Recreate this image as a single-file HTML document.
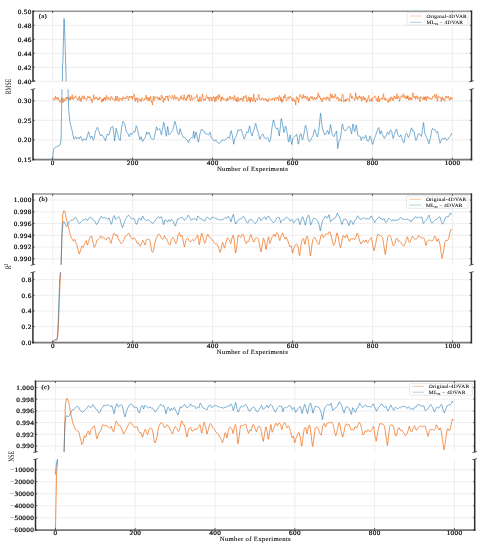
<!DOCTYPE html>
<html><head><meta charset="utf-8"><title>Figure</title>
<style>html,body{margin:0;padding:0;background:#fff;}svg{display:block;}</style>
</head><body>
<svg width="484" height="550" viewBox="0 0 484 550" font-family="Liberation Serif, Times New Roman, serif" text-rendering="geometricPrecision" stroke-linejoin="round">
<rect width="484" height="550" fill="#fff"/>
<defs>
<clipPath id="ca0"><rect x="33.0" y="11.2" width="438.5" height="70.1"/></clipPath>
<clipPath id="ca1"><rect x="33.0" y="89.2" width="438.5" height="70.10000000000001"/></clipPath>
<clipPath id="cb0"><rect x="32.9" y="194.1" width="438.5" height="70.70000000000002"/></clipPath>
<clipPath id="cb1"><rect x="32.9" y="272.2" width="438.5" height="70.10000000000002"/></clipPath>
<clipPath id="cc0"><rect x="35.5" y="381.2" width="439.2" height="70.90000000000003"/></clipPath>
<clipPath id="cc1"><rect x="35.5" y="459.2" width="439.2" height="70.50000000000006"/></clipPath>
</defs>
<line x1="52.60" y1="11.20" x2="52.60" y2="81.30" stroke="#eaeaea" stroke-width="0.8" />
<line x1="132.56" y1="11.20" x2="132.56" y2="81.30" stroke="#eaeaea" stroke-width="0.8" />
<line x1="212.52" y1="11.20" x2="212.52" y2="81.30" stroke="#eaeaea" stroke-width="0.8" />
<line x1="292.48" y1="11.20" x2="292.48" y2="81.30" stroke="#eaeaea" stroke-width="0.8" />
<line x1="372.44" y1="11.20" x2="372.44" y2="81.30" stroke="#eaeaea" stroke-width="0.8" />
<line x1="452.40" y1="11.20" x2="452.40" y2="81.30" stroke="#eaeaea" stroke-width="0.8" />
<line x1="33.00" y1="81.30" x2="471.50" y2="81.30" stroke="#eaeaea" stroke-width="0.8" />
<line x1="33.00" y1="67.30" x2="471.50" y2="67.30" stroke="#eaeaea" stroke-width="0.8" />
<line x1="33.00" y1="53.30" x2="471.50" y2="53.30" stroke="#eaeaea" stroke-width="0.8" />
<line x1="33.00" y1="39.30" x2="471.50" y2="39.30" stroke="#eaeaea" stroke-width="0.8" />
<line x1="33.00" y1="25.30" x2="471.50" y2="25.30" stroke="#eaeaea" stroke-width="0.8" />
<line x1="33.00" y1="11.30" x2="471.50" y2="11.30" stroke="#eaeaea" stroke-width="0.8" />
<polyline points="52.6,146.4 53.0,146.0 53.4,148.0 53.8,150.1 54.2,149.6 54.6,150.1 55.0,146.2 55.4,142.8 55.8,147.7 56.2,148.6 56.6,145.3 57.0,145.1 57.4,146.8 57.8,149.6 58.2,147.0 58.6,145.6 59.0,150.8 59.4,150.7 59.8,154.2 60.2,153.8 60.6,153.8 61.0,149.9 61.4,150.7 61.8,146.7 62.2,146.2 62.6,149.2 63.0,155.3 63.4,150.4 63.8,147.2 64.2,147.6 64.6,151.9 65.0,150.2 65.4,150.8 65.8,149.2 66.2,144.6 66.6,148.4 67.0,146.7 67.4,144.4 67.8,147.9 68.2,147.4 68.6,146.4 69.0,147.4 69.4,150.4 69.8,146.3 70.2,143.5 70.6,149.8 71.0,145.1 71.4,146.1 71.8,147.0 72.2,140.2 72.6,143.6 73.0,149.8 73.4,146.9 73.8,144.9 74.2,146.3 74.6,144.7 75.0,145.8 75.4,143.5 75.8,142.1 76.2,147.5 76.6,146.9 77.0,147.9 77.4,147.6 77.8,150.8 78.2,149.6 78.6,147.1 79.0,143.1 79.4,143.4 79.8,150.6 80.2,149.8 80.6,146.9 81.0,152.9 81.4,149.8 81.8,146.4 82.2,142.2 82.6,143.8 83.0,147.5 83.4,148.3 83.8,146.6 84.2,142.4 84.6,147.1 85.0,147.7 85.4,145.9 85.8,147.0 86.2,148.3 86.6,150.4 87.0,147.9 87.4,147.2 87.8,142.8 88.2,143.7 88.6,145.7 89.0,144.8 89.4,146.4 89.8,143.6 90.2,145.4 90.6,145.8 91.0,150.1 91.4,148.0 91.8,153.4 92.2,154.7 92.6,150.0 93.0,149.7 93.4,145.1 93.8,140.1 94.2,148.0 94.6,149.1 95.0,146.1 95.4,145.1 95.8,147.0 96.2,146.9 96.6,144.2 97.0,145.3 97.4,149.6 97.8,147.7 98.2,147.5 98.6,149.8 99.0,147.4 99.4,148.4 99.8,144.1 100.2,145.2 100.6,146.7 101.0,148.6 101.4,149.1 101.8,154.0 102.2,151.6 102.6,148.1 103.0,152.5 103.4,147.0 103.8,151.0 104.2,146.3 104.6,148.2 105.0,144.8 105.4,146.9 105.8,150.4 106.2,142.8 106.6,141.2 107.0,145.9 107.4,147.7 107.8,148.2 108.2,149.0 108.6,144.4 109.0,147.6 109.4,147.9 109.8,149.8 110.2,150.3 110.6,150.3 111.0,143.8 111.4,145.4 111.8,143.7 112.2,146.4 112.6,149.1 113.0,148.7 113.4,148.7 113.8,147.4 114.2,148.1 114.6,149.0 115.0,151.9 115.4,149.0 115.8,142.6 116.2,148.3 116.6,150.3 117.0,145.4 117.4,143.1 117.8,150.4 118.2,149.0 118.6,150.3 119.0,152.2 119.4,145.8 119.8,146.1 120.2,147.1 120.6,148.7 121.0,146.3 121.4,148.2 121.8,148.5 122.2,151.3 122.6,150.4 123.0,143.8 123.4,147.0 123.8,146.2 124.2,146.9 124.6,148.5 125.0,148.2 125.4,145.3 125.8,147.3 126.2,147.4 126.6,145.8 127.0,142.4 127.4,143.3 127.8,145.4 128.2,149.2 128.6,150.8 129.0,144.0 129.4,143.0 129.8,145.9 130.2,144.4 130.6,143.1 131.0,142.7 131.4,143.4 131.8,146.2 132.2,143.2 132.6,148.8 133.0,144.5 133.4,143.7 133.8,142.0 134.2,138.8 134.6,141.4 135.0,150.5 135.4,152.3 135.8,146.2 136.2,149.3 136.6,146.9 137.0,145.4 137.4,152.9 137.8,154.5 138.2,147.5 138.6,146.6 139.0,147.4 139.4,147.5 139.8,150.6 140.2,152.3 140.6,149.2 141.0,151.2 141.4,152.3 141.8,146.4 142.2,146.2 142.6,146.2 143.0,150.0 143.4,150.4 143.8,151.1 144.2,150.2 144.6,147.4 145.0,148.7 145.4,145.9 145.8,143.7 146.2,141.1 146.6,148.8 147.0,145.0 147.4,146.3 147.8,147.9 148.2,151.7 148.6,148.7 149.0,144.8 149.4,150.8 149.8,146.7 150.2,146.6 150.6,143.3 151.0,147.6 151.4,154.3 151.8,152.2 152.2,156.1 152.6,159.0 152.9,149.9 153.3,142.9 153.7,146.4 154.1,151.1 154.5,149.7 154.9,143.7 155.3,145.3 155.7,146.4 156.1,146.8 156.5,146.0 156.9,143.6 157.3,144.1 157.7,146.4 158.1,149.4 158.5,146.4 158.9,147.6 159.3,144.7 159.7,150.0 160.1,148.1 160.5,147.9 160.9,149.5 161.3,141.1 161.7,141.0 162.1,146.4 162.5,144.3 162.9,146.9 163.3,154.5 163.7,148.0 164.1,146.7 164.5,147.3 164.9,150.3 165.3,148.5 165.7,143.7 166.1,142.8 166.5,144.7 166.9,145.2 167.3,142.3 167.7,147.6 168.1,149.8 168.5,151.5 168.9,142.4 169.3,141.7 169.7,142.4 170.1,143.7 170.5,145.6 170.9,146.1 171.3,147.5 171.7,147.5 172.1,145.5 172.5,141.4 172.9,143.8 173.3,146.9 173.7,149.0 174.1,147.9 174.5,141.7 174.9,141.3 175.3,146.3 175.7,148.6 176.1,148.3 176.5,147.1 176.9,144.3 177.3,147.4 177.7,147.9 178.1,147.5 178.5,147.8 178.9,151.9 179.3,149.4 179.7,148.9 180.1,145.2 180.5,148.0 180.9,144.2 181.3,141.6 181.7,146.9 182.1,148.7 182.5,146.6 182.9,147.3 183.3,149.5 183.7,144.4 184.1,140.1 184.5,146.1 184.9,148.3 185.3,149.9 185.7,147.5 186.1,151.3 186.5,150.2 186.9,144.2 187.3,147.7 187.7,142.7 188.1,140.8 188.5,144.2 188.9,143.1 189.3,140.2 189.7,146.2 190.1,149.8 190.5,151.4 190.9,146.4 191.3,141.2 191.7,143.2 192.1,149.6 192.5,150.5 192.9,148.7 193.3,146.3 193.7,146.9 194.1,145.9 194.5,145.8 194.9,147.4 195.3,146.9 195.7,146.1 196.1,143.1 196.5,143.6 196.9,139.9 197.3,143.3 197.7,147.3 198.1,151.7 198.5,148.3 198.9,153.7 199.3,152.0 199.7,144.5 200.1,143.9 200.5,147.9 200.9,152.5 201.3,149.8 201.7,148.6 202.1,143.4 202.5,138.8 202.9,144.8 203.3,149.9 203.7,151.1 204.1,148.0 204.5,148.2 204.9,150.4 205.3,148.1 205.7,149.4 206.1,143.2 206.5,141.6 206.9,142.7 207.3,146.9 207.7,145.5 208.1,147.0 208.5,148.3 208.9,144.4 209.3,152.2 209.7,151.7 210.1,145.5 210.5,146.5 210.9,145.4 211.3,144.7 211.7,152.0 212.1,150.4 212.5,146.5 212.9,145.6 213.3,146.7 213.7,143.5 214.1,146.2 214.5,151.1 214.9,153.4 215.3,144.5 215.7,146.1 216.1,151.3 216.5,143.4 216.9,142.7 217.3,142.2 217.7,147.1 218.1,148.8 218.5,148.5 218.9,139.6 219.3,144.0 219.7,142.2 220.1,147.4 220.5,148.0 220.9,152.2 221.3,148.5 221.7,144.9 222.1,149.0 222.5,144.0 222.9,145.6 223.3,146.4 223.7,149.5 224.1,148.6 224.5,147.6 224.9,149.1 225.3,150.0 225.7,149.1 226.1,151.2 226.5,151.6 226.9,147.2 227.3,145.1 227.7,150.9 228.1,148.4 228.5,149.5 228.9,149.6 229.3,145.1 229.7,146.5 230.1,142.9 230.5,147.7 230.9,146.2 231.3,147.7 231.7,148.8 232.1,145.5 232.5,146.2 232.9,144.9 233.3,147.2 233.7,150.2 234.1,147.8 234.5,141.2 234.9,144.3 235.3,148.9 235.7,148.9 236.1,151.7 236.5,146.9 236.9,153.5 237.3,153.3 237.7,147.5 238.1,144.5 238.5,151.5 238.9,151.9 239.3,150.8 239.7,150.6 240.1,147.0 240.5,149.5 240.9,149.2 241.3,146.0 241.7,148.3 242.1,146.7 242.5,150.4 242.9,152.7 243.3,152.0 243.7,142.5 244.1,146.1 244.5,146.2 244.9,146.5 245.3,146.1 245.7,144.9 246.1,141.4 246.5,149.7 246.9,153.3 247.3,152.2 247.7,151.1 248.1,144.7 248.5,144.3 248.9,150.2 249.3,152.1 249.7,147.9 250.1,144.8 250.5,154.1 250.9,148.1 251.3,148.9 251.7,145.1 252.1,149.5 252.5,149.6 252.9,152.5 253.3,149.9 253.7,138.9 254.1,143.3 254.5,148.0 254.9,151.3 255.3,153.7 255.7,149.5 256.1,147.2 256.5,147.1 256.9,147.9 257.3,150.4 257.7,147.8 258.1,145.8 258.5,141.1 258.9,139.8 259.3,146.2 259.7,149.3 260.1,148.0 260.5,149.3 260.9,149.6 261.3,148.3 261.7,149.6 262.1,145.7 262.5,146.3 262.9,146.1 263.3,147.7 263.7,149.9 264.1,150.5 264.5,148.6 264.9,148.4 265.3,146.4 265.7,147.6 266.1,151.0 266.5,148.6 266.9,151.4 267.3,150.0 267.7,149.8 268.1,153.5 268.5,147.9 268.9,146.3 269.3,147.4 269.7,148.5 270.1,149.0 270.5,150.3 270.9,148.8 271.3,148.6 271.7,147.8 272.1,150.3 272.5,146.8 272.9,146.2 273.3,147.4 273.7,147.8 274.1,146.6 274.5,151.2 274.9,146.3 275.3,145.3 275.7,145.3 276.1,145.8 276.5,148.7 276.9,147.5 277.3,144.5 277.7,144.7 278.1,146.9 278.5,150.9 278.9,145.2 279.3,141.7 279.7,142.4 280.1,146.3 280.5,150.7 280.9,145.1 281.3,148.4 281.7,154.6 282.1,148.7 282.5,152.2 282.9,152.5 283.3,148.7 283.7,143.4 284.1,146.6 284.5,144.7 284.9,139.6 285.3,140.3 285.7,145.9 286.1,148.5 286.5,151.4 286.9,149.6 287.3,145.6 287.7,145.0 288.1,145.2 288.5,144.0 288.9,148.4 289.3,146.9 289.7,143.9 290.1,143.4 290.5,142.5 290.9,144.8 291.3,147.1 291.7,146.6 292.1,150.9 292.5,152.2 292.9,146.2 293.3,146.2 293.7,147.1 294.1,152.1 294.5,149.7 294.9,149.6 295.3,151.7 295.7,159.0 296.1,148.8 296.5,143.8 296.9,145.2 297.3,148.3 297.7,146.6 298.1,149.1 298.5,155.0 298.9,148.8 299.3,144.5 299.7,142.7 300.1,139.8 300.5,141.5 300.9,144.5 301.3,144.8 301.7,144.4 302.1,147.8 302.5,146.5 302.9,142.3 303.3,139.9 303.7,145.7 304.1,146.8 304.5,145.0 304.9,142.3 305.3,144.6 305.7,142.8 306.1,148.7 306.5,148.2 306.9,146.8 307.3,143.5 307.7,143.9 308.1,151.4 308.5,150.5 308.9,146.9 309.3,149.7 309.7,151.2 310.1,144.2 310.5,143.9 310.9,145.1 311.3,147.0 311.7,144.0 312.1,145.8 312.5,144.1 312.9,149.4 313.3,150.0 313.7,147.3 314.1,148.2 314.5,144.9 314.9,146.1 315.3,149.3 315.7,147.4 316.1,147.0 316.5,144.6 316.9,148.3 317.3,147.6 317.7,141.4 318.1,137.0 318.5,138.5 318.9,144.7 319.3,144.7 319.7,141.7 320.1,146.6 320.5,149.8 320.9,146.7 321.3,148.8 321.7,150.3 322.1,153.7 322.5,152.0 322.9,146.3 323.3,148.7 323.7,147.5 324.1,145.6 324.5,144.8 324.9,146.9 325.3,146.1 325.7,149.4 326.1,149.3 326.5,149.3 326.9,143.9 327.3,146.5 327.7,145.2 328.1,148.6 328.5,147.1 328.9,145.9 329.3,152.0 329.7,151.5 330.1,146.7 330.5,138.2 330.9,141.7 331.3,145.7 331.7,142.9 332.1,139.8 332.5,146.1 332.9,147.0 333.3,142.7 333.7,143.6 334.1,144.5 334.5,146.2 334.9,139.6 335.3,139.3 335.7,143.0 336.1,145.6 336.5,148.4 336.9,146.4 337.3,146.5 337.7,144.9 338.1,144.5 338.5,148.6 338.9,152.0 339.3,147.4 339.7,149.0 340.1,148.8 340.5,149.2 340.9,150.1 341.3,153.3 341.7,144.4 342.1,144.0 342.5,141.4 342.9,139.5 343.3,146.5 343.7,153.1 344.1,151.9 344.5,151.6 344.9,149.2 345.3,148.4 345.7,152.7 346.1,148.4 346.5,151.0 346.9,147.0 347.3,147.1 347.7,147.8 348.1,147.6 348.5,149.0 348.9,150.4 349.3,152.5 349.7,146.6 350.1,139.3 350.5,137.9 350.9,140.3 351.3,143.9 351.7,147.1 352.1,142.7 352.4,145.8 352.8,147.2 353.2,147.6 353.6,147.0 354.0,148.1 354.4,148.2 354.8,150.5 355.2,146.9 355.6,136.5 356.0,140.4 356.4,147.0 356.8,144.6 357.2,144.9 357.6,149.8 358.0,147.5 358.4,143.7 358.8,145.0 359.2,144.8 359.6,142.2 360.0,147.5 360.4,147.3 360.8,147.1 361.2,143.9 361.6,152.3 362.0,150.8 362.4,148.4 362.8,144.5 363.2,143.1 363.6,143.0 364.0,150.0 364.4,145.8 364.8,147.6 365.2,148.6 365.6,146.3 366.0,150.8 366.4,154.3 366.8,150.7 367.2,152.3 367.6,149.6 368.0,145.8 368.4,144.1 368.8,141.6 369.2,147.3 369.6,152.3 370.0,151.0 370.4,151.2 370.8,151.0 371.2,146.8 371.6,150.0 372.0,152.9 372.4,146.1 372.8,146.2 373.2,145.5 373.6,145.6 374.0,144.5 374.4,145.1 374.8,142.4 375.2,144.0 375.6,144.8 376.0,146.2 376.4,151.1 376.8,148.6 377.2,147.5 377.6,147.3 378.0,153.4 378.4,142.5 378.8,146.1 379.2,151.8 379.6,153.3 380.0,149.0 380.4,147.8 380.8,149.0 381.2,147.5 381.6,148.2 382.0,146.0 382.4,148.6 382.8,146.6 383.2,141.6 383.6,138.5 384.0,148.2 384.4,149.6 384.8,149.1 385.2,145.8 385.6,150.1 386.0,149.2 386.4,148.0 386.8,150.6 387.2,150.9 387.6,150.6 388.0,154.9 388.4,153.3 388.8,149.1 389.2,146.7 389.6,148.6 390.0,152.8 390.4,148.9 390.8,144.1 391.2,144.4 391.6,147.2 392.0,149.1 392.4,145.9 392.8,149.0 393.2,151.5 393.6,149.0 394.0,142.5 394.4,143.9 394.8,143.2 395.2,146.5 395.6,144.5 396.0,147.9 396.4,145.7 396.8,138.3 397.2,142.7 397.6,147.7 398.0,147.1 398.4,144.8 398.8,143.0 399.2,148.7 399.6,152.8 400.0,148.9 400.4,146.8 400.8,145.3 401.2,142.1 401.6,144.0 402.0,144.7 402.4,145.4 402.8,143.1 403.2,138.7 403.6,142.3 404.0,145.1 404.4,144.6 404.8,141.6 405.2,148.3 405.6,147.4 406.0,144.7 406.4,144.3 406.8,147.2 407.2,141.9 407.6,147.2 408.0,142.4 408.4,147.9 408.8,150.4 409.2,147.0 409.6,144.7 410.0,149.2 410.4,147.7 410.8,145.6 411.2,149.4 411.6,147.8 412.0,149.0 412.4,142.0 412.8,136.8 413.2,138.6 413.6,145.2 414.0,144.4 414.4,145.6 414.8,145.0 415.2,142.7 415.6,148.8 416.0,144.4 416.4,144.9 416.8,142.1 417.2,145.5 417.6,148.4 418.0,145.7 418.4,144.1 418.8,145.6 419.2,145.5 419.6,149.6 420.0,153.2 420.4,145.0 420.8,143.6 421.2,145.6 421.6,145.5 422.0,147.3 422.4,147.9 422.8,149.4 423.2,146.9 423.6,144.1 424.0,149.2 424.4,144.5 424.8,148.6 425.2,149.7 425.6,143.6 426.0,147.0 426.4,151.2 426.8,144.0 427.2,143.1 427.6,142.5 428.0,146.8 428.4,145.2 428.8,144.6 429.2,147.9 429.6,146.1 430.0,146.9 430.4,148.8 430.8,148.6 431.2,146.8 431.6,147.0 432.0,148.8 432.4,147.6 432.8,143.3 433.2,144.4 433.6,142.7 434.0,141.7 434.4,142.0 434.8,139.6 435.2,146.9 435.6,145.0 436.0,145.6 436.4,139.7 436.8,141.4 437.2,152.3 437.6,150.8 438.0,144.7 438.4,143.1 438.8,143.8 439.2,145.9 439.6,144.8 440.0,144.3 440.4,145.6 440.8,145.2 441.2,152.6 441.6,147.3 442.0,148.7 442.4,144.6 442.8,147.4 443.2,149.4 443.6,146.9 444.0,150.0 444.4,151.5 444.8,152.4 445.2,147.6 445.6,144.3 446.0,143.1 446.4,145.5 446.8,143.4 447.2,145.9 447.6,146.5 448.0,144.1 448.4,143.1 448.8,147.1 449.2,147.8 449.6,150.5 450.0,147.2 450.4,148.7 450.8,144.4 451.2,146.8 451.6,146.2 452.0,148.7 452.4,146.2" fill="none" stroke="#f06408" stroke-width="0.6" stroke-linejoin="round" clip-path="url(#ca0)"/>
<polyline points="52.6,256.3 53.0,247.2 53.6,238.8 54.5,236.0 55.5,234.6 56.5,233.9 58.0,232.9 59.3,231.8 60.4,229.0 61.0,221.3 61.5,179.3 62.0,130.3 62.2,102.3 62.4,81.3 62.5,65.9 62.7,63.1 62.9,62.4 63.2,49.8 63.9,21.1 64.1,18.5 64.3,21.8 65.3,49.8 66.2,81.3 67.2,109.3 68.0,130.3 68.4,151.3 68.8,170.2 70.0,190.5 70.6,194.3 71.0,197.0 71.4,199.7 71.8,202.6 72.2,205.8 72.6,209.2 73.0,212.8 73.4,216.4 73.8,219.8 74.2,219.6 74.6,218.2 75.0,217.1 75.4,215.8 75.8,216.0 76.2,217.8 76.6,219.6 77.0,219.8 77.4,218.6 77.8,217.7 78.2,216.9 78.6,218.2 79.0,219.2 79.4,219.5 79.8,217.5 80.2,215.9 80.6,215.3 81.0,216.8 81.4,218.1 81.8,219.7 82.2,222.1 82.6,223.3 83.0,222.6 83.4,221.4 83.8,220.1 84.2,219.1 84.6,219.5 85.0,220.4 85.4,221.2 85.8,221.9 86.2,221.9 86.6,219.3 87.0,216.6 87.4,213.8 87.8,211.2 88.2,208.9 88.6,206.7 89.0,209.1 89.4,211.7 89.8,214.3 90.2,216.9 90.6,218.7 91.0,217.1 91.4,215.5 91.8,214.4 92.2,216.1 92.6,218.0 93.0,220.2 93.4,222.1 93.8,221.3 94.2,217.5 94.6,213.9 95.0,210.5 95.4,207.2 95.8,205.2 96.2,203.3 96.6,201.7 97.0,200.1 97.4,198.9 97.8,200.5 98.2,202.5 98.6,204.8 99.0,207.0 99.4,209.1 99.8,211.1 100.2,213.3 100.6,214.5 101.0,213.8 101.4,212.5 101.8,211.7 102.2,212.6 102.6,213.8 103.0,214.9 103.4,215.7 103.8,216.9 104.2,218.4 104.6,220.1 105.0,222.0 105.4,223.0 105.8,220.6 106.2,218.2 106.6,215.5 107.0,212.6 107.4,211.1 107.8,211.6 108.2,211.9 108.6,212.3 109.0,212.7 109.4,209.6 109.8,206.6 110.2,204.2 110.6,201.7 111.0,199.1 111.4,198.3 111.8,197.7 112.2,197.4 112.6,196.9 113.0,198.9 113.4,204.7 113.8,210.8 114.2,217.1 114.6,223.3 115.0,217.9 115.4,211.4 115.8,204.9 116.2,200.6 116.6,204.5 117.0,207.7 117.4,209.5 117.8,211.3 118.2,214.0 118.6,217.0 119.0,219.5 119.4,220.7 119.8,221.7 120.2,222.5 120.6,215.9 121.0,208.9 121.4,202.0 121.8,198.4 122.2,195.1 122.6,191.6 123.0,188.0 123.4,189.1 123.8,190.5 124.2,191.5 124.6,192.6 125.0,195.4 125.4,198.5 125.8,201.8 126.2,205.0 126.6,207.1 127.0,207.9 127.4,208.8 127.8,209.8 128.2,211.2 128.6,213.4 129.0,215.5 129.4,215.6 129.8,213.1 130.2,210.7 130.6,209.4 131.0,210.7 131.4,211.5 131.8,211.5 132.2,210.2 132.6,209.2 133.0,208.2 133.4,206.9 133.8,206.2 134.2,206.8 134.6,207.9 135.0,207.4 135.4,203.7 135.8,199.6 136.2,196.0 136.6,197.4 137.0,198.9 137.4,201.0 137.8,204.8 138.2,208.5 138.6,212.1 139.0,215.2 139.4,218.0 139.8,220.9 140.2,219.6 140.6,217.9 141.0,215.8 141.4,217.5 141.8,220.4 142.2,223.8 142.6,224.4 143.0,223.1 143.4,221.5 143.8,220.3 144.2,219.4 144.6,218.8 145.0,217.6 145.4,215.8 145.8,213.5 146.2,210.4 146.6,207.1 147.0,208.0 147.4,209.8 147.8,211.3 148.2,209.8 148.6,208.5 149.0,207.8 149.4,209.5 149.8,212.3 150.2,214.8 150.6,217.0 151.0,219.0 151.4,219.3 151.8,219.7 152.2,220.0 152.6,220.4 152.9,220.6 153.3,220.4 153.7,220.2 154.1,218.7 154.5,215.2 154.9,211.5 155.3,207.8 155.7,204.3 156.1,200.7 156.5,197.9 156.9,199.8 157.3,201.9 157.7,204.0 158.1,203.8 158.5,203.0 158.9,202.2 159.3,201.3 159.7,201.6 160.1,203.8 160.5,206.5 160.9,209.5 161.3,212.3 161.7,210.6 162.1,206.2 162.5,202.1 162.9,198.1 163.3,194.2 163.7,190.1 164.1,191.1 164.5,195.4 164.9,199.8 165.3,204.2 165.7,209.0 166.1,214.0 166.5,215.0 166.9,208.8 167.3,202.4 167.7,197.3 168.1,202.6 168.5,207.8 168.9,212.4 169.3,211.7 169.7,211.1 170.1,210.5 170.5,209.8 170.9,208.8 171.3,207.4 171.7,206.3 172.1,205.4 172.5,204.5 172.9,202.4 173.3,199.8 173.7,196.9 174.1,193.9 174.5,190.7 174.9,188.1 175.3,190.3 175.7,192.9 176.1,195.4 176.5,198.7 176.9,202.4 177.3,206.0 177.7,208.9 178.1,210.1 178.5,211.2 178.9,212.3 179.3,210.1 179.7,205.4 180.1,201.3 180.5,203.9 180.9,206.7 181.3,209.2 181.7,210.6 182.1,212.0 182.5,213.7 182.9,215.5 183.3,216.8 183.7,217.0 184.1,216.8 184.5,216.7 184.9,217.5 185.3,218.6 185.7,219.7 186.1,220.5 186.5,220.9 186.9,221.1 187.3,221.7 187.7,223.2 188.1,224.9 188.5,226.1 188.9,224.3 189.3,222.3 189.7,220.2 190.1,219.2 190.5,218.4 190.9,217.8 191.3,217.4 191.7,217.2 192.1,217.6 192.5,218.3 192.9,217.0 193.3,211.1 193.7,205.8 194.1,212.2 194.5,218.5 194.9,218.3 195.3,213.1 195.7,207.8 196.1,207.3 196.5,210.5 196.9,213.6 197.3,216.7 197.7,220.5 198.1,224.3 198.5,225.5 198.9,221.4 199.3,217.0 199.7,212.9 200.1,209.9 200.5,207.4 200.9,205.1 201.3,202.6 201.7,202.0 202.1,203.0 202.5,204.3 202.9,205.2 203.3,205.5 203.7,205.5 204.1,205.9 204.5,207.7 204.9,209.5 205.3,210.6 205.7,210.4 206.1,210.4 206.5,210.8 206.9,211.3 207.3,211.5 207.7,211.7 208.1,212.1 208.5,212.4 208.9,212.1 209.3,210.3 209.7,208.8 210.1,207.7 210.5,210.4 210.9,213.9 211.3,217.2 211.7,218.2 212.1,218.6 212.5,219.3 212.9,220.4 213.3,221.4 213.7,222.1 214.1,222.9 214.5,224.0 214.9,223.5 215.3,222.5 215.7,221.4 216.1,222.1 216.5,223.5 216.9,224.6 217.3,225.5 217.7,226.5 218.1,227.1 218.5,227.3 218.9,227.5 219.3,228.1 219.7,227.6 220.1,226.1 220.5,224.7 220.9,223.7 221.3,223.0 221.7,223.2 222.1,223.0 222.5,222.3 222.9,221.8 223.3,221.7 223.7,222.3 224.1,222.7 224.5,222.7 224.9,221.8 225.3,221.2 225.7,220.4 226.1,219.4 226.5,218.3 226.9,217.5 227.3,217.0 227.7,216.7 228.1,216.4 228.5,217.3 228.9,217.8 229.3,218.5 229.7,216.2 230.1,212.7 230.5,209.2 230.9,206.0 231.3,205.0 231.7,208.7 232.1,212.0 232.5,214.8 232.9,219.8 233.3,224.7 233.7,229.2 234.1,225.5 234.5,222.2 234.9,219.2 235.3,217.7 235.7,216.7 236.1,215.7 236.5,213.5 236.9,210.8 237.3,208.1 237.7,205.5 238.1,203.0 238.5,203.6 238.9,204.2 239.3,204.6 239.7,204.5 240.1,203.8 240.5,203.3 240.9,202.9 241.3,202.8 241.7,204.9 242.1,207.4 242.5,209.8 242.9,212.4 243.3,215.2 243.7,217.8 244.1,219.8 244.5,219.4 244.9,216.9 245.3,214.9 245.7,212.8 246.1,210.4 246.5,207.7 246.9,206.6 247.3,207.3 247.7,208.3 248.1,208.6 248.5,205.3 248.9,201.8 249.3,198.0 249.7,196.2 250.1,200.5 250.5,204.6 250.9,208.2 251.3,210.2 251.7,212.3 252.1,214.6 252.5,211.9 252.9,209.2 253.3,206.7 253.7,204.3 254.1,201.9 254.5,199.5 254.9,197.1 255.3,194.5 255.7,191.9 256.1,193.8 256.5,197.5 256.9,201.2 257.3,203.7 257.7,205.6 258.1,207.4 258.5,209.9 258.9,213.0 259.3,216.3 259.7,219.5 260.1,220.2 260.5,218.2 260.9,216.1 261.3,214.1 261.7,212.9 262.1,212.0 262.5,211.4 262.9,210.9 263.3,211.5 263.7,214.3 264.1,216.4 264.5,217.9 264.9,217.7 265.3,218.0 265.7,218.7 266.1,218.7 266.5,218.6 266.9,218.4 267.3,217.8 267.7,217.5 268.1,219.0 268.5,220.8 268.9,223.0 269.3,225.2 269.7,224.4 270.1,222.5 270.5,220.7 270.9,216.5 271.3,209.8 271.7,203.6 272.1,198.4 272.5,194.2 272.9,189.9 273.3,186.0 273.7,185.7 274.1,189.1 274.5,192.5 274.9,196.2 275.3,198.3 275.7,199.6 276.1,200.8 276.5,202.0 276.9,201.4 277.3,200.4 277.7,199.9 278.1,203.2 278.5,206.8 278.9,210.6 279.3,214.6 279.7,209.1 280.1,202.5 280.5,195.3 280.9,188.0 281.3,183.1 281.7,186.3 282.1,189.4 282.5,192.4 282.9,196.6 283.3,201.4 283.7,206.8 284.1,208.3 284.5,204.9 284.9,201.3 285.3,197.3 285.7,196.5 286.1,199.8 286.5,203.4 286.9,207.1 287.3,210.9 287.7,215.5 288.1,220.4 288.5,225.4 288.9,224.5 289.3,220.6 289.7,216.4 290.1,212.4 290.5,216.2 290.9,220.8 291.3,225.4 291.7,229.7 292.1,226.5 292.5,222.6 292.9,218.9 293.3,217.6 293.7,217.2 294.1,216.6 294.5,215.6 294.9,214.8 295.3,214.5 295.7,214.1 296.1,212.9 296.5,211.4 296.9,212.8 297.3,217.6 297.7,223.0 298.1,228.3 298.5,229.2 298.9,224.6 299.3,219.6 299.7,214.6 300.1,212.2 300.5,211.0 300.9,210.0 301.3,212.3 301.7,216.1 302.1,220.0 302.5,221.4 302.9,219.0 303.3,216.1 303.7,213.0 304.1,209.4 304.5,204.9 304.9,200.6 305.3,196.4 305.7,195.5 306.1,198.4 306.5,201.2 306.9,204.3 307.3,209.2 307.7,214.8 308.1,219.8 308.5,221.7 308.9,222.9 309.3,224.5 309.7,224.1 310.1,222.8 310.5,221.9 310.9,221.1 311.3,219.7 311.7,218.0 312.1,216.3 312.5,215.2 312.9,214.2 313.3,212.5 313.7,209.2 314.1,205.8 314.5,202.6 314.9,203.2 315.3,205.6 315.7,208.0 316.1,210.2 316.5,212.1 316.9,214.3 317.3,216.3 317.7,215.6 318.1,211.3 318.5,206.7 318.9,202.3 319.3,196.8 319.7,189.2 320.1,181.6 320.5,173.8 320.9,176.4 321.3,183.9 321.7,191.2 322.1,196.3 322.5,200.0 322.9,203.5 323.3,206.0 323.7,207.4 324.1,209.1 324.5,210.8 324.9,212.7 325.3,211.5 325.7,210.4 326.1,209.4 326.5,208.3 326.9,206.8 327.3,204.7 327.7,204.8 328.1,206.7 328.5,209.1 328.9,211.5 329.3,209.0 329.7,204.0 330.1,199.0 330.5,193.9 330.9,197.2 331.3,201.7 331.7,206.6 332.1,210.9 332.5,212.2 332.9,213.4 333.3,214.6 333.7,215.5 334.1,215.5 334.5,213.0 334.9,211.3 335.3,210.2 335.7,209.0 336.1,207.6 336.5,205.6 336.9,215.3 337.3,226.1 337.7,236.8 338.1,233.5 338.5,228.6 338.9,223.9 339.3,222.5 339.7,221.4 340.1,220.3 340.5,218.3 340.9,212.3 341.3,206.2 341.7,200.3 342.1,195.0 342.5,193.1 342.9,196.3 343.3,199.5 343.7,202.0 344.1,203.3 344.5,204.0 344.9,205.0 345.3,205.4 345.7,204.3 346.1,203.4 346.5,202.7 346.9,201.9 347.3,200.7 347.7,199.3 348.1,198.1 348.5,197.4 348.9,196.7 349.3,197.9 349.7,198.7 350.1,199.9 350.5,202.4 350.9,206.0 351.3,209.0 351.7,210.6 352.1,204.7 352.4,199.0 352.8,194.0 353.2,192.9 353.6,197.5 354.0,201.9 354.4,205.9 354.8,206.8 355.2,202.8 355.6,198.9 356.0,195.1 356.4,194.7 356.8,200.0 357.2,205.5 357.6,211.0 358.0,213.8 358.4,214.7 358.8,214.9 359.2,214.9 359.6,214.7 360.0,215.0 360.4,215.9 360.8,219.4 361.2,222.5 361.6,220.8 362.0,218.9 362.4,217.0 362.8,216.3 363.2,217.2 363.6,218.0 364.0,218.7 364.4,218.5 364.8,216.9 365.2,215.0 365.6,213.3 366.0,214.9 366.4,217.3 366.8,220.2 367.2,223.0 367.6,223.9 368.0,224.1 368.4,224.0 368.8,222.8 369.2,219.8 369.6,217.0 370.0,214.1 370.4,214.8 370.8,217.8 371.2,220.5 371.6,223.4 372.0,226.4 372.4,229.5 372.8,229.3 373.2,227.0 373.6,224.3 374.0,221.4 374.4,218.8 374.8,217.1 375.2,215.8 375.6,214.1 376.0,211.6 376.4,208.8 376.8,206.7 377.2,204.7 377.6,203.0 378.0,201.6 378.4,200.3 378.8,199.3 379.2,203.6 379.6,207.5 380.0,211.0 380.4,209.0 380.8,206.6 381.2,204.8 381.6,207.0 382.0,209.6 382.4,211.6 382.8,213.1 383.2,214.1 383.6,215.6 384.0,217.3 384.4,218.7 384.8,217.4 385.2,215.6 385.6,214.7 386.0,214.4 386.4,213.3 386.8,211.2 387.2,208.7 387.6,207.4 388.0,208.8 388.4,210.3 388.8,211.6 389.2,211.0 389.6,207.9 390.0,205.3 390.4,203.4 390.8,204.1 391.2,204.5 391.6,205.4 392.0,209.1 392.4,212.8 392.8,216.2 393.2,219.0 393.6,216.6 394.0,214.4 394.4,212.1 394.8,209.7 395.2,207.5 395.6,205.6 396.0,203.7 396.4,202.0 396.8,203.4 397.2,207.0 397.6,210.6 398.0,212.7 398.4,213.7 398.8,214.7 399.2,215.8 399.6,215.9 400.0,215.0 400.4,213.9 400.8,212.3 401.2,213.7 401.6,216.4 402.0,219.4 402.4,222.0 402.8,223.4 403.2,224.7 403.6,225.9 404.0,226.6 404.4,222.6 404.8,218.6 405.2,214.6 405.6,210.9 406.0,210.1 406.4,209.9 406.8,210.0 407.2,211.0 407.6,213.8 408.0,215.8 408.4,217.5 408.8,216.6 409.2,214.0 409.6,211.8 410.0,209.4 410.4,206.5 410.8,203.4 411.2,200.4 411.6,199.9 412.0,201.7 412.4,204.0 412.8,205.8 413.2,205.5 413.6,205.1 414.0,206.0 414.4,210.0 414.8,213.7 415.2,217.4 415.6,221.4 416.0,222.6 416.4,221.3 416.8,219.5 417.2,217.1 417.6,214.6 418.0,212.4 418.4,210.5 418.8,210.2 419.2,210.3 419.6,210.7 420.0,211.6 420.4,213.2 420.8,214.4 421.2,215.4 421.6,214.3 422.0,208.5 422.4,203.2 422.8,198.5 423.2,194.2 423.6,190.3 424.0,197.0 424.4,203.8 424.8,210.1 425.2,211.4 425.6,212.7 426.0,214.7 426.4,216.5 426.8,217.9 427.2,218.8 427.6,221.1 428.0,223.7 428.4,226.0 428.8,228.3 429.2,226.3 429.6,223.7 430.0,221.4 430.4,218.1 430.8,213.9 431.2,209.3 431.6,205.7 432.0,203.1 432.4,200.8 432.8,200.6 433.2,202.0 433.6,203.1 434.0,203.8 434.4,203.6 434.8,203.3 435.2,203.3 435.6,205.1 436.0,207.1 436.4,208.6 436.8,208.2 437.2,207.6 437.6,206.6 438.0,209.7 438.4,213.2 438.8,217.1 439.2,220.6 439.6,224.2 440.0,227.5 440.4,226.4 440.8,224.1 441.2,221.9 441.6,220.9 442.0,220.0 442.4,218.6 442.8,218.5 443.2,219.2 443.6,220.1 444.0,219.9 444.4,218.9 444.8,217.7 445.2,217.6 445.6,218.8 446.0,220.2 446.4,221.8 446.8,221.4 447.2,220.8 447.6,220.6 448.0,220.2 448.4,219.3 448.8,218.0 449.2,216.6 449.6,215.7 450.0,215.0 450.4,214.6 450.8,213.0 451.2,211.1 451.6,209.4" fill="none" stroke="#1f77b4" stroke-width="0.6" stroke-linejoin="round" clip-path="url(#ca0)"/>
<line x1="32.30" y1="11.20" x2="472.20" y2="11.20" stroke="#959595" stroke-width="1.5" />
<line x1="33.00" y1="10.50" x2="33.00" y2="81.30" stroke="#2e2e2e" stroke-width="1.5" />
<line x1="471.50" y1="10.50" x2="471.50" y2="81.30" stroke="#2e2e2e" stroke-width="1.5" />
<line x1="33.00" y1="81.30" x2="34.80" y2="81.30" stroke="#2e2e2e" stroke-width="0.7" />
<line x1="469.90" y1="81.30" x2="471.50" y2="81.30" stroke="#2e2e2e" stroke-width="0.7" />
<text transform="translate(31.73,83.70) scale(0.1100,0.1)" text-anchor="end" font-size="66.0" fill="#000" letter-spacing="3.00" stroke="#000" stroke-width="2.00">0.40</text>
<line x1="33.00" y1="67.30" x2="34.80" y2="67.30" stroke="#2e2e2e" stroke-width="0.7" />
<line x1="469.90" y1="67.30" x2="471.50" y2="67.30" stroke="#2e2e2e" stroke-width="0.7" />
<text transform="translate(31.73,69.70) scale(0.1100,0.1)" text-anchor="end" font-size="66.0" fill="#000" letter-spacing="3.00" stroke="#000" stroke-width="2.00">0.42</text>
<line x1="33.00" y1="53.30" x2="34.80" y2="53.30" stroke="#2e2e2e" stroke-width="0.7" />
<line x1="469.90" y1="53.30" x2="471.50" y2="53.30" stroke="#2e2e2e" stroke-width="0.7" />
<text transform="translate(31.73,55.70) scale(0.1100,0.1)" text-anchor="end" font-size="66.0" fill="#000" letter-spacing="3.00" stroke="#000" stroke-width="2.00">0.44</text>
<line x1="33.00" y1="39.30" x2="34.80" y2="39.30" stroke="#2e2e2e" stroke-width="0.7" />
<line x1="469.90" y1="39.30" x2="471.50" y2="39.30" stroke="#2e2e2e" stroke-width="0.7" />
<text transform="translate(31.73,41.70) scale(0.1100,0.1)" text-anchor="end" font-size="66.0" fill="#000" letter-spacing="3.00" stroke="#000" stroke-width="2.00">0.46</text>
<line x1="33.00" y1="25.30" x2="34.80" y2="25.30" stroke="#2e2e2e" stroke-width="0.7" />
<line x1="469.90" y1="25.30" x2="471.50" y2="25.30" stroke="#2e2e2e" stroke-width="0.7" />
<text transform="translate(31.73,27.70) scale(0.1100,0.1)" text-anchor="end" font-size="66.0" fill="#000" letter-spacing="3.00" stroke="#000" stroke-width="2.00">0.48</text>
<line x1="33.00" y1="11.30" x2="34.80" y2="11.30" stroke="#2e2e2e" stroke-width="0.7" />
<line x1="469.90" y1="11.30" x2="471.50" y2="11.30" stroke="#2e2e2e" stroke-width="0.7" />
<text transform="translate(31.73,13.70) scale(0.1100,0.1)" text-anchor="end" font-size="66.0" fill="#000" letter-spacing="3.00" stroke="#000" stroke-width="2.00">0.50</text>
<line x1="52.60" y1="11.20" x2="52.60" y2="13.00" stroke="#2e2e2e" stroke-width="0.8" />
<line x1="132.56" y1="11.20" x2="132.56" y2="13.00" stroke="#2e2e2e" stroke-width="0.8" />
<line x1="212.52" y1="11.20" x2="212.52" y2="13.00" stroke="#2e2e2e" stroke-width="0.8" />
<line x1="292.48" y1="11.20" x2="292.48" y2="13.00" stroke="#2e2e2e" stroke-width="0.8" />
<line x1="372.44" y1="11.20" x2="372.44" y2="13.00" stroke="#2e2e2e" stroke-width="0.8" />
<line x1="452.40" y1="11.20" x2="452.40" y2="13.00" stroke="#2e2e2e" stroke-width="0.8" />
<line x1="30.70" y1="81.90" x2="35.30" y2="80.70" stroke="#2e2e2e" stroke-width="0.75" />
<line x1="469.20" y1="81.90" x2="473.80" y2="80.70" stroke="#2e2e2e" stroke-width="0.75" />
<line x1="52.60" y1="89.20" x2="52.60" y2="159.30" stroke="#eaeaea" stroke-width="0.8" />
<line x1="132.56" y1="89.20" x2="132.56" y2="159.30" stroke="#eaeaea" stroke-width="0.8" />
<line x1="212.52" y1="89.20" x2="212.52" y2="159.30" stroke="#eaeaea" stroke-width="0.8" />
<line x1="292.48" y1="89.20" x2="292.48" y2="159.30" stroke="#eaeaea" stroke-width="0.8" />
<line x1="372.44" y1="89.20" x2="372.44" y2="159.30" stroke="#eaeaea" stroke-width="0.8" />
<line x1="452.40" y1="89.20" x2="452.40" y2="159.30" stroke="#eaeaea" stroke-width="0.8" />
<line x1="33.00" y1="159.30" x2="471.50" y2="159.30" stroke="#eaeaea" stroke-width="0.8" />
<line x1="33.00" y1="139.80" x2="471.50" y2="139.80" stroke="#eaeaea" stroke-width="0.8" />
<line x1="33.00" y1="120.30" x2="471.50" y2="120.30" stroke="#eaeaea" stroke-width="0.8" />
<line x1="33.00" y1="100.80" x2="471.50" y2="100.80" stroke="#eaeaea" stroke-width="0.8" />
<polyline points="52.6,98.1 53.0,97.8 53.4,99.0 53.8,100.1 54.2,99.9 54.6,100.2 55.0,98.0 55.4,96.1 55.8,98.8 56.2,99.3 56.6,97.5 57.0,97.3 57.4,98.3 57.8,99.8 58.2,98.4 58.6,97.6 59.0,100.5 59.4,100.5 59.8,102.4 60.2,102.2 60.6,102.2 61.0,100.0 61.4,100.5 61.8,98.2 62.2,97.9 62.6,99.6 63.0,103.0 63.4,100.3 63.8,98.5 64.2,98.7 64.6,101.1 65.0,100.2 65.4,100.5 65.8,99.6 66.2,97.1 66.6,99.2 67.0,98.2 67.4,96.9 67.8,98.9 68.2,98.6 68.6,98.1 69.0,98.6 69.4,100.3 69.8,98.0 70.2,96.5 70.6,100.0 71.0,97.3 71.4,97.9 71.8,98.4 72.2,94.6 72.6,96.5 73.0,100.0 73.4,98.4 73.8,97.3 74.2,98.0 74.6,97.1 75.0,97.7 75.4,96.4 75.8,95.7 76.2,98.7 76.6,98.4 77.0,98.9 77.4,98.7 77.8,100.5 78.2,99.9 78.6,98.4 79.0,96.2 79.4,96.4 79.8,100.4 80.2,99.9 80.6,98.3 81.0,101.7 81.4,100.0 81.8,98.1 82.2,95.7 82.6,96.6 83.0,98.7 83.4,99.1 83.8,98.2 84.2,95.8 84.6,98.4 85.0,98.8 85.4,97.8 85.8,98.4 86.2,99.1 86.6,100.3 87.0,98.9 87.4,98.5 87.8,96.1 88.2,96.6 88.6,97.7 89.0,97.2 89.4,98.1 89.8,96.5 90.2,97.5 90.6,97.8 91.0,100.1 91.4,98.9 91.8,102.0 92.2,102.7 92.6,100.1 93.0,99.9 93.4,97.3 93.8,94.6 94.2,99.0 94.6,99.6 95.0,97.9 95.4,97.3 95.8,98.4 96.2,98.4 96.6,96.9 97.0,97.5 97.4,99.9 97.8,98.8 98.2,98.7 98.6,100.0 99.0,98.6 99.4,99.2 99.8,96.8 100.2,97.4 100.6,98.2 101.0,99.3 101.4,99.6 101.8,102.3 102.2,101.0 102.6,99.0 103.0,101.5 103.4,98.4 103.8,100.6 104.2,98.0 104.6,99.1 105.0,97.2 105.4,98.3 105.8,100.3 106.2,96.1 106.6,95.2 107.0,97.8 107.4,98.8 107.8,99.1 108.2,99.5 108.6,97.0 109.0,98.7 109.4,98.9 109.8,99.9 110.2,100.2 110.6,100.2 111.0,96.6 111.4,97.5 111.8,96.6 112.2,98.1 112.6,99.6 113.0,99.4 113.4,99.4 113.8,98.6 114.2,99.0 114.6,99.5 115.0,101.2 115.4,99.5 115.8,96.0 116.2,99.2 116.6,100.2 117.0,97.5 117.4,96.2 117.8,100.3 118.2,99.5 118.6,100.2 119.0,101.3 119.4,97.7 119.8,97.9 120.2,98.4 120.6,99.3 121.0,98.0 121.4,99.1 121.8,99.2 122.2,100.8 122.6,100.3 123.0,96.6 123.4,98.4 123.8,97.9 124.2,98.4 124.6,99.2 125.0,99.0 125.4,97.5 125.8,98.6 126.2,98.6 126.6,97.7 127.0,95.8 127.4,96.3 127.8,97.5 128.2,99.7 128.6,100.5 129.0,96.7 129.4,96.2 129.8,97.8 130.2,97.0 130.6,96.2 131.0,96.0 131.4,96.4 131.8,98.0 132.2,96.3 132.6,99.4 133.0,97.0 133.4,96.6 133.8,95.6 134.2,93.9 134.6,95.3 135.0,100.3 135.4,101.4 135.8,98.0 136.2,99.7 136.6,98.3 137.0,97.5 137.4,101.7 137.8,102.6 138.2,98.7 138.6,98.2 139.0,98.6 139.4,98.7 139.8,100.4 140.2,101.4 140.6,99.6 141.0,100.8 141.4,101.3 141.8,98.1 142.2,97.9 142.6,98.0 143.0,100.1 143.4,100.3 143.8,100.7 144.2,100.2 144.6,98.6 145.0,99.4 145.4,97.8 145.8,96.6 146.2,95.1 146.6,99.4 147.0,97.3 147.4,98.0 147.8,98.9 148.2,101.0 148.6,99.4 149.0,97.2 149.4,100.5 149.8,98.2 150.2,98.2 150.6,96.3 151.0,98.7 151.4,102.4 151.8,101.3 152.2,103.5 152.6,105.1 152.9,100.0 153.3,96.1 153.7,98.1 154.1,100.7 154.5,99.9 154.9,96.6 155.3,97.4 155.7,98.1 156.1,98.3 156.5,97.8 156.9,96.5 157.3,96.8 157.7,98.1 158.1,99.8 158.5,98.1 158.9,98.7 159.3,97.1 159.7,100.1 160.1,99.0 160.5,98.9 160.9,99.8 161.3,95.1 161.7,95.1 162.1,98.0 162.5,96.9 162.9,98.4 163.3,102.6 163.7,99.0 164.1,98.2 164.5,98.6 164.9,100.2 165.3,99.2 165.7,96.6 166.1,96.1 166.5,97.1 166.9,97.4 167.3,95.8 167.7,98.7 168.1,99.9 168.5,100.9 168.9,95.8 169.3,95.4 169.7,95.9 170.1,96.6 170.5,97.6 170.9,97.9 171.3,98.7 171.7,98.7 172.1,97.5 172.5,95.3 172.9,96.6 173.3,98.3 173.7,99.5 174.1,98.9 174.5,95.4 174.9,95.2 175.3,98.0 175.7,99.3 176.1,99.2 176.5,98.5 176.9,96.9 177.3,98.6 177.7,98.9 178.1,98.7 178.5,98.8 178.9,101.1 179.3,99.7 179.7,99.5 180.1,97.4 180.5,98.9 180.9,96.9 181.3,95.4 181.7,98.4 182.1,99.3 182.5,98.2 182.9,98.6 183.3,99.8 183.7,97.0 184.1,94.6 184.5,97.9 184.9,99.1 185.3,100.0 185.7,98.7 186.1,100.8 186.5,100.2 186.9,96.8 187.3,98.8 187.7,96.0 188.1,94.9 188.5,96.8 188.9,96.3 189.3,94.6 189.7,98.0 190.1,99.9 190.5,100.9 190.9,98.1 191.3,95.2 191.7,96.3 192.1,99.8 192.5,100.4 192.9,99.4 193.3,98.0 193.7,98.4 194.1,97.8 194.5,97.7 194.9,98.6 195.3,98.3 195.7,97.9 196.1,96.2 196.5,96.5 196.9,94.4 197.3,96.3 197.7,98.6 198.1,101.0 198.5,99.2 198.9,102.1 199.3,101.2 199.7,97.0 200.1,96.7 200.5,98.9 200.9,101.5 201.3,99.9 201.7,99.3 202.1,96.4 202.5,93.9 202.9,97.2 203.3,100.0 203.7,100.7 204.1,98.9 204.5,99.1 204.9,100.3 205.3,99.0 205.7,99.7 206.1,96.3 206.5,95.4 206.9,96.0 207.3,98.4 207.7,97.6 208.1,98.4 208.5,99.1 208.9,97.0 209.3,101.3 209.7,101.0 210.1,97.5 210.5,98.1 210.9,97.5 211.3,97.1 211.7,101.2 212.1,100.3 212.5,98.1 212.9,97.6 213.3,98.3 213.7,96.5 214.1,97.9 214.5,100.7 214.9,102.0 215.3,97.0 215.7,97.9 216.1,100.8 216.5,96.4 216.9,96.0 217.3,95.7 217.7,98.4 218.1,99.4 218.5,99.2 218.9,94.3 219.3,96.7 219.7,95.8 220.1,98.6 220.5,99.0 220.9,101.3 221.3,99.2 221.7,97.2 222.1,99.5 222.5,96.7 222.9,97.6 223.3,98.1 223.7,99.8 224.1,99.3 224.5,98.8 224.9,99.6 225.3,100.1 225.7,99.6 226.1,100.8 226.5,101.0 226.9,98.5 227.3,97.4 227.7,100.6 228.1,99.2 228.5,99.8 228.9,99.9 229.3,97.4 229.7,98.1 230.1,96.1 230.5,98.8 230.9,98.0 231.3,98.8 231.7,99.4 232.1,97.6 232.5,98.0 232.9,97.2 233.3,98.5 233.7,100.2 234.1,98.9 234.5,95.2 234.9,96.9 235.3,99.4 235.7,99.4 236.1,101.0 236.5,98.3 236.9,102.0 237.3,101.9 237.7,98.7 238.1,97.0 238.5,100.9 238.9,101.2 239.3,100.5 239.7,100.4 240.1,98.4 240.5,99.8 240.9,99.6 241.3,97.8 241.7,99.1 242.1,98.2 242.5,100.3 242.9,101.6 243.3,101.2 243.7,95.9 244.1,97.9 244.5,97.9 244.9,98.1 245.3,97.9 245.7,97.2 246.1,95.3 246.5,99.9 246.9,101.9 247.3,101.3 247.7,100.7 248.1,97.1 248.5,96.9 248.9,100.2 249.3,101.3 249.7,98.9 250.1,97.2 250.5,102.4 250.9,99.0 251.3,99.5 251.7,97.3 252.1,99.8 252.5,99.9 252.9,101.5 253.3,100.0 253.7,93.9 254.1,96.3 254.5,99.0 254.9,100.8 255.3,102.1 255.7,99.8 256.1,98.5 256.5,98.4 256.9,98.9 257.3,100.3 257.7,98.8 258.1,97.7 258.5,95.1 258.9,94.4 259.3,98.0 259.7,99.7 260.1,99.0 260.5,99.7 260.9,99.8 261.3,99.1 261.7,99.8 262.1,97.7 262.5,98.0 262.9,97.9 263.3,98.8 263.7,100.0 264.1,100.3 264.5,99.3 264.9,99.2 265.3,98.1 265.7,98.7 266.1,100.6 266.5,99.3 266.9,100.9 267.3,100.1 267.7,99.9 268.1,102.0 268.5,98.9 268.9,98.0 269.3,98.6 269.7,99.2 270.1,99.5 270.5,100.2 270.9,99.4 271.3,99.3 271.7,98.8 272.1,100.2 272.5,98.3 272.9,97.9 273.3,98.6 273.7,98.8 274.1,98.2 274.5,100.7 274.9,98.0 275.3,97.5 275.7,97.4 276.1,97.7 276.5,99.3 276.9,98.7 277.3,97.0 277.7,97.1 278.1,98.3 278.5,100.6 278.9,97.4 279.3,95.5 279.7,95.8 280.1,98.0 280.5,100.5 280.9,97.3 281.3,99.2 281.7,102.6 282.1,99.3 282.5,101.3 282.9,101.5 283.3,99.4 283.7,96.4 284.1,98.2 284.5,97.1 284.9,94.3 285.3,94.7 285.7,97.8 286.1,99.3 286.5,100.9 286.9,99.8 287.3,97.6 287.7,97.3 288.1,97.4 288.5,96.8 288.9,99.2 289.3,98.3 289.7,96.7 290.1,96.4 290.5,95.9 290.9,97.2 291.3,98.4 291.7,98.2 292.1,100.6 292.5,101.3 292.9,98.0 293.3,98.0 293.7,98.5 294.1,101.3 294.5,99.9 294.9,99.9 295.3,101.0 295.7,105.1 296.1,99.4 296.5,96.6 296.9,97.4 297.3,99.1 297.7,98.2 298.1,99.6 298.5,102.8 298.9,99.4 299.3,97.0 299.7,96.0 300.1,94.4 300.5,95.3 300.9,97.0 301.3,97.2 301.7,96.9 302.1,98.8 302.5,98.1 302.9,95.8 303.3,94.4 303.7,97.7 304.1,98.3 304.5,97.3 304.9,95.8 305.3,97.0 305.7,96.1 306.1,99.4 306.5,99.1 306.9,98.3 307.3,96.5 307.7,96.7 308.1,100.8 308.5,100.4 308.9,98.3 309.3,99.9 309.7,100.8 310.1,96.8 310.5,96.7 310.9,97.3 311.3,98.4 311.7,96.7 312.1,97.7 312.5,96.8 312.9,99.7 313.3,100.1 313.7,98.6 314.1,99.1 314.5,97.2 314.9,97.9 315.3,99.7 315.7,98.7 316.1,98.4 316.5,97.0 316.9,99.1 317.3,98.7 317.7,95.3 318.1,92.8 318.5,93.7 318.9,97.1 319.3,97.1 319.7,95.5 320.1,98.2 320.5,99.9 320.9,98.3 321.3,99.4 321.7,100.2 322.1,102.1 322.5,101.2 322.9,98.0 323.3,99.3 323.7,98.7 324.1,97.6 324.5,97.2 324.9,98.3 325.3,97.9 325.7,99.8 326.1,99.7 326.5,99.7 326.9,96.7 327.3,98.1 327.7,97.4 328.1,99.3 328.5,98.5 328.9,97.8 329.3,101.2 329.7,100.9 330.1,98.2 330.5,93.5 330.9,95.5 331.3,97.7 331.7,96.1 332.1,94.4 332.5,97.9 332.9,98.4 333.3,96.0 333.7,96.5 334.1,97.0 334.5,98.0 334.9,94.3 335.3,94.1 335.7,96.2 336.1,97.6 336.5,99.2 336.9,98.1 337.3,98.1 337.7,97.2 338.1,97.0 338.5,99.3 338.9,101.2 339.3,98.7 339.7,99.5 340.1,99.4 340.5,99.6 340.9,100.1 341.3,101.9 341.7,97.0 342.1,96.7 342.5,95.3 342.9,94.2 343.3,98.1 343.7,101.8 344.1,101.1 344.5,101.0 344.9,99.6 345.3,99.2 345.7,101.6 346.1,99.2 346.5,100.6 346.9,98.4 347.3,98.4 347.7,98.9 348.1,98.7 348.5,99.5 348.9,100.3 349.3,101.5 349.7,98.2 350.1,94.1 350.5,93.3 350.9,94.7 351.3,96.7 351.7,98.5 352.1,96.0 352.4,97.7 352.8,98.5 353.2,98.7 353.6,98.4 354.0,99.0 354.4,99.0 354.8,100.3 355.2,98.4 355.6,92.6 356.0,94.7 356.4,98.4 356.8,97.1 357.2,97.2 357.6,100.0 358.0,98.7 358.4,96.6 358.8,97.3 359.2,97.2 359.6,95.7 360.0,98.7 360.4,98.6 360.8,98.5 361.2,96.7 361.6,101.3 362.0,100.5 362.4,99.2 362.8,97.0 363.2,96.3 363.6,96.2 364.0,100.1 364.4,97.7 364.8,98.7 365.2,99.3 365.6,98.0 366.0,100.5 366.4,102.5 366.8,100.5 367.2,101.3 367.6,99.9 368.0,97.7 368.4,96.8 368.8,95.4 369.2,98.6 369.6,101.4 370.0,100.7 370.4,100.7 370.8,100.6 371.2,98.3 371.6,100.1 372.0,101.7 372.4,97.9 372.8,98.0 373.2,97.6 373.6,97.6 374.0,97.0 374.4,97.3 374.8,95.8 375.2,96.7 375.6,97.2 376.0,98.0 376.4,100.7 376.8,99.3 377.2,98.7 377.6,98.6 378.0,102.0 378.4,95.9 378.8,97.9 379.2,101.1 379.6,101.9 380.0,99.5 380.4,98.8 380.8,99.5 381.2,98.7 381.6,99.1 382.0,97.9 382.4,99.3 382.8,98.2 383.2,95.4 383.6,93.7 384.0,99.1 384.4,99.8 384.8,99.6 385.2,97.7 385.6,100.1 386.0,99.6 386.4,98.9 386.8,100.4 387.2,100.6 387.6,100.4 388.0,102.8 388.4,101.9 388.8,99.5 389.2,98.2 389.6,99.3 390.0,101.7 390.4,99.5 390.8,96.8 391.2,96.9 391.6,98.5 392.0,99.6 392.4,97.8 392.8,99.5 393.2,100.9 393.6,99.5 394.0,95.9 394.4,96.7 394.8,96.3 395.2,98.2 395.6,97.0 396.0,98.9 396.4,97.7 396.8,93.6 397.2,96.0 397.6,98.8 398.0,98.4 398.4,97.2 398.8,96.2 399.2,99.3 399.6,101.6 400.0,99.5 400.4,98.3 400.8,97.4 401.2,95.7 401.6,96.7 402.0,97.1 402.4,97.5 402.8,96.2 403.2,93.8 403.6,95.8 404.0,97.3 404.4,97.1 404.8,95.4 405.2,99.1 405.6,98.6 406.0,97.1 406.4,96.9 406.8,98.5 407.2,95.6 407.6,98.5 408.0,95.8 408.4,98.9 408.8,100.3 409.2,98.4 409.6,97.1 410.0,99.7 410.4,98.8 410.8,97.6 411.2,99.8 411.6,98.8 412.0,99.5 412.4,95.6 412.8,92.7 413.2,93.7 413.6,97.4 414.0,96.9 414.4,97.6 414.8,97.3 415.2,96.0 415.6,99.4 416.0,96.9 416.4,97.2 416.8,95.7 417.2,97.6 417.6,99.2 418.0,97.7 418.4,96.8 418.8,97.6 419.2,97.6 419.6,99.9 420.0,101.8 420.4,97.3 420.8,96.5 421.2,97.6 421.6,97.6 422.0,98.6 422.4,98.9 422.8,99.7 423.2,98.4 423.6,96.8 424.0,99.6 424.4,97.0 424.8,99.3 425.2,99.9 425.6,96.5 426.0,98.4 426.4,100.7 426.8,96.7 427.2,96.2 427.6,95.9 428.0,98.3 428.4,97.4 428.8,97.1 429.2,98.9 429.6,97.9 430.0,98.4 430.4,99.4 430.8,99.3 431.2,98.3 431.6,98.4 432.0,99.4 432.4,98.7 432.8,96.3 433.2,97.0 433.6,96.0 434.0,95.4 434.4,95.6 434.8,94.3 435.2,98.3 435.6,97.3 436.0,97.6 436.4,94.3 436.8,95.3 437.2,101.4 437.6,100.5 438.0,97.1 438.4,96.2 438.8,96.6 439.2,97.8 439.6,97.2 440.0,96.9 440.4,97.6 440.8,97.4 441.2,101.5 441.6,98.5 442.0,99.4 442.4,97.1 442.8,98.6 443.2,99.7 443.6,98.4 444.0,100.1 444.4,100.9 444.8,101.4 445.2,98.7 445.6,96.9 446.0,96.2 446.4,97.6 446.8,96.4 447.2,97.8 447.6,98.1 448.0,96.8 448.4,96.2 448.8,98.5 449.2,98.9 449.6,100.4 450.0,98.5 450.4,99.3 450.8,97.0 451.2,98.3 451.6,97.9 452.0,99.3 452.4,98.0" fill="none" stroke="#f06408" stroke-width="0.6" stroke-linejoin="round" clip-path="url(#ca1)"/>
<polyline points="52.6,159.3 53.0,154.2 53.6,149.6 54.5,148.0 55.5,147.2 56.5,146.8 58.0,146.2 59.3,145.7 60.4,144.1 61.0,139.8 61.5,116.4 62.0,89.1 62.2,73.5 62.4,61.8 62.5,53.2 62.7,51.7 62.9,51.3 63.2,44.2 63.9,28.3 64.1,26.8 64.3,28.7 65.3,44.2 66.2,61.8 67.2,77.4 68.0,89.1 68.4,100.8 68.8,111.3 70.0,122.6 70.6,124.8 71.0,126.3 71.4,127.8 71.8,129.4 72.2,131.2 72.6,133.0 73.0,135.0 73.4,137.1 73.8,139.0 74.2,138.8 74.6,138.1 75.0,137.5 75.4,136.8 75.8,136.8 76.2,137.9 76.6,138.9 77.0,139.0 77.4,138.3 77.8,137.8 78.2,137.3 78.6,138.1 79.0,138.6 79.4,138.8 79.8,137.7 80.2,136.8 80.6,136.5 81.0,137.3 81.4,138.0 81.8,138.9 82.2,140.2 82.6,140.9 83.0,140.5 83.4,139.8 83.8,139.1 84.2,138.6 84.6,138.8 85.0,139.3 85.4,139.7 85.8,140.1 86.2,140.1 86.6,138.7 87.0,137.2 87.4,135.6 87.8,134.2 88.2,132.9 88.6,131.7 89.0,133.0 89.4,134.4 89.8,135.9 90.2,137.3 90.6,138.3 91.0,137.5 91.4,136.6 91.8,136.0 92.2,136.9 92.6,138.0 93.0,139.2 93.4,140.3 93.8,139.8 94.2,137.7 94.6,135.7 95.0,133.8 95.4,131.9 95.8,130.8 96.2,129.8 96.6,128.9 97.0,128.0 97.4,127.3 97.8,128.2 98.2,129.3 98.6,130.6 99.0,131.9 99.4,133.0 99.8,134.1 100.2,135.4 100.6,136.0 101.0,135.6 101.4,134.9 101.8,134.5 102.2,134.9 102.6,135.6 103.0,136.2 103.4,136.7 103.8,137.3 104.2,138.2 104.6,139.2 105.0,140.2 105.4,140.8 105.8,139.4 106.2,138.1 106.6,136.6 107.0,134.9 107.4,134.1 107.8,134.4 108.2,134.6 108.6,134.8 109.0,135.0 109.4,133.3 109.8,131.6 110.2,130.3 110.6,128.9 111.0,127.5 111.4,127.0 111.8,126.7 112.2,126.5 112.6,126.2 113.0,127.3 113.4,130.6 113.8,134.0 114.2,137.5 114.6,140.9 115.0,137.9 115.4,134.3 115.8,130.7 116.2,128.3 116.6,130.4 117.0,132.2 117.4,133.2 117.8,134.2 118.2,135.8 118.6,137.4 119.0,138.8 119.4,139.5 119.8,140.0 120.2,140.5 120.6,136.8 121.0,132.9 121.4,129.0 121.8,127.0 122.2,125.2 122.6,123.3 123.0,121.3 123.4,121.9 123.8,122.6 124.2,123.2 124.6,123.8 125.0,125.4 125.4,127.1 125.8,128.9 126.2,130.7 126.6,131.9 127.0,132.3 127.4,132.8 127.8,133.4 128.2,134.2 128.6,135.4 129.0,136.6 129.4,136.6 129.8,135.2 130.2,133.9 130.6,133.2 131.0,133.9 131.4,134.4 131.8,134.4 132.2,133.6 132.6,133.0 133.0,132.5 133.4,131.8 133.8,131.4 134.2,131.7 134.6,132.3 135.0,132.1 135.4,130.0 135.8,127.7 136.2,125.7 136.6,126.5 137.0,127.3 137.4,128.5 137.8,130.6 138.2,132.7 138.6,134.7 139.0,136.4 139.4,138.0 139.8,139.6 140.2,138.9 140.6,137.9 141.0,136.7 141.4,137.7 141.8,139.3 142.2,141.2 142.6,141.5 143.0,140.8 143.4,139.9 143.8,139.3 144.2,138.7 144.6,138.4 145.0,137.7 145.4,136.8 145.8,135.4 146.2,133.7 146.6,131.9 147.0,132.4 147.4,133.4 147.8,134.2 148.2,133.4 148.6,132.7 149.0,132.3 149.4,133.2 149.8,134.8 150.2,136.2 150.6,137.4 151.0,138.5 151.4,138.7 151.8,138.9 152.2,139.1 152.6,139.3 152.9,139.4 153.3,139.3 153.7,139.2 154.1,138.4 154.5,136.4 154.9,134.3 155.3,132.3 155.7,130.3 156.1,128.3 156.5,126.8 156.9,127.8 157.3,129.0 157.7,130.2 158.1,130.0 158.5,129.6 158.9,129.1 159.3,128.7 159.7,128.8 160.1,130.1 160.5,131.5 160.9,133.2 161.3,134.8 161.7,133.8 162.1,131.4 162.5,129.1 162.9,126.9 163.3,124.7 163.7,122.4 164.1,123.0 164.5,125.4 164.9,127.8 165.3,130.3 165.7,132.9 166.1,135.7 166.5,136.3 166.9,132.8 167.3,129.3 167.7,126.5 168.1,129.4 168.5,132.3 168.9,134.8 169.3,134.5 169.7,134.1 170.1,133.8 170.5,133.4 170.9,132.8 171.3,132.1 171.7,131.5 172.1,130.9 172.5,130.4 172.9,129.3 173.3,127.8 173.7,126.2 174.1,124.5 174.5,122.8 174.9,121.3 175.3,122.5 175.7,124.0 176.1,125.4 176.5,127.2 176.9,129.3 177.3,131.3 177.7,132.9 178.1,133.6 178.5,134.2 178.9,134.8 179.3,133.6 179.7,130.9 180.1,128.6 180.5,130.1 180.9,131.7 181.3,133.1 181.7,133.8 182.1,134.6 182.5,135.5 182.9,136.6 183.3,137.3 183.7,137.4 184.1,137.3 184.5,137.3 184.9,137.7 185.3,138.3 185.7,138.9 186.1,139.4 186.5,139.6 186.9,139.7 187.3,140.0 187.7,140.9 188.1,141.8 188.5,142.5 188.9,141.5 189.3,140.4 189.7,139.2 190.1,138.6 190.5,138.2 190.9,137.8 191.3,137.6 191.7,137.5 192.1,137.8 192.5,138.1 192.9,137.4 193.3,134.1 193.7,131.2 194.1,134.7 194.5,138.3 194.9,138.2 195.3,135.2 195.7,132.3 196.1,132.0 196.5,133.8 196.9,135.5 197.3,137.2 197.7,139.3 198.1,141.5 198.5,142.2 198.9,139.9 199.3,137.4 199.7,135.1 200.1,133.4 200.5,132.1 200.9,130.8 201.3,129.4 201.7,129.0 202.1,129.6 202.5,130.4 202.9,130.8 203.3,131.0 203.7,131.0 204.1,131.2 204.5,132.2 204.9,133.2 205.3,133.8 205.7,133.7 206.1,133.7 206.5,134.0 206.9,134.2 207.3,134.3 207.7,134.4 208.1,134.7 208.5,134.8 208.9,134.7 209.3,133.7 209.7,132.8 210.1,132.2 210.5,133.7 210.9,135.7 211.3,137.5 211.7,138.1 212.1,138.3 212.5,138.7 212.9,139.3 213.3,139.9 213.7,140.2 214.1,140.7 214.5,141.3 214.9,141.0 215.3,140.5 215.7,139.9 216.1,140.2 216.5,141.0 216.9,141.6 217.3,142.2 217.7,142.7 218.1,143.0 218.5,143.1 218.9,143.3 219.3,143.6 219.7,143.3 220.1,142.5 220.5,141.7 220.9,141.1 221.3,140.8 221.7,140.9 222.1,140.7 222.5,140.4 222.9,140.1 223.3,140.0 223.7,140.3 224.1,140.6 224.5,140.6 224.9,140.1 225.3,139.7 225.7,139.3 226.1,138.7 226.5,138.1 226.9,137.7 227.3,137.4 227.7,137.2 228.1,137.1 228.5,137.6 228.9,137.9 229.3,138.3 229.7,136.9 230.1,135.0 230.5,133.0 230.9,131.3 231.3,130.7 231.7,132.8 232.1,134.6 232.5,136.2 232.9,138.9 233.3,141.7 233.7,144.2 234.1,142.1 234.5,140.3 234.9,138.6 235.3,137.8 235.7,137.2 236.1,136.7 236.5,135.4 236.9,134.0 237.3,132.4 237.7,131.0 238.1,129.6 238.5,129.9 238.9,130.3 239.3,130.5 239.7,130.4 240.1,130.0 240.5,129.7 240.9,129.6 241.3,129.5 241.7,130.7 242.1,132.1 242.5,133.4 242.9,134.8 243.3,136.4 243.7,137.9 244.1,139.0 244.5,138.7 244.9,137.4 245.3,136.2 245.7,135.1 246.1,133.7 246.5,132.2 246.9,131.6 247.3,132.0 247.7,132.5 248.1,132.7 248.5,130.9 248.9,128.9 249.3,126.8 249.7,125.8 250.1,128.2 250.5,130.5 250.9,132.5 251.3,133.6 251.7,134.8 252.1,136.1 252.5,134.5 252.9,133.1 253.3,131.7 253.7,130.3 254.1,129.0 254.5,127.7 254.9,126.3 255.3,124.8 255.7,123.4 256.1,124.5 256.5,126.6 256.9,128.6 257.3,130.0 257.7,131.0 258.1,132.1 258.5,133.5 258.9,135.2 259.3,137.0 259.7,138.8 260.1,139.2 260.5,138.1 260.9,136.9 261.3,135.8 261.7,135.1 262.1,134.6 262.5,134.3 262.9,134.0 263.3,134.3 263.7,135.9 264.1,137.1 264.5,137.9 264.9,137.8 265.3,138.0 265.7,138.4 266.1,138.3 266.5,138.3 266.9,138.2 267.3,137.9 267.7,137.7 268.1,138.5 268.5,139.5 268.9,140.8 269.3,142.0 269.7,141.6 270.1,140.5 270.5,139.5 270.9,137.1 271.3,133.4 271.7,129.9 272.1,127.0 272.5,124.7 272.9,122.3 273.3,120.1 273.7,120.0 274.1,121.9 274.5,123.7 274.9,125.8 275.3,127.0 275.7,127.7 276.1,128.4 276.5,129.0 276.9,128.7 277.3,128.2 277.7,127.9 278.1,129.7 278.5,131.7 278.9,133.8 279.3,136.1 279.7,133.0 280.1,129.3 280.5,125.3 280.9,121.2 281.3,118.5 281.7,120.3 282.1,122.0 282.5,123.7 282.9,126.0 283.3,128.7 283.7,131.7 284.1,132.5 284.5,130.7 284.9,128.6 285.3,126.4 285.7,126.0 286.1,127.8 286.5,129.8 286.9,131.9 287.3,134.0 287.7,136.6 288.1,139.3 288.5,142.1 288.9,141.6 289.3,139.4 289.7,137.1 290.1,134.9 290.5,137.0 290.9,139.5 291.3,142.1 291.7,144.5 292.1,142.7 292.5,140.5 292.9,138.5 293.3,137.7 293.7,137.5 294.1,137.2 294.5,136.6 294.9,136.2 295.3,136.0 295.7,135.8 296.1,135.1 296.5,134.3 296.9,135.1 297.3,137.8 297.7,140.8 298.1,143.7 298.5,144.2 298.9,141.7 299.3,138.8 299.7,136.1 300.1,134.7 300.5,134.1 300.9,133.5 301.3,134.8 301.7,136.9 302.1,139.1 302.5,139.9 302.9,138.5 303.3,136.9 303.7,135.2 304.1,133.1 304.5,130.7 304.9,128.3 305.3,125.9 305.7,125.4 306.1,127.1 306.5,128.6 306.9,130.3 307.3,133.1 307.7,136.2 308.1,138.9 308.5,140.0 308.9,140.7 309.3,141.6 309.7,141.4 310.1,140.6 310.5,140.1 310.9,139.7 311.3,138.9 311.7,137.9 312.1,137.0 312.5,136.4 312.9,135.8 313.3,134.9 313.7,133.0 314.1,131.1 314.5,129.4 314.9,129.7 315.3,131.0 315.7,132.4 316.1,133.6 316.5,134.7 316.9,135.9 317.3,137.0 317.7,136.6 318.1,134.2 318.5,131.6 318.9,129.2 319.3,126.2 319.7,121.9 320.1,117.7 320.5,113.3 320.9,114.8 321.3,119.0 321.7,123.1 322.1,125.9 322.5,128.0 322.9,129.9 323.3,131.3 323.7,132.1 324.1,133.0 324.5,133.9 324.9,135.0 325.3,134.3 325.7,133.7 326.1,133.2 326.5,132.6 326.9,131.7 327.3,130.6 327.7,130.6 328.1,131.7 328.5,133.0 328.9,134.3 329.3,132.9 329.7,130.1 330.1,127.4 330.5,124.6 330.9,126.4 331.3,128.9 331.7,131.6 332.1,134.0 332.5,134.7 332.9,135.4 333.3,136.1 333.7,136.6 334.1,136.5 334.5,135.2 334.9,134.2 335.3,133.6 335.7,132.9 336.1,132.1 336.5,131.1 336.9,136.4 337.3,142.5 337.7,148.5 338.1,146.6 338.5,143.9 338.9,141.3 339.3,140.5 339.7,139.9 340.1,139.2 340.5,138.2 340.9,134.8 341.3,131.4 341.7,128.1 342.1,125.1 342.5,124.1 342.9,125.9 343.3,127.6 343.7,129.1 344.1,129.8 344.5,130.2 344.9,130.7 345.3,131.0 345.7,130.3 346.1,129.8 346.5,129.4 346.9,129.0 347.3,128.4 347.7,127.5 348.1,126.9 348.5,126.5 348.9,126.1 349.3,126.7 349.7,127.2 350.1,127.9 350.5,129.3 350.9,131.3 351.3,133.0 351.7,133.8 352.1,130.5 352.4,127.4 352.8,124.6 353.2,124.0 353.6,126.6 354.0,129.0 354.4,131.2 354.8,131.7 355.2,129.5 355.6,127.3 356.0,125.2 356.4,125.0 356.8,127.9 357.2,131.0 357.6,134.1 358.0,135.6 358.4,136.1 358.8,136.2 359.2,136.2 359.6,136.1 360.0,136.3 360.4,136.8 360.8,138.7 361.2,140.5 361.6,139.5 362.0,138.4 362.4,137.4 362.8,137.0 363.2,137.5 363.6,138.0 364.0,138.3 364.4,138.2 364.8,137.3 365.2,136.3 365.6,135.3 366.0,136.3 366.4,137.6 366.8,139.2 367.2,140.7 367.6,141.2 368.0,141.4 368.4,141.3 368.8,140.6 369.2,138.9 369.6,137.4 370.0,135.8 370.4,136.2 370.8,137.8 371.2,139.4 371.6,140.9 372.0,142.6 372.4,144.3 372.8,144.3 373.2,143.0 373.6,141.5 374.0,139.8 374.4,138.4 374.8,137.5 375.2,136.7 375.6,135.8 376.0,134.4 376.4,132.9 376.8,131.7 377.2,130.5 377.6,129.6 378.0,128.8 378.4,128.1 378.8,127.6 379.2,129.9 379.6,132.1 380.0,134.1 380.4,133.0 380.8,131.6 381.2,130.6 381.6,131.8 382.0,133.3 382.4,134.4 382.8,135.3 383.2,135.8 383.6,136.6 384.0,137.6 384.4,138.4 384.8,137.6 385.2,136.6 385.6,136.1 386.0,136.0 386.4,135.3 386.8,134.2 387.2,132.8 387.6,132.1 388.0,132.8 388.4,133.7 388.8,134.4 389.2,134.0 389.6,132.4 390.0,130.9 390.4,129.8 390.8,130.2 391.2,130.4 391.6,130.9 392.0,133.0 392.4,135.1 392.8,136.9 393.2,138.5 393.6,137.2 394.0,135.9 394.4,134.7 394.8,133.3 395.2,132.1 395.6,131.1 396.0,130.0 396.4,129.0 396.8,129.8 397.2,131.8 397.6,133.8 398.0,135.0 398.4,135.6 398.8,136.1 399.2,136.7 399.6,136.8 400.0,136.3 400.4,135.7 400.8,134.8 401.2,135.6 401.6,137.1 402.0,138.7 402.4,140.2 402.8,141.0 403.2,141.7 403.6,142.4 404.0,142.8 404.4,140.5 404.8,138.3 405.2,136.1 405.6,134.0 406.0,133.6 406.4,133.4 406.8,133.5 407.2,134.1 407.6,135.6 408.0,136.7 408.4,137.7 408.8,137.2 409.2,135.8 409.6,134.5 410.0,133.2 410.4,131.6 410.8,129.8 411.2,128.2 411.6,127.9 412.0,128.9 412.4,130.2 412.8,131.1 413.2,131.0 413.6,130.8 414.0,131.3 414.4,133.5 414.8,135.6 415.2,137.6 415.6,139.9 416.0,140.5 416.4,139.8 416.8,138.8 417.2,137.4 417.6,136.1 418.0,134.8 418.4,133.8 418.8,133.6 419.2,133.7 419.6,133.9 420.0,134.4 420.4,135.3 420.8,136.0 421.2,136.5 421.6,135.9 422.0,132.7 422.4,129.7 422.8,127.1 423.2,124.7 423.6,122.5 424.0,126.2 424.4,130.1 424.8,133.6 425.2,134.3 425.6,135.0 426.0,136.1 426.4,137.1 426.8,137.9 427.2,138.4 427.6,139.7 428.0,141.1 428.4,142.4 428.8,143.7 429.2,142.6 429.6,141.1 430.0,139.9 430.4,138.0 430.8,135.7 431.2,133.1 431.6,131.1 432.0,129.7 432.4,128.4 432.8,128.3 433.2,129.1 433.6,129.7 434.0,130.0 434.4,129.9 434.8,129.8 435.2,129.8 435.6,130.8 436.0,131.9 436.4,132.7 436.8,132.5 437.2,132.2 437.6,131.6 438.0,133.4 438.4,135.3 438.8,137.4 439.2,139.4 439.6,141.4 440.0,143.3 440.4,142.6 440.8,141.4 441.2,140.1 441.6,139.6 442.0,139.1 442.4,138.3 442.8,138.2 443.2,138.6 443.6,139.1 444.0,139.0 444.4,138.4 444.8,137.8 445.2,137.8 445.6,138.4 446.0,139.2 446.4,140.1 446.8,139.9 447.2,139.5 447.6,139.4 448.0,139.2 448.4,138.7 448.8,138.0 449.2,137.2 449.6,136.7 450.0,136.3 450.4,136.1 450.8,135.2 451.2,134.1 451.6,133.1" fill="none" stroke="#1f77b4" stroke-width="0.6" stroke-linejoin="round" clip-path="url(#ca1)"/>
<line x1="32.30" y1="159.65" x2="472.20" y2="159.65" stroke="#7a7a7a" stroke-width="1.7" />
<line x1="33.00" y1="89.20" x2="33.00" y2="160.40" stroke="#2e2e2e" stroke-width="1.5" />
<line x1="471.50" y1="89.20" x2="471.50" y2="160.40" stroke="#2e2e2e" stroke-width="1.5" />
<line x1="33.00" y1="159.30" x2="34.80" y2="159.30" stroke="#2e2e2e" stroke-width="0.7" />
<line x1="469.90" y1="159.30" x2="471.50" y2="159.30" stroke="#2e2e2e" stroke-width="0.7" />
<text transform="translate(31.73,161.70) scale(0.1100,0.1)" text-anchor="end" font-size="66.0" fill="#000" letter-spacing="3.00" stroke="#000" stroke-width="2.00">0.15</text>
<line x1="33.00" y1="139.80" x2="34.80" y2="139.80" stroke="#2e2e2e" stroke-width="0.7" />
<line x1="469.90" y1="139.80" x2="471.50" y2="139.80" stroke="#2e2e2e" stroke-width="0.7" />
<text transform="translate(31.73,142.20) scale(0.1100,0.1)" text-anchor="end" font-size="66.0" fill="#000" letter-spacing="3.00" stroke="#000" stroke-width="2.00">0.20</text>
<line x1="33.00" y1="120.30" x2="34.80" y2="120.30" stroke="#2e2e2e" stroke-width="0.7" />
<line x1="469.90" y1="120.30" x2="471.50" y2="120.30" stroke="#2e2e2e" stroke-width="0.7" />
<text transform="translate(31.73,122.70) scale(0.1100,0.1)" text-anchor="end" font-size="66.0" fill="#000" letter-spacing="3.00" stroke="#000" stroke-width="2.00">0.25</text>
<line x1="33.00" y1="100.80" x2="34.80" y2="100.80" stroke="#2e2e2e" stroke-width="0.7" />
<line x1="469.90" y1="100.80" x2="471.50" y2="100.80" stroke="#2e2e2e" stroke-width="0.7" />
<text transform="translate(31.73,103.20) scale(0.1100,0.1)" text-anchor="end" font-size="66.0" fill="#000" letter-spacing="3.00" stroke="#000" stroke-width="2.00">0.30</text>
<line x1="52.60" y1="157.50" x2="52.60" y2="159.30" stroke="#2e2e2e" stroke-width="0.8" />
<text transform="translate(52.77,164.90) scale(0.1100,0.1)" text-anchor="middle" font-size="66.0" fill="#000" letter-spacing="3.00" stroke="#000" stroke-width="2.00">0</text>
<line x1="132.56" y1="157.50" x2="132.56" y2="159.30" stroke="#2e2e2e" stroke-width="0.8" />
<text transform="translate(132.72,164.90) scale(0.1100,0.1)" text-anchor="middle" font-size="66.0" fill="#000" letter-spacing="3.00" stroke="#000" stroke-width="2.00">200</text>
<line x1="212.52" y1="157.50" x2="212.52" y2="159.30" stroke="#2e2e2e" stroke-width="0.8" />
<text transform="translate(212.68,164.90) scale(0.1100,0.1)" text-anchor="middle" font-size="66.0" fill="#000" letter-spacing="3.00" stroke="#000" stroke-width="2.00">400</text>
<line x1="292.48" y1="157.50" x2="292.48" y2="159.30" stroke="#2e2e2e" stroke-width="0.8" />
<text transform="translate(292.65,164.90) scale(0.1100,0.1)" text-anchor="middle" font-size="66.0" fill="#000" letter-spacing="3.00" stroke="#000" stroke-width="2.00">600</text>
<line x1="372.44" y1="157.50" x2="372.44" y2="159.30" stroke="#2e2e2e" stroke-width="0.8" />
<text transform="translate(372.61,164.90) scale(0.1100,0.1)" text-anchor="middle" font-size="66.0" fill="#000" letter-spacing="3.00" stroke="#000" stroke-width="2.00">800</text>
<line x1="452.40" y1="157.50" x2="452.40" y2="159.30" stroke="#2e2e2e" stroke-width="0.8" />
<text transform="translate(452.57,164.90) scale(0.1100,0.1)" text-anchor="middle" font-size="66.0" fill="#000" letter-spacing="3.00" stroke="#000" stroke-width="2.00">1000</text>
<line x1="30.70" y1="89.80" x2="35.30" y2="88.60" stroke="#2e2e2e" stroke-width="0.75" />
<line x1="469.20" y1="89.80" x2="473.80" y2="88.60" stroke="#2e2e2e" stroke-width="0.75" />
<text transform="translate(252.55,170.90) scale(0.1045,0.1)" text-anchor="middle" font-size="64.0" fill="#000" letter-spacing="3.00" stroke="#111" stroke-width="0.80">Number of Experiments</text>
<text transform="translate(11.20,86.50) rotate(-90) scale(0.1,0.1500)" text-anchor="middle" font-size="56.0" fill="#111">RMSE</text>
<text transform="translate(38.80,18.20) scale(0.1100,0.1)" text-anchor="start" font-size="60.0" fill="#000" letter-spacing="3.00" stroke="#000" stroke-width="1.80">(a)</text>
<rect x="407" y="12.3" width="61" height="12.7" fill="#fff" fill-opacity="0.8" stroke="#d8d8d8" stroke-width="0.6" rx="1"/>
<line x1="410.00" y1="16.00" x2="421.60" y2="16.00" stroke="#f06408" stroke-width="0.5" stroke-opacity="0.7"/>
<line x1="410.00" y1="22.30" x2="421.60" y2="22.30" stroke="#1f77b4" stroke-width="0.5" stroke-opacity="0.7"/>
<text transform="translate(426.40,17.80) scale(0.1100,0.1)" text-anchor="start" font-size="50.0" fill="#000" letter-spacing="1.80" stroke="#1a1a1a" stroke-width="0.70">Original-4DVAR</text>
<text transform="translate(426.40,24.10) scale(0.1100,0.1)" text-anchor="start" font-size="50.0" fill="#000" letter-spacing="1.80" stroke="#1a1a1a" stroke-width="0.70">ML<tspan font-size="34.0" dy="10.0">ct</tspan><tspan dy="-10.0"> − 4DVAR</tspan></text>
<line x1="52.70" y1="194.10" x2="52.70" y2="264.80" stroke="#eaeaea" stroke-width="0.8" />
<line x1="132.66" y1="194.10" x2="132.66" y2="264.80" stroke="#eaeaea" stroke-width="0.8" />
<line x1="212.62" y1="194.10" x2="212.62" y2="264.80" stroke="#eaeaea" stroke-width="0.8" />
<line x1="292.58" y1="194.10" x2="292.58" y2="264.80" stroke="#eaeaea" stroke-width="0.8" />
<line x1="372.54" y1="194.10" x2="372.54" y2="264.80" stroke="#eaeaea" stroke-width="0.8" />
<line x1="452.50" y1="194.10" x2="452.50" y2="264.80" stroke="#eaeaea" stroke-width="0.8" />
<line x1="32.90" y1="258.80" x2="471.40" y2="258.80" stroke="#eaeaea" stroke-width="0.8" />
<line x1="32.90" y1="247.05" x2="471.40" y2="247.05" stroke="#eaeaea" stroke-width="0.8" />
<line x1="32.90" y1="235.30" x2="471.40" y2="235.30" stroke="#eaeaea" stroke-width="0.8" />
<line x1="32.90" y1="223.55" x2="471.40" y2="223.55" stroke="#eaeaea" stroke-width="0.8" />
<line x1="32.90" y1="211.80" x2="471.40" y2="211.80" stroke="#eaeaea" stroke-width="0.8" />
<line x1="32.90" y1="200.05" x2="471.40" y2="200.05" stroke="#eaeaea" stroke-width="0.8" />
<polyline points="52.7,6075.1 54.0,6016.3 55.5,5957.6 57.0,5898.8 57.8,5605.1 58.5,4606.3 59.3,3020.1 60.0,1668.8 60.7,846.3 61.0,493.8 61.1,264.7 61.9,233.3 62.7,215.0 63.7,211.0 64.7,211.1 65.1,212.7 65.5,214.6 65.9,216.5 66.3,218.3 66.7,220.0 67.1,221.8 67.5,223.4 67.9,225.1 68.3,226.8 68.7,228.6 69.1,230.2 69.5,231.8 69.9,233.2 70.3,234.4 70.7,235.5 71.1,236.7 71.5,238.0 71.9,238.7 72.3,239.0 72.7,239.8 73.1,240.9 73.5,241.2 73.9,240.6 74.3,239.6 74.7,239.4 75.1,240.3 75.5,241.5 75.9,242.8 76.3,243.8 76.7,244.7 77.1,245.7 77.5,247.5 77.9,249.0 78.3,250.3 78.7,252.0 79.1,253.9 79.5,253.8 79.9,252.4 80.3,250.9 80.7,249.5 81.1,248.4 81.5,247.3 81.9,246.3 82.3,246.7 82.7,247.2 83.1,247.5 83.5,246.4 83.9,245.2 84.3,244.2 84.7,243.4 85.1,242.8 85.5,242.3 85.9,241.6 86.3,240.6 86.7,242.5 87.1,244.6 87.5,245.1 87.9,243.7 88.3,242.5 88.7,241.2 89.1,239.8 89.5,238.5 89.9,237.4 90.3,236.6 90.7,236.5 91.1,236.3 91.5,236.1 91.9,237.8 92.3,239.5 92.7,240.8 93.1,242.3 93.5,244.1 93.9,246.3 94.3,247.4 94.7,246.8 95.1,246.2 95.5,245.5 95.9,244.1 96.3,242.6 96.7,240.8 97.1,240.3 97.5,239.9 97.9,239.7 98.3,239.3 98.7,238.9 99.1,238.6 99.5,238.1 99.9,237.3 100.3,236.5 100.7,235.8 101.1,236.5 101.5,237.3 101.9,237.9 102.3,238.1 102.7,237.9 103.1,237.5 103.5,237.3 103.9,237.4 104.3,237.7 104.7,238.4 105.1,239.1 105.5,239.6 105.9,240.2 106.3,239.9 106.7,239.1 107.1,238.3 107.5,237.8 107.9,237.5 108.3,237.1 108.7,237.1 109.1,237.9 109.5,238.9 109.9,240.3 110.3,241.7 110.7,242.9 111.1,243.3 111.5,241.2 111.9,239.5 112.3,238.0 112.7,236.9 113.1,235.6 113.5,234.1 113.9,233.3 114.3,233.5 114.7,233.7 115.1,234.3 115.5,235.1 115.9,235.9 116.3,235.4 116.7,234.9 117.1,234.7 117.5,235.8 117.9,237.4 118.3,238.7 118.7,239.5 119.1,240.1 119.5,240.8 119.9,241.5 120.3,242.3 120.7,243.1 121.1,243.8 121.5,243.4 121.9,243.0 122.3,242.6 122.7,242.2 123.1,241.5 123.5,240.7 123.9,239.8 124.3,238.8 124.7,237.7 125.1,236.8 125.5,236.1 125.9,235.7 126.3,235.7 126.7,235.4 127.1,235.0 127.5,234.4 127.9,233.9 128.3,233.4 128.7,233.0 129.1,233.6 129.5,234.4 129.9,235.4 130.3,236.4 130.7,237.2 131.1,238.0 131.5,238.6 131.9,238.6 132.3,238.9 132.7,239.2 133.1,239.2 133.5,238.6 133.9,238.0 134.3,237.7 134.7,238.1 135.1,239.2 135.5,239.9 135.9,240.5 136.3,241.0 136.7,242.0 137.1,243.2 137.5,243.6 137.9,243.4 138.3,242.8 138.7,242.9 139.1,244.1 139.5,245.2 139.9,246.1 140.3,246.3 140.7,245.3 141.1,244.4 141.5,243.4 141.9,242.4 142.3,241.2 142.7,240.2 143.1,240.8 143.5,241.5 143.9,242.4 144.3,243.4 144.7,244.6 145.1,245.0 145.5,243.2 145.9,241.4 146.3,239.9 146.7,239.6 147.1,239.4 147.5,239.2 147.9,239.0 148.3,239.3 148.7,239.4 149.1,239.4 149.5,239.6 149.9,241.2 150.3,242.8 150.7,244.8 151.1,247.6 151.5,250.0 151.9,251.3 152.3,252.0 152.7,252.4 153.0,251.6 153.4,250.6 153.8,249.1 154.2,246.8 154.6,244.4 155.0,242.5 155.4,240.9 155.8,239.6 156.2,238.3 156.6,237.6 157.0,236.7 157.4,235.7 157.8,234.8 158.2,234.8 158.6,234.5 159.0,234.3 159.4,234.3 159.8,234.8 160.2,235.4 160.6,236.4 161.0,237.5 161.4,238.2 161.8,238.9 162.2,239.1 162.6,239.1 163.0,239.3 163.4,239.0 163.8,237.8 164.2,236.4 164.6,235.6 165.0,236.4 165.4,237.5 165.8,238.1 166.2,238.5 166.6,238.7 167.0,239.5 167.4,240.5 167.8,241.5 168.2,242.6 168.6,243.3 169.0,244.1 169.4,244.7 169.8,245.1 170.2,244.3 170.6,242.5 171.0,240.8 171.4,239.3 171.8,238.6 172.2,238.2 172.6,237.6 173.0,237.3 173.4,237.9 173.8,238.6 174.2,239.3 174.6,240.3 175.0,241.4 175.4,242.6 175.8,243.5 176.2,242.8 176.6,242.0 177.0,240.9 177.4,238.9 177.8,236.7 178.2,234.5 178.6,233.5 179.0,233.0 179.4,232.6 179.8,233.6 180.2,234.9 180.6,236.3 181.0,236.5 181.4,236.1 181.8,235.3 182.2,236.0 182.6,237.8 183.0,239.9 183.4,241.9 183.8,243.9 184.2,246.0 184.6,247.0 185.0,245.0 185.4,242.6 185.8,240.6 186.2,239.7 186.6,238.9 187.0,238.4 187.4,238.3 187.8,238.3 188.2,238.5 188.6,239.9 189.0,240.8 189.4,241.3 189.8,241.2 190.2,241.5 190.6,241.9 191.0,241.5 191.4,240.9 191.8,240.3 192.2,239.6 192.6,239.6 193.0,239.9 193.4,240.2 193.8,240.7 194.2,240.5 194.6,240.1 195.0,239.4 195.4,238.6 195.8,238.1 196.2,237.9 196.6,237.4 197.0,236.4 197.4,235.2 197.8,235.2 198.2,237.8 198.6,240.7 199.0,243.6 199.4,244.7 199.8,242.4 200.2,240.1 200.6,237.9 201.0,236.0 201.4,234.3 201.8,233.0 202.2,234.5 202.6,236.0 203.0,237.3 203.4,238.8 203.8,240.1 204.2,241.5 204.6,243.3 205.0,242.8 205.4,241.8 205.8,240.6 206.2,239.2 206.6,237.7 207.0,236.1 207.4,234.5 207.8,234.0 208.2,234.6 208.6,235.4 209.0,236.4 209.4,237.3 209.8,237.8 210.2,238.0 210.6,238.1 211.0,238.6 211.4,239.2 211.8,239.5 212.2,239.7 212.6,240.0 213.0,240.6 213.4,241.3 213.8,242.1 214.2,242.6 214.6,243.0 215.0,243.5 215.4,244.0 215.8,244.1 216.2,243.9 216.6,243.8 217.0,244.2 217.4,245.1 217.8,246.0 218.2,246.7 218.6,247.5 219.0,248.7 219.4,250.3 219.8,252.1 220.2,252.4 220.6,251.2 221.0,249.8 221.4,247.9 221.8,245.6 222.2,243.5 222.6,242.3 223.0,243.1 223.4,244.4 223.8,245.9 224.2,247.5 224.6,248.2 225.0,246.5 225.4,244.6 225.8,242.8 226.2,241.3 226.6,240.1 227.0,238.9 227.4,238.0 227.8,237.9 228.2,238.5 228.6,239.0 229.0,239.3 229.4,240.0 229.8,241.2 230.2,242.5 230.6,243.7 231.0,242.6 231.4,240.8 231.8,238.8 232.2,237.6 232.6,236.4 233.0,235.3 233.4,235.8 233.8,238.1 234.2,240.7 234.6,244.4 235.0,248.7 235.4,252.7 235.8,253.0 236.2,250.2 236.6,247.4 237.0,244.7 237.4,241.5 237.8,238.2 238.2,235.5 238.6,235.2 239.0,235.4 239.4,235.8 239.8,236.6 240.2,237.1 240.6,237.4 241.0,236.8 241.4,236.2 241.8,235.4 242.2,234.6 242.6,234.4 243.0,234.6 243.4,234.8 243.8,235.5 244.2,237.6 244.6,239.5 245.0,241.0 245.4,241.7 245.8,242.7 246.2,243.7 246.6,242.8 247.0,241.9 247.4,241.1 247.8,241.4 248.2,241.6 248.6,241.7 249.0,240.5 249.4,239.0 249.8,237.2 250.2,236.1 250.6,235.2 251.0,234.6 251.4,235.7 251.8,237.2 252.2,238.5 252.6,239.5 253.0,240.4 253.4,241.3 253.8,242.1 254.2,241.8 254.6,240.6 255.0,239.3 255.4,238.2 255.8,237.8 256.2,237.7 256.6,237.7 257.0,237.5 257.4,238.1 257.8,238.5 258.2,239.0 258.6,239.6 259.0,241.9 259.4,244.2 259.8,246.5 260.2,248.3 260.6,250.0 261.0,251.8 261.4,249.8 261.8,247.5 262.2,245.0 262.6,242.7 263.0,240.5 263.4,238.2 263.8,238.4 264.2,239.8 264.6,241.2 265.0,243.4 265.4,246.2 265.8,249.2 266.2,249.5 266.6,247.0 267.0,244.2 267.4,241.8 267.8,239.8 268.2,237.9 268.6,236.8 269.0,238.9 269.4,241.4 269.8,243.5 270.2,242.8 270.6,241.7 271.0,240.4 271.4,239.2 271.8,238.0 272.2,236.8 272.6,236.1 273.0,235.6 273.4,235.0 273.8,234.2 274.2,234.9 274.6,235.7 275.0,236.4 275.4,236.4 275.8,234.9 276.2,233.7 276.6,232.8 277.0,232.7 277.4,233.3 277.8,233.8 278.2,234.4 278.6,235.8 279.0,238.0 279.4,240.1 279.8,240.6 280.2,239.3 280.6,237.8 281.0,236.4 281.4,235.5 281.8,234.6 282.2,233.6 282.6,232.9 283.0,233.8 283.4,235.2 283.8,236.6 284.2,237.5 284.6,238.2 285.0,239.0 285.4,238.4 285.8,237.7 286.2,237.0 286.6,238.1 287.0,239.2 287.4,239.9 287.8,240.7 288.2,241.8 288.6,243.1 289.0,244.5 289.4,245.7 289.8,246.8 290.2,246.7 290.6,246.1 291.0,245.6 291.4,246.4 291.8,249.0 292.2,252.0 292.6,253.2 293.0,251.9 293.4,250.3 293.8,248.8 294.2,247.7 294.6,246.6 295.0,245.4 295.4,244.7 295.8,244.3 296.2,244.2 296.6,244.0 297.0,244.5 297.4,245.3 297.8,246.3 298.2,248.1 298.6,250.8 299.0,253.4 299.4,255.6 299.8,255.0 300.2,251.4 300.6,248.1 301.0,245.4 301.4,243.5 301.8,241.6 302.2,239.9 302.6,239.4 303.0,238.9 303.4,238.3 303.8,239.0 304.2,241.5 304.6,244.0 305.0,244.4 305.4,242.3 305.8,240.0 306.2,237.7 306.6,236.8 307.0,236.7 307.4,236.2 307.8,237.6 308.2,240.1 308.6,242.6 309.0,245.4 309.4,248.6 309.8,251.9 310.2,255.3 310.6,255.9 311.0,252.6 311.4,249.2 311.8,245.9 312.2,243.2 312.6,241.0 313.0,239.6 313.4,239.0 313.8,238.4 314.2,237.7 314.6,237.1 315.0,237.6 315.4,238.3 315.8,239.2 316.2,240.1 316.6,241.0 317.0,241.9 317.4,242.8 317.8,243.3 318.2,243.8 318.6,244.1 319.0,244.5 319.4,242.7 319.8,240.8 320.2,238.9 320.6,236.8 321.0,235.6 321.4,235.1 321.8,234.6 322.2,234.4 322.6,235.3 323.0,236.4 323.4,237.6 323.8,237.2 324.2,236.5 324.6,235.7 325.0,235.0 325.4,234.6 325.8,234.4 326.2,234.2 326.6,233.7 327.0,233.6 327.4,233.8 327.8,234.2 328.2,234.0 328.6,232.9 329.0,232.0 329.4,231.6 329.8,231.9 330.2,232.9 330.6,233.7 331.0,235.0 331.4,237.1 331.8,238.9 332.2,240.4 332.6,241.8 333.0,243.3 333.4,244.8 333.8,245.4 334.2,244.6 334.6,243.9 335.0,242.7 335.4,240.9 335.8,238.5 336.2,236.2 336.6,233.9 337.0,232.9 337.4,234.0 337.8,235.0 338.2,236.6 338.6,239.1 339.0,241.7 339.4,244.0 339.8,245.5 340.2,246.9 340.6,247.6 341.0,245.8 341.4,244.0 341.8,242.1 342.2,239.8 342.6,237.5 343.0,235.7 343.4,235.8 343.8,236.0 344.2,236.1 344.6,236.8 345.0,237.4 345.4,238.0 345.8,237.1 346.2,236.0 346.6,234.8 347.0,234.9 347.4,236.0 347.8,237.3 348.2,238.5 348.6,239.5 349.0,240.5 349.4,241.4 349.8,240.7 350.2,239.8 350.6,238.8 351.0,238.6 351.4,238.7 351.8,239.2 352.2,239.4 352.5,239.1 352.9,238.4 353.3,238.5 353.7,239.1 354.1,239.5 354.5,239.5 354.9,238.7 355.3,238.1 355.7,237.5 356.1,236.5 356.5,235.0 356.9,233.6 357.3,233.2 357.7,234.1 358.1,235.1 358.5,236.1 358.9,237.8 359.3,239.5 359.7,241.0 360.1,241.9 360.5,243.0 360.9,244.1 361.3,243.7 361.7,243.2 362.1,242.3 362.5,241.4 362.9,240.8 363.3,240.6 363.7,241.2 364.1,241.7 364.5,242.3 364.9,242.0 365.3,241.1 365.7,240.0 366.1,239.9 366.5,240.5 366.9,241.6 367.3,242.4 367.7,242.7 368.1,242.5 368.5,241.7 368.9,240.6 369.3,239.7 369.7,239.3 370.1,238.8 370.5,238.3 370.9,237.7 371.3,237.5 371.7,239.1 372.1,241.8 372.5,244.3 372.9,246.2 373.3,247.7 373.7,249.3 374.1,250.8 374.5,249.1 374.9,247.1 375.3,245.4 375.7,243.7 376.1,241.5 376.5,239.0 376.9,237.2 377.3,236.0 377.7,234.7 378.1,234.2 378.5,234.3 378.9,234.7 379.3,235.1 379.7,235.3 380.1,235.4 380.5,235.5 380.9,235.7 381.3,236.3 381.7,236.8 382.1,237.2 382.5,237.4 382.9,239.3 383.3,241.8 383.7,244.6 384.1,247.5 384.5,249.9 384.9,252.2 385.3,254.6 385.7,252.3 386.1,249.0 386.5,245.6 386.9,242.8 387.3,240.1 387.7,237.5 388.1,236.6 388.5,236.0 388.9,235.3 389.3,235.2 389.7,235.5 390.1,235.8 390.5,236.4 390.9,237.5 391.3,238.8 391.7,240.2 392.1,241.7 392.5,243.3 392.9,244.7 393.3,245.8 393.7,245.5 394.1,244.6 394.5,244.2 394.9,243.5 395.3,241.9 395.7,240.1 396.1,238.7 396.5,238.2 396.9,237.9 397.3,238.4 397.7,239.8 398.1,240.8 398.5,241.3 398.9,241.1 399.3,241.0 399.7,241.2 400.1,241.5 400.5,242.0 400.9,242.5 401.3,243.3 401.7,244.0 402.1,244.3 402.5,244.6 402.9,245.1 403.3,245.8 403.7,246.2 404.1,245.3 404.5,244.4 404.9,243.8 405.3,242.8 405.7,241.7 406.1,240.4 406.5,239.3 406.9,238.0 407.3,236.7 407.7,237.6 408.1,239.3 408.5,240.9 408.9,241.6 409.3,242.0 409.7,242.6 410.1,242.1 410.5,240.8 410.9,239.5 411.3,238.7 411.7,237.9 412.1,236.8 412.5,236.0 412.9,236.7 413.3,237.5 413.7,238.1 414.1,238.5 414.5,239.0 414.9,239.4 415.3,239.1 415.7,238.9 416.1,238.8 416.5,238.8 416.9,238.7 417.3,238.4 417.7,237.5 418.1,236.5 418.5,235.5 418.9,235.4 419.3,235.9 419.7,236.5 420.1,237.1 420.5,237.3 420.9,237.3 421.3,237.2 421.7,237.4 422.1,238.0 422.5,238.4 422.9,238.2 423.3,237.8 423.7,238.1 424.1,238.6 424.5,239.5 424.9,240.8 425.3,242.9 425.7,244.8 426.1,245.5 426.5,243.8 426.9,242.3 427.3,241.5 427.7,241.2 428.1,240.7 428.5,240.1 428.9,240.2 429.3,240.2 429.7,240.0 430.1,239.8 430.5,240.1 430.9,240.5 431.3,241.0 431.7,241.3 432.1,240.8 432.5,240.5 432.9,240.2 433.3,239.6 433.7,238.5 434.1,237.4 434.5,236.3 434.9,236.0 435.3,236.6 435.7,237.5 436.1,239.0 436.5,240.5 436.9,241.4 437.3,241.3 437.7,239.9 438.1,238.9 438.5,238.9 438.9,240.5 439.3,241.7 439.7,243.0 440.1,245.4 440.5,248.1 440.9,251.0 441.3,253.7 441.7,256.3 442.1,258.4 442.5,256.4 442.9,254.7 443.3,253.4 443.7,250.8 444.1,247.4 444.5,243.9 444.9,242.2 445.3,241.3 445.7,240.2 446.1,240.0 446.5,240.3 446.9,240.7 447.3,240.7 447.7,240.0 448.1,239.5 448.5,238.6 448.9,237.3 449.3,235.7 449.7,233.8 450.1,232.0 450.5,230.3 450.9,229.4 451.3,230.4" fill="none" stroke="#f06408" stroke-width="0.7" stroke-linejoin="round" clip-path="url(#cb0)"/>
<polyline points="52.7,6075.1 53.5,5957.6 54.9,5851.8 56.2,5863.6 57.2,5769.6 57.7,5252.6 58.3,4253.8 59.0,2726.3 59.6,1492.5 60.3,787.5 60.7,493.8 61.1,264.7 62.1,233.3 63.1,222.2 64.0,221.5 64.7,223.0 65.1,223.5 65.5,224.7 65.9,225.9 66.3,226.5 66.7,226.1 67.1,225.7 67.5,225.1 67.9,224.3 68.3,223.3 68.7,222.2 69.1,221.9 69.5,221.7 69.9,221.6 70.3,221.1 70.7,220.6 71.1,220.4 71.5,220.1 71.9,220.1 72.3,220.1 72.7,220.3 73.1,220.1 73.5,219.5 73.9,218.8 74.3,218.2 74.7,217.9 75.1,217.6 75.5,217.4 75.9,217.6 76.3,218.3 76.7,219.0 77.1,219.4 77.5,220.6 77.9,221.7 78.3,222.7 78.7,223.0 79.1,223.1 79.5,223.2 79.9,223.2 80.3,222.7 80.7,222.2 81.1,221.8 81.5,221.6 81.9,221.1 82.3,220.7 82.7,220.2 83.1,220.0 83.5,219.8 83.9,219.8 84.3,219.9 84.7,219.8 85.1,219.5 85.5,219.0 85.9,218.6 86.3,219.0 86.7,219.7 87.1,220.3 87.5,220.4 87.9,219.9 88.3,219.1 88.7,218.3 89.1,217.9 89.5,217.6 89.9,217.2 90.3,216.8 90.7,217.1 91.1,217.6 91.5,218.2 91.9,218.6 92.3,218.8 92.7,219.0 93.1,219.4 93.5,220.1 93.9,220.6 94.3,220.9 94.7,221.2 95.1,221.8 95.5,222.5 95.9,223.4 96.3,224.3 96.7,224.5 97.1,224.0 97.5,223.4 97.9,223.0 98.3,222.0 98.7,221.0 99.1,219.9 99.5,219.1 99.9,218.8 100.3,218.2 100.7,217.3 101.1,216.3 101.5,216.5 101.9,217.0 102.3,217.6 102.7,218.0 103.1,218.0 103.5,217.8 103.9,217.6 104.3,217.3 104.7,217.6 105.1,217.9 105.5,218.0 105.9,218.2 106.3,218.4 106.7,218.8 107.1,219.2 107.5,219.3 107.9,219.0 108.3,218.7 108.7,218.2 109.1,217.7 109.5,218.8 109.9,220.4 110.3,221.8 110.7,222.8 111.1,223.5 111.5,224.3 111.9,223.0 112.3,221.0 112.7,219.0 113.1,217.7 113.5,216.8 113.9,216.1 114.3,215.6 114.7,216.7 115.1,218.1 115.5,219.3 115.9,219.5 116.3,218.9 116.7,218.4 117.1,217.9 117.5,217.7 117.9,217.5 118.3,217.2 118.7,216.7 119.1,217.0 119.5,217.7 119.9,218.6 120.3,220.5 120.7,222.2 121.1,223.7 121.5,224.8 121.9,226.1 122.3,227.6 122.7,227.2 123.1,226.0 123.5,224.7 123.9,223.6 124.3,222.4 124.7,221.4 125.1,220.3 125.5,219.5 125.9,218.8 126.3,218.1 126.7,217.5 127.1,216.8 127.5,216.2 127.9,215.6 128.3,215.3 128.7,215.3 129.1,216.0 129.5,216.5 129.9,216.8 130.3,217.2 130.7,217.6 131.1,218.2 131.5,218.8 131.9,218.8 132.3,218.8 132.7,218.8 133.1,218.6 133.5,218.7 133.9,218.7 134.3,218.8 134.7,219.7 135.1,221.2 135.5,222.6 135.9,223.7 136.3,223.9 136.7,224.2 137.1,224.1 137.5,222.5 137.9,220.9 138.3,219.5 138.7,218.7 139.1,218.6 139.5,218.4 139.9,218.6 140.3,219.3 140.7,219.9 141.1,220.3 141.5,219.0 141.9,217.8 142.3,216.7 142.7,216.1 143.1,217.0 143.5,218.0 143.9,218.8 144.3,219.2 144.7,219.4 145.1,219.6 145.5,219.7 145.9,220.1 146.3,220.6 146.7,220.5 147.1,220.3 147.5,220.0 147.9,219.7 148.3,219.8 148.7,220.0 149.1,220.3 149.5,220.6 149.9,221.2 150.3,221.6 150.7,221.8 151.1,221.9 151.5,222.2 151.9,222.8 152.3,223.3 152.7,223.2 153.0,223.0 153.4,222.8 153.8,222.5 154.2,222.1 154.6,221.6 155.0,221.0 155.4,220.3 155.8,219.7 156.2,219.1 156.6,218.5 157.0,218.1 157.4,217.7 157.8,217.3 158.2,216.7 158.6,216.8 159.0,217.3 159.4,218.0 159.8,218.3 160.2,217.9 160.6,217.3 161.0,216.7 161.4,217.2 161.8,218.3 162.2,219.3 162.6,220.7 163.0,222.5 163.4,224.5 163.8,224.3 164.2,222.7 164.6,221.0 165.0,219.9 165.4,219.9 165.8,220.0 166.2,220.2 166.6,220.7 167.0,221.4 167.4,221.9 167.8,221.8 168.2,220.8 168.6,220.1 169.0,219.6 169.4,220.3 169.8,221.0 170.2,221.5 170.6,220.8 171.0,220.1 171.4,219.4 171.8,219.3 172.2,220.0 172.6,220.5 173.0,221.1 173.4,222.0 173.8,223.0 174.2,223.8 174.6,224.7 175.0,225.6 175.4,226.1 175.8,224.7 176.2,223.4 176.6,222.1 177.0,220.9 177.4,219.8 177.8,218.8 178.2,219.0 178.6,219.1 179.0,219.2 179.4,218.7 179.8,218.1 180.2,217.7 180.6,217.5 181.0,217.6 181.4,217.6 181.8,217.4 182.2,217.1 182.6,217.7 183.0,218.4 183.4,219.2 183.8,219.7 184.2,220.0 184.6,220.1 185.0,220.1 185.4,219.4 185.8,218.8 186.2,218.3 186.6,218.2 187.0,217.8 187.4,217.1 187.8,216.1 188.2,215.1 188.6,215.6 189.0,216.3 189.4,217.0 189.8,217.8 190.2,218.6 190.6,219.5 191.0,220.3 191.4,220.1 191.8,219.7 192.2,219.2 192.6,218.8 193.0,218.9 193.4,219.0 193.8,219.2 194.2,218.9 194.6,218.8 195.0,218.7 195.4,219.1 195.8,219.5 196.2,220.1 196.6,220.2 197.0,218.9 197.4,217.2 197.8,216.0 198.2,216.2 198.6,216.7 199.0,217.1 199.4,217.7 199.8,218.2 200.2,218.7 200.6,218.7 201.0,218.9 201.4,219.1 201.8,219.4 202.2,219.7 202.6,219.9 203.0,220.0 203.4,220.1 203.8,220.3 204.2,220.8 204.6,221.3 205.0,220.7 205.4,219.7 205.8,218.8 206.2,217.9 206.6,217.5 207.0,217.3 207.4,217.2 207.8,217.5 208.2,217.8 208.6,218.1 209.0,218.6 209.4,219.1 209.8,219.4 210.2,219.5 210.6,219.4 211.0,218.8 211.4,218.0 211.8,217.4 212.2,217.3 212.6,217.2 213.0,217.2 213.4,217.3 213.8,217.7 214.2,218.1 214.6,218.2 215.0,218.2 215.4,218.1 215.8,218.1 216.2,218.1 216.6,218.2 217.0,218.8 217.4,219.5 217.8,220.0 218.2,220.1 218.6,219.8 219.0,219.6 219.4,219.6 219.8,219.6 220.2,219.9 220.6,219.9 221.0,219.9 221.4,220.0 221.8,219.8 222.2,219.5 222.6,219.1 223.0,219.2 223.4,219.6 223.8,219.3 224.2,218.6 224.6,218.0 225.0,217.5 225.4,217.6 225.8,217.8 226.2,218.1 226.6,218.4 227.0,218.0 227.4,217.2 227.8,216.5 228.2,216.1 228.6,216.8 229.0,217.3 229.4,217.7 229.8,218.4 230.2,219.8 230.6,221.2 231.0,221.9 231.4,220.5 231.8,218.8 232.2,217.1 232.6,216.0 233.0,215.1 233.4,214.3 233.8,216.2 234.2,218.3 234.6,220.4 235.0,221.8 235.4,223.0 235.8,224.0 236.2,223.5 236.6,222.6 237.0,221.7 237.4,221.1 237.8,220.6 238.2,220.1 238.6,219.6 239.0,219.5 239.4,219.5 239.8,219.3 240.2,219.2 240.6,219.1 241.0,218.8 241.4,218.5 241.8,218.2 242.2,217.5 242.6,216.9 243.0,216.4 243.4,216.1 243.8,216.7 244.2,217.1 244.6,217.7 245.0,218.5 245.4,219.7 245.8,220.7 246.2,221.7 246.6,222.4 247.0,222.5 247.4,222.8 247.8,223.1 248.2,222.7 248.6,221.6 249.0,220.4 249.4,219.7 249.8,219.7 250.2,219.8 250.6,219.6 251.0,219.5 251.4,219.7 251.8,220.0 252.2,220.3 252.6,220.8 253.0,221.4 253.4,221.9 253.8,222.4 254.2,222.7 254.6,222.9 255.0,223.3 255.4,223.6 255.8,223.2 256.2,222.7 256.6,222.2 257.0,221.7 257.4,220.7 257.8,219.6 258.2,218.5 258.6,218.0 259.0,217.5 259.4,217.3 259.8,218.3 260.2,219.3 260.6,220.5 261.0,220.7 261.4,220.4 261.8,220.0 262.2,219.3 262.6,218.8 263.0,218.3 263.4,217.9 263.8,217.4 264.2,217.0 264.6,216.8 265.0,217.3 265.4,218.5 265.8,219.6 266.2,219.6 266.6,218.6 267.0,217.6 267.4,216.9 267.8,216.5 268.2,216.1 268.6,216.0 269.0,216.7 269.4,217.5 269.8,218.1 270.2,218.6 270.6,219.1 271.0,219.8 271.4,220.5 271.8,221.1 272.2,221.5 272.6,221.9 273.0,222.6 273.4,222.6 273.8,222.4 274.2,222.2 274.6,221.8 275.0,221.1 275.4,220.4 275.8,219.8 276.2,219.0 276.6,218.3 277.0,217.8 277.4,217.5 277.8,217.3 278.2,217.4 278.6,217.5 279.0,217.5 279.4,217.7 279.8,219.3 280.2,220.9 280.6,222.7 281.0,222.6 281.4,221.2 281.8,220.7 282.2,220.4 282.6,220.0 283.0,220.1 283.4,220.0 283.8,219.8 284.2,219.7 284.6,219.4 285.0,218.9 285.4,218.3 285.8,217.7 286.2,217.2 286.6,217.3 287.0,217.7 287.4,217.7 287.8,218.0 288.2,218.1 288.6,218.5 289.0,219.1 289.4,219.9 289.8,220.6 290.2,221.2 290.6,220.7 291.0,220.2 291.4,219.8 291.8,219.4 292.2,220.2 292.6,220.9 293.0,221.6 293.4,222.6 293.8,222.8 294.2,222.7 294.6,222.1 295.0,221.2 295.4,220.5 295.8,220.2 296.2,220.0 296.6,219.7 297.0,219.4 297.4,219.1 297.8,218.9 298.2,218.6 298.6,219.6 299.0,221.2 299.4,222.9 299.8,224.7 300.2,223.8 300.6,222.5 301.0,221.0 301.4,219.6 301.8,218.5 302.2,217.6 302.6,216.7 303.0,217.9 303.4,219.0 303.8,220.0 304.2,221.1 304.6,222.3 305.0,223.7 305.4,225.2 305.8,223.6 306.2,221.7 306.6,219.7 307.0,217.7 307.4,216.8 307.8,216.0 308.2,215.4 308.6,215.1 309.0,216.4 309.4,218.0 309.8,219.8 310.2,222.3 310.6,224.7 311.0,224.8 311.4,223.7 311.8,222.5 312.2,221.2 312.6,220.3 313.0,219.3 313.4,218.5 313.8,218.4 314.2,218.5 314.6,218.4 315.0,218.3 315.4,218.4 315.8,218.8 316.2,219.2 316.6,219.6 317.0,220.0 317.4,220.7 317.8,221.4 318.2,222.2 318.6,223.3 319.0,224.7 319.4,225.8 319.8,228.2 320.2,230.9 320.6,230.0 321.0,227.4 321.4,225.3 321.8,223.6 322.2,221.8 322.6,220.5 323.0,220.0 323.4,219.4 323.8,218.8 324.2,218.1 324.6,217.3 325.0,216.5 325.4,215.9 325.8,216.0 326.2,216.7 326.6,217.5 327.0,218.2 327.4,218.1 327.8,217.5 328.2,216.6 328.6,215.5 329.0,214.7 329.4,216.3 329.8,218.3 330.2,220.1 330.6,221.8 331.0,221.5 331.4,220.8 331.8,220.1 332.2,219.4 332.6,219.1 333.0,219.1 333.4,219.1 333.8,219.0 334.2,218.6 334.6,218.2 335.0,218.0 335.4,217.9 335.8,217.2 336.2,216.0 336.6,214.8 337.0,213.8 337.4,213.2 337.8,214.2 338.2,214.9 338.6,215.6 339.0,215.9 339.4,216.8 339.8,218.1 340.2,219.3 340.6,220.6 341.0,221.8 341.4,223.1 341.8,224.3 342.2,224.3 342.6,222.8 343.0,221.2 343.4,220.0 343.8,219.4 344.2,219.4 344.6,219.1 345.0,218.8 345.4,218.9 345.8,219.5 346.2,220.0 346.6,220.2 347.0,220.7 347.4,221.6 347.8,222.6 348.2,223.7 348.6,224.9 349.0,225.7 349.4,225.3 349.8,223.2 350.2,221.3 350.6,220.3 351.0,220.7 351.4,221.0 351.8,221.4 352.2,222.2 352.5,223.3 352.9,224.4 353.3,224.3 353.7,223.4 354.1,222.3 354.5,221.1 354.9,220.3 355.3,219.8 355.7,219.5 356.1,219.3 356.5,218.5 356.9,217.5 357.3,216.3 357.7,215.8 358.1,216.3 358.5,216.8 358.9,217.4 359.3,218.0 359.7,218.6 360.1,219.2 360.5,219.3 360.9,219.2 361.3,219.2 361.7,219.1 362.1,219.0 362.5,218.7 362.9,218.3 363.3,217.8 363.7,217.7 364.1,217.7 364.5,218.0 364.9,218.5 365.3,218.8 365.7,219.0 366.1,219.1 366.5,218.9 366.9,218.5 367.3,218.4 367.7,218.6 368.1,218.9 368.5,219.1 368.9,218.9 369.3,218.8 369.7,218.5 370.1,217.8 370.5,217.0 370.9,216.3 371.3,216.0 371.7,216.6 372.1,217.6 372.5,218.5 372.9,219.2 373.3,219.9 373.7,220.5 374.1,221.4 374.5,222.6 374.9,222.4 375.3,221.7 375.7,220.8 376.1,220.1 376.5,219.7 376.9,219.3 377.3,218.7 377.7,218.1 378.1,217.8 378.5,217.4 378.9,217.0 379.3,216.8 379.7,217.2 380.1,218.0 380.5,218.6 380.9,218.7 381.3,218.8 381.7,218.9 382.1,219.3 382.5,219.8 382.9,219.7 383.3,219.3 383.7,218.9 384.1,218.7 384.5,219.7 384.9,220.6 385.3,221.7 385.7,222.7 386.1,222.3 386.5,221.9 386.9,221.6 387.3,221.1 387.7,220.3 388.1,219.4 388.5,218.5 388.9,218.1 389.3,218.5 389.7,218.7 390.1,219.0 390.5,219.5 390.9,219.9 391.3,220.4 391.7,221.1 392.1,221.2 392.5,220.7 392.9,220.0 393.3,219.4 393.7,219.6 394.1,220.4 394.5,220.9 394.9,221.1 395.3,220.7 395.7,220.2 396.1,220.1 396.5,220.2 396.9,220.1 397.3,219.9 397.7,219.9 398.1,219.9 398.5,219.8 398.9,219.6 399.3,219.1 399.7,218.4 400.1,217.7 400.5,217.6 400.9,218.0 401.3,218.4 401.7,218.8 402.1,219.0 402.5,218.9 402.9,218.8 403.3,218.8 403.7,219.0 404.1,219.2 404.5,219.5 404.9,219.9 405.3,219.7 405.7,219.4 406.1,219.2 406.5,219.1 406.9,219.1 407.3,219.0 407.7,219.1 408.1,219.6 408.5,220.2 408.9,220.4 409.3,220.2 409.7,220.1 410.1,220.4 410.5,221.1 410.9,221.9 411.3,221.8 411.7,220.8 412.1,220.0 412.5,219.3 412.9,219.0 413.3,218.9 413.7,218.7 414.1,218.5 414.5,218.2 414.9,217.6 415.3,216.9 415.7,216.5 416.1,216.9 416.5,217.5 416.9,217.9 417.3,217.9 417.7,217.7 418.1,217.6 418.5,217.3 418.9,217.2 419.3,217.2 419.7,217.4 420.1,217.7 420.5,217.6 420.9,217.3 421.3,217.1 421.7,216.9 422.1,218.1 422.5,219.8 422.9,221.6 423.3,223.4 423.7,223.1 424.1,222.7 424.5,222.1 424.9,221.5 425.3,221.1 425.7,220.6 426.1,220.2 426.5,219.8 426.9,219.1 427.3,218.2 427.7,217.3 428.1,216.6 428.5,215.8 428.9,215.1 429.3,216.2 429.7,217.6 430.1,219.0 430.5,220.2 430.9,221.5 431.3,222.6 431.7,222.9 432.1,222.9 432.5,223.0 432.9,222.5 433.3,222.0 433.7,221.3 434.1,220.8 434.5,220.5 434.9,220.1 435.3,219.7 435.7,219.6 436.1,219.5 436.5,219.5 436.9,219.4 437.3,218.9 437.7,218.4 438.1,217.8 438.5,217.3 438.9,217.1 439.3,217.1 439.7,216.9 440.1,217.1 440.5,218.5 440.9,220.0 441.3,221.4 441.7,222.5 442.1,223.4 442.5,224.2 442.9,223.4 443.3,222.8 443.7,222.1 444.1,221.2 444.5,220.2 444.9,218.9 445.3,217.6 445.7,217.3 446.1,217.1 446.5,216.8 446.9,216.5 447.3,216.5 447.7,216.9 448.1,217.2 448.5,216.6 448.9,215.8 449.3,215.2 449.7,214.5 450.1,213.7 450.5,212.9 450.9,213.7 451.3,214.7" fill="none" stroke="#1f77b4" stroke-width="0.6" stroke-linejoin="round" clip-path="url(#cb0)"/>
<line x1="32.20" y1="194.10" x2="472.10" y2="194.10" stroke="#959595" stroke-width="1.5" />
<line x1="32.90" y1="193.40" x2="32.90" y2="264.80" stroke="#2e2e2e" stroke-width="1.5" />
<line x1="471.40" y1="193.40" x2="471.40" y2="264.80" stroke="#2e2e2e" stroke-width="1.5" />
<line x1="32.90" y1="258.80" x2="34.70" y2="258.80" stroke="#2e2e2e" stroke-width="0.7" />
<line x1="469.80" y1="258.80" x2="471.40" y2="258.80" stroke="#2e2e2e" stroke-width="0.7" />
<text transform="translate(31.63,261.20) scale(0.1100,0.1)" text-anchor="end" font-size="66.0" fill="#000" letter-spacing="3.00" stroke="#000" stroke-width="2.00">0.990</text>
<line x1="32.90" y1="247.05" x2="34.70" y2="247.05" stroke="#2e2e2e" stroke-width="0.7" />
<line x1="469.80" y1="247.05" x2="471.40" y2="247.05" stroke="#2e2e2e" stroke-width="0.7" />
<text transform="translate(31.63,249.45) scale(0.1100,0.1)" text-anchor="end" font-size="66.0" fill="#000" letter-spacing="3.00" stroke="#000" stroke-width="2.00">0.992</text>
<line x1="32.90" y1="235.30" x2="34.70" y2="235.30" stroke="#2e2e2e" stroke-width="0.7" />
<line x1="469.80" y1="235.30" x2="471.40" y2="235.30" stroke="#2e2e2e" stroke-width="0.7" />
<text transform="translate(31.63,237.70) scale(0.1100,0.1)" text-anchor="end" font-size="66.0" fill="#000" letter-spacing="3.00" stroke="#000" stroke-width="2.00">0.994</text>
<line x1="32.90" y1="223.55" x2="34.70" y2="223.55" stroke="#2e2e2e" stroke-width="0.7" />
<line x1="469.80" y1="223.55" x2="471.40" y2="223.55" stroke="#2e2e2e" stroke-width="0.7" />
<text transform="translate(31.63,225.95) scale(0.1100,0.1)" text-anchor="end" font-size="66.0" fill="#000" letter-spacing="3.00" stroke="#000" stroke-width="2.00">0.996</text>
<line x1="32.90" y1="211.80" x2="34.70" y2="211.80" stroke="#2e2e2e" stroke-width="0.7" />
<line x1="469.80" y1="211.80" x2="471.40" y2="211.80" stroke="#2e2e2e" stroke-width="0.7" />
<text transform="translate(31.63,214.20) scale(0.1100,0.1)" text-anchor="end" font-size="66.0" fill="#000" letter-spacing="3.00" stroke="#000" stroke-width="2.00">0.998</text>
<line x1="32.90" y1="200.05" x2="34.70" y2="200.05" stroke="#2e2e2e" stroke-width="0.7" />
<line x1="469.80" y1="200.05" x2="471.40" y2="200.05" stroke="#2e2e2e" stroke-width="0.7" />
<text transform="translate(31.63,202.45) scale(0.1100,0.1)" text-anchor="end" font-size="66.0" fill="#000" letter-spacing="3.00" stroke="#000" stroke-width="2.00">1.000</text>
<line x1="52.70" y1="194.10" x2="52.70" y2="195.90" stroke="#2e2e2e" stroke-width="0.8" />
<line x1="132.66" y1="194.10" x2="132.66" y2="195.90" stroke="#2e2e2e" stroke-width="0.8" />
<line x1="212.62" y1="194.10" x2="212.62" y2="195.90" stroke="#2e2e2e" stroke-width="0.8" />
<line x1="292.58" y1="194.10" x2="292.58" y2="195.90" stroke="#2e2e2e" stroke-width="0.8" />
<line x1="372.54" y1="194.10" x2="372.54" y2="195.90" stroke="#2e2e2e" stroke-width="0.8" />
<line x1="452.50" y1="194.10" x2="452.50" y2="195.90" stroke="#2e2e2e" stroke-width="0.8" />
<line x1="30.60" y1="265.40" x2="35.20" y2="264.20" stroke="#2e2e2e" stroke-width="0.75" />
<line x1="469.10" y1="265.40" x2="473.70" y2="264.20" stroke="#2e2e2e" stroke-width="0.75" />
<line x1="52.70" y1="272.20" x2="52.70" y2="342.30" stroke="#eaeaea" stroke-width="0.8" />
<line x1="132.66" y1="272.20" x2="132.66" y2="342.30" stroke="#eaeaea" stroke-width="0.8" />
<line x1="212.62" y1="272.20" x2="212.62" y2="342.30" stroke="#eaeaea" stroke-width="0.8" />
<line x1="292.58" y1="272.20" x2="292.58" y2="342.30" stroke="#eaeaea" stroke-width="0.8" />
<line x1="372.54" y1="272.20" x2="372.54" y2="342.30" stroke="#eaeaea" stroke-width="0.8" />
<line x1="452.50" y1="272.20" x2="452.50" y2="342.30" stroke="#eaeaea" stroke-width="0.8" />
<line x1="32.90" y1="342.30" x2="471.40" y2="342.30" stroke="#eaeaea" stroke-width="0.8" />
<line x1="32.90" y1="326.64" x2="471.40" y2="326.64" stroke="#eaeaea" stroke-width="0.8" />
<line x1="32.90" y1="310.98" x2="471.40" y2="310.98" stroke="#eaeaea" stroke-width="0.8" />
<line x1="32.90" y1="295.32" x2="471.40" y2="295.32" stroke="#eaeaea" stroke-width="0.8" />
<line x1="32.90" y1="279.66" x2="471.40" y2="279.66" stroke="#eaeaea" stroke-width="0.8" />
<polyline points="52.7,342.3 54.0,341.5 55.5,340.7 57.0,340.0 57.8,336.0 58.5,322.7 59.3,301.6 60.0,283.6 60.7,272.6 61.0,267.9 61.1,264.9 61.9,264.4 62.7,264.2 63.7,264.1 64.7,264.1 65.1,264.2 65.5,264.2 65.9,264.2 66.3,264.2 66.7,264.3 67.1,264.3 67.5,264.3 67.9,264.3 68.3,264.4 68.7,264.4 69.1,264.4 69.5,264.4 69.9,264.4 70.3,264.5 70.7,264.5 71.1,264.5 71.5,264.5 71.9,264.5 72.3,264.5 72.7,264.5 73.1,264.5 73.5,264.5 73.9,264.5 74.3,264.5 74.7,264.5 75.1,264.5 75.5,264.6 75.9,264.6 76.3,264.6 76.7,264.6 77.1,264.6 77.5,264.6 77.9,264.7 78.3,264.7 78.7,264.7 79.1,264.7 79.5,264.7 79.9,264.7 80.3,264.7 80.7,264.7 81.1,264.6 81.5,264.6 81.9,264.6 82.3,264.6 82.7,264.6 83.1,264.6 83.5,264.6 83.9,264.6 84.3,264.6 84.7,264.6 85.1,264.6 85.5,264.6 85.9,264.6 86.3,264.5 86.7,264.6 87.1,264.6 87.5,264.6 87.9,264.6 88.3,264.6 88.7,264.5 89.1,264.5 89.5,264.5 89.9,264.5 90.3,264.5 90.7,264.5 91.1,264.5 91.5,264.5 91.9,264.5 92.3,264.5 92.7,264.5 93.1,264.6 93.5,264.6 93.9,264.6 94.3,264.6 94.7,264.6 95.1,264.6 95.5,264.6 95.9,264.6 96.3,264.6 96.7,264.5 97.1,264.5 97.5,264.5 97.9,264.5 98.3,264.5 98.7,264.5 99.1,264.5 99.5,264.5 99.9,264.5 100.3,264.5 100.7,264.5 101.1,264.5 101.5,264.5 101.9,264.5 102.3,264.5 102.7,264.5 103.1,264.5 103.5,264.5 103.9,264.5 104.3,264.5 104.7,264.5 105.1,264.5 105.5,264.5 105.9,264.5 106.3,264.5 106.7,264.5 107.1,264.5 107.5,264.5 107.9,264.5 108.3,264.5 108.7,264.5 109.1,264.5 109.5,264.5 109.9,264.5 110.3,264.6 110.7,264.6 111.1,264.6 111.5,264.5 111.9,264.5 112.3,264.5 112.7,264.5 113.1,264.5 113.5,264.5 113.9,264.4 114.3,264.4 114.7,264.4 115.1,264.5 115.5,264.5 115.9,264.5 116.3,264.5 116.7,264.5 117.1,264.5 117.5,264.5 117.9,264.5 118.3,264.5 118.7,264.5 119.1,264.5 119.5,264.5 119.9,264.6 120.3,264.6 120.7,264.6 121.1,264.6 121.5,264.6 121.9,264.6 122.3,264.6 122.7,264.6 123.1,264.6 123.5,264.5 123.9,264.5 124.3,264.5 124.7,264.5 125.1,264.5 125.5,264.5 125.9,264.5 126.3,264.5 126.7,264.5 127.1,264.5 127.5,264.5 127.9,264.5 128.3,264.4 128.7,264.4 129.1,264.4 129.5,264.5 129.9,264.5 130.3,264.5 130.7,264.5 131.1,264.5 131.5,264.5 131.9,264.5 132.3,264.5 132.7,264.5 133.1,264.5 133.5,264.5 133.9,264.5 134.3,264.5 134.7,264.5 135.1,264.5 135.5,264.5 135.9,264.5 136.3,264.5 136.7,264.6 137.1,264.6 137.5,264.6 137.9,264.6 138.3,264.6 138.7,264.6 139.1,264.6 139.5,264.6 139.9,264.6 140.3,264.6 140.7,264.6 141.1,264.6 141.5,264.6 141.9,264.6 142.3,264.5 142.7,264.5 143.1,264.5 143.5,264.6 143.9,264.6 144.3,264.6 144.7,264.6 145.1,264.6 145.5,264.6 145.9,264.6 146.3,264.5 146.7,264.5 147.1,264.5 147.5,264.5 147.9,264.5 148.3,264.5 148.7,264.5 149.1,264.5 149.5,264.5 149.9,264.5 150.3,264.6 150.7,264.6 151.1,264.6 151.5,264.7 151.9,264.7 152.3,264.7 152.7,264.7 153.0,264.7 153.4,264.7 153.8,264.7 154.2,264.6 154.6,264.6 155.0,264.6 155.4,264.5 155.8,264.5 156.2,264.5 156.6,264.5 157.0,264.5 157.4,264.5 157.8,264.5 158.2,264.5 158.6,264.5 159.0,264.5 159.4,264.5 159.8,264.5 160.2,264.5 160.6,264.5 161.0,264.5 161.4,264.5 161.8,264.5 162.2,264.5 162.6,264.5 163.0,264.5 163.4,264.5 163.8,264.5 164.2,264.5 164.6,264.5 165.0,264.5 165.4,264.5 165.8,264.5 166.2,264.5 166.6,264.5 167.0,264.5 167.4,264.5 167.8,264.6 168.2,264.6 168.6,264.6 169.0,264.6 169.4,264.6 169.8,264.6 170.2,264.6 170.6,264.6 171.0,264.5 171.4,264.5 171.8,264.5 172.2,264.5 172.6,264.5 173.0,264.5 173.4,264.5 173.8,264.5 174.2,264.5 174.6,264.5 175.0,264.6 175.4,264.6 175.8,264.6 176.2,264.6 176.6,264.6 177.0,264.5 177.4,264.5 177.8,264.5 178.2,264.5 178.6,264.4 179.0,264.4 179.4,264.4 179.8,264.4 180.2,264.5 180.6,264.5 181.0,264.5 181.4,264.5 181.8,264.5 182.2,264.5 182.6,264.5 183.0,264.5 183.4,264.6 183.8,264.6 184.2,264.6 184.6,264.6 185.0,264.6 185.4,264.6 185.8,264.5 186.2,264.5 186.6,264.5 187.0,264.5 187.4,264.5 187.8,264.5 188.2,264.5 188.6,264.5 189.0,264.5 189.4,264.6 189.8,264.5 190.2,264.6 190.6,264.6 191.0,264.6 191.4,264.5 191.8,264.5 192.2,264.5 192.6,264.5 193.0,264.5 193.4,264.5 193.8,264.5 194.2,264.5 194.6,264.5 195.0,264.5 195.4,264.5 195.8,264.5 196.2,264.5 196.6,264.5 197.0,264.5 197.4,264.5 197.8,264.5 198.2,264.5 198.6,264.5 199.0,264.6 199.4,264.6 199.8,264.6 200.2,264.5 200.6,264.5 201.0,264.5 201.4,264.5 201.8,264.4 202.2,264.5 202.6,264.5 203.0,264.5 203.4,264.5 203.8,264.5 204.2,264.6 204.6,264.6 205.0,264.6 205.4,264.6 205.8,264.5 206.2,264.5 206.6,264.5 207.0,264.5 207.4,264.5 207.8,264.5 208.2,264.5 208.6,264.5 209.0,264.5 209.4,264.5 209.8,264.5 210.2,264.5 210.6,264.5 211.0,264.5 211.4,264.5 211.8,264.5 212.2,264.5 212.6,264.5 213.0,264.5 213.4,264.6 213.8,264.6 214.2,264.6 214.6,264.6 215.0,264.6 215.4,264.6 215.8,264.6 216.2,264.6 216.6,264.6 217.0,264.6 217.4,264.6 217.8,264.6 218.2,264.6 218.6,264.6 219.0,264.6 219.4,264.7 219.8,264.7 220.2,264.7 220.6,264.7 221.0,264.7 221.4,264.6 221.8,264.6 222.2,264.6 222.6,264.6 223.0,264.6 223.4,264.6 223.8,264.6 224.2,264.6 224.6,264.6 225.0,264.6 225.4,264.6 225.8,264.6 226.2,264.6 226.6,264.5 227.0,264.5 227.4,264.5 227.8,264.5 228.2,264.5 228.6,264.5 229.0,264.5 229.4,264.5 229.8,264.5 230.2,264.6 230.6,264.6 231.0,264.6 231.4,264.5 231.8,264.5 232.2,264.5 232.6,264.5 233.0,264.5 233.4,264.5 233.8,264.5 234.2,264.5 234.6,264.6 235.0,264.6 235.4,264.7 235.8,264.7 236.2,264.7 236.6,264.6 237.0,264.6 237.4,264.6 237.8,264.5 238.2,264.5 238.6,264.5 239.0,264.5 239.4,264.5 239.8,264.5 240.2,264.5 240.6,264.5 241.0,264.5 241.4,264.5 241.8,264.5 242.2,264.5 242.6,264.5 243.0,264.5 243.4,264.5 243.8,264.5 244.2,264.5 244.6,264.5 245.0,264.5 245.4,264.6 245.8,264.6 246.2,264.6 246.6,264.6 247.0,264.6 247.4,264.5 247.8,264.6 248.2,264.6 248.6,264.6 249.0,264.5 249.4,264.5 249.8,264.5 250.2,264.5 250.6,264.5 251.0,264.5 251.4,264.5 251.8,264.5 252.2,264.5 252.6,264.5 253.0,264.5 253.4,264.5 253.8,264.6 254.2,264.6 254.6,264.5 255.0,264.5 255.4,264.5 255.8,264.5 256.2,264.5 256.6,264.5 257.0,264.5 257.4,264.5 257.8,264.5 258.2,264.5 258.6,264.5 259.0,264.6 259.4,264.6 259.8,264.6 260.2,264.6 260.6,264.7 261.0,264.7 261.4,264.7 261.8,264.6 262.2,264.6 262.6,264.6 263.0,264.5 263.4,264.5 263.8,264.5 264.2,264.5 264.6,264.5 265.0,264.6 265.4,264.6 265.8,264.7 266.2,264.7 266.6,264.6 267.0,264.6 267.4,264.6 267.8,264.5 268.2,264.5 268.6,264.5 269.0,264.5 269.4,264.6 269.8,264.6 270.2,264.6 270.6,264.6 271.0,264.5 271.4,264.5 271.8,264.5 272.2,264.5 272.6,264.5 273.0,264.5 273.4,264.5 273.8,264.5 274.2,264.5 274.6,264.5 275.0,264.5 275.4,264.5 275.8,264.5 276.2,264.4 276.6,264.4 277.0,264.4 277.4,264.4 277.8,264.4 278.2,264.5 278.6,264.5 279.0,264.5 279.4,264.5 279.8,264.5 280.2,264.5 280.6,264.5 281.0,264.5 281.4,264.5 281.8,264.5 282.2,264.4 282.6,264.4 283.0,264.4 283.4,264.5 283.8,264.5 284.2,264.5 284.6,264.5 285.0,264.5 285.4,264.5 285.8,264.5 286.2,264.5 286.6,264.5 287.0,264.5 287.4,264.5 287.8,264.5 288.2,264.6 288.6,264.6 289.0,264.6 289.4,264.6 289.8,264.6 290.2,264.6 290.6,264.6 291.0,264.6 291.4,264.6 291.8,264.7 292.2,264.7 292.6,264.7 293.0,264.7 293.4,264.7 293.8,264.7 294.2,264.6 294.6,264.6 295.0,264.6 295.4,264.6 295.8,264.6 296.2,264.6 296.6,264.6 297.0,264.6 297.4,264.6 297.8,264.6 298.2,264.6 298.6,264.7 299.0,264.7 299.4,264.7 299.8,264.7 300.2,264.7 300.6,264.6 301.0,264.6 301.4,264.6 301.8,264.6 302.2,264.5 302.6,264.5 303.0,264.5 303.4,264.5 303.8,264.5 304.2,264.6 304.6,264.6 305.0,264.6 305.4,264.6 305.8,264.5 306.2,264.5 306.6,264.5 307.0,264.5 307.4,264.5 307.8,264.5 308.2,264.5 308.6,264.6 309.0,264.6 309.4,264.6 309.8,264.7 310.2,264.7 310.6,264.7 311.0,264.7 311.4,264.7 311.8,264.6 312.2,264.6 312.6,264.5 313.0,264.5 313.4,264.5 313.8,264.5 314.2,264.5 314.6,264.5 315.0,264.5 315.4,264.5 315.8,264.5 316.2,264.5 316.6,264.5 317.0,264.6 317.4,264.6 317.8,264.6 318.2,264.6 318.6,264.6 319.0,264.6 319.4,264.6 319.8,264.5 320.2,264.5 320.6,264.5 321.0,264.5 321.4,264.5 321.8,264.5 322.2,264.5 322.6,264.5 323.0,264.5 323.4,264.5 323.8,264.5 324.2,264.5 324.6,264.5 325.0,264.5 325.4,264.5 325.8,264.5 326.2,264.5 326.6,264.4 327.0,264.4 327.4,264.5 327.8,264.5 328.2,264.5 328.6,264.4 329.0,264.4 329.4,264.4 329.8,264.4 330.2,264.4 330.6,264.4 331.0,264.5 331.4,264.5 331.8,264.5 332.2,264.5 332.6,264.6 333.0,264.6 333.4,264.6 333.8,264.6 334.2,264.6 334.6,264.6 335.0,264.6 335.4,264.5 335.8,264.5 336.2,264.5 336.6,264.5 337.0,264.4 337.4,264.5 337.8,264.5 338.2,264.5 338.6,264.5 339.0,264.6 339.4,264.6 339.8,264.6 340.2,264.6 340.6,264.6 341.0,264.6 341.4,264.6 341.8,264.6 342.2,264.5 342.6,264.5 343.0,264.5 343.4,264.5 343.8,264.5 344.2,264.5 344.6,264.5 345.0,264.5 345.4,264.5 345.8,264.5 346.2,264.5 346.6,264.5 347.0,264.5 347.4,264.5 347.8,264.5 348.2,264.5 348.6,264.5 349.0,264.5 349.4,264.6 349.8,264.5 350.2,264.5 350.6,264.5 351.0,264.5 351.4,264.5 351.8,264.5 352.2,264.5 352.5,264.5 352.9,264.5 353.3,264.5 353.7,264.5 354.1,264.5 354.5,264.5 354.9,264.5 355.3,264.5 355.7,264.5 356.1,264.5 356.5,264.5 356.9,264.4 357.3,264.4 357.7,264.5 358.1,264.5 358.5,264.5 358.9,264.5 359.3,264.5 359.7,264.5 360.1,264.6 360.5,264.6 360.9,264.6 361.3,264.6 361.7,264.6 362.1,264.6 362.5,264.6 362.9,264.5 363.3,264.5 363.7,264.5 364.1,264.6 364.5,264.6 364.9,264.6 365.3,264.5 365.7,264.5 366.1,264.5 366.5,264.5 366.9,264.6 367.3,264.6 367.7,264.6 368.1,264.6 368.5,264.6 368.9,264.5 369.3,264.5 369.7,264.5 370.1,264.5 370.5,264.5 370.9,264.5 371.3,264.5 371.7,264.5 372.1,264.6 372.5,264.6 372.9,264.6 373.3,264.6 373.7,264.7 374.1,264.7 374.5,264.7 374.9,264.6 375.3,264.6 375.7,264.6 376.1,264.6 376.5,264.5 376.9,264.5 377.3,264.5 377.7,264.5 378.1,264.5 378.5,264.5 378.9,264.5 379.3,264.5 379.7,264.5 380.1,264.5 380.5,264.5 380.9,264.5 381.3,264.5 381.7,264.5 382.1,264.5 382.5,264.5 382.9,264.5 383.3,264.6 383.7,264.6 384.1,264.6 384.5,264.7 384.9,264.7 385.3,264.7 385.7,264.7 386.1,264.7 386.5,264.6 386.9,264.6 387.3,264.5 387.7,264.5 388.1,264.5 388.5,264.5 388.9,264.5 389.3,264.5 389.7,264.5 390.1,264.5 390.5,264.5 390.9,264.5 391.3,264.5 391.7,264.5 392.1,264.6 392.5,264.6 392.9,264.6 393.3,264.6 393.7,264.6 394.1,264.6 394.5,264.6 394.9,264.6 395.3,264.6 395.7,264.5 396.1,264.5 396.5,264.5 396.9,264.5 397.3,264.5 397.7,264.5 398.1,264.5 398.5,264.5 398.9,264.5 399.3,264.5 399.7,264.5 400.1,264.6 400.5,264.6 400.9,264.6 401.3,264.6 401.7,264.6 402.1,264.6 402.5,264.6 402.9,264.6 403.3,264.6 403.7,264.6 404.1,264.6 404.5,264.6 404.9,264.6 405.3,264.6 405.7,264.6 406.1,264.5 406.5,264.5 406.9,264.5 407.3,264.5 407.7,264.5 408.1,264.5 408.5,264.5 408.9,264.6 409.3,264.6 409.7,264.6 410.1,264.6 410.5,264.5 410.9,264.5 411.3,264.5 411.7,264.5 412.1,264.5 412.5,264.5 412.9,264.5 413.3,264.5 413.7,264.5 414.1,264.5 414.5,264.5 414.9,264.5 415.3,264.5 415.7,264.5 416.1,264.5 416.5,264.5 416.9,264.5 417.3,264.5 417.7,264.5 418.1,264.5 418.5,264.5 418.9,264.5 419.3,264.5 419.7,264.5 420.1,264.5 420.5,264.5 420.9,264.5 421.3,264.5 421.7,264.5 422.1,264.5 422.5,264.5 422.9,264.5 423.3,264.5 423.7,264.5 424.1,264.5 424.5,264.5 424.9,264.5 425.3,264.6 425.7,264.6 426.1,264.6 426.5,264.6 426.9,264.6 427.3,264.6 427.7,264.5 428.1,264.5 428.5,264.5 428.9,264.5 429.3,264.5 429.7,264.5 430.1,264.5 430.5,264.5 430.9,264.5 431.3,264.5 431.7,264.5 432.1,264.5 432.5,264.5 432.9,264.5 433.3,264.5 433.7,264.5 434.1,264.5 434.5,264.5 434.9,264.5 435.3,264.5 435.7,264.5 436.1,264.5 436.5,264.5 436.9,264.6 437.3,264.5 437.7,264.5 438.1,264.5 438.5,264.5 438.9,264.5 439.3,264.6 439.7,264.6 440.1,264.6 440.5,264.6 440.9,264.7 441.3,264.7 441.7,264.7 442.1,264.8 442.5,264.8 442.9,264.7 443.3,264.7 443.7,264.7 444.1,264.6 444.5,264.6 444.9,264.6 445.3,264.5 445.7,264.5 446.1,264.5 446.5,264.5 446.9,264.5 447.3,264.5 447.7,264.5 448.1,264.5 448.5,264.5 448.9,264.5 449.3,264.5 449.7,264.4 450.1,264.4 450.5,264.4 450.9,264.4 451.3,264.4" fill="none" stroke="#f06408" stroke-width="0.7" stroke-linejoin="round" clip-path="url(#cb1)"/>
<polyline points="52.7,342.3 53.5,340.7 54.9,339.3 56.2,339.5 57.2,338.2 57.7,331.3 58.3,318.0 59.0,297.7 59.6,281.2 60.3,271.8 60.7,267.9 61.1,264.9 62.1,264.4 63.1,264.3 64.0,264.3 64.7,264.3 65.1,264.3 65.5,264.3 65.9,264.3 66.3,264.4 66.7,264.3 67.1,264.3 67.5,264.3 67.9,264.3 68.3,264.3 68.7,264.3 69.1,264.3 69.5,264.3 69.9,264.3 70.3,264.3 70.7,264.3 71.1,264.3 71.5,264.3 71.9,264.3 72.3,264.3 72.7,264.3 73.1,264.3 73.5,264.3 73.9,264.2 74.3,264.2 74.7,264.2 75.1,264.2 75.5,264.2 75.9,264.2 76.3,264.2 76.7,264.3 77.1,264.3 77.5,264.3 77.9,264.3 78.3,264.3 78.7,264.3 79.1,264.3 79.5,264.3 79.9,264.3 80.3,264.3 80.7,264.3 81.1,264.3 81.5,264.3 81.9,264.3 82.3,264.3 82.7,264.3 83.1,264.3 83.5,264.3 83.9,264.3 84.3,264.3 84.7,264.3 85.1,264.3 85.5,264.3 85.9,264.2 86.3,264.3 86.7,264.3 87.1,264.3 87.5,264.3 87.9,264.3 88.3,264.3 88.7,264.2 89.1,264.2 89.5,264.2 89.9,264.2 90.3,264.2 90.7,264.2 91.1,264.2 91.5,264.2 91.9,264.2 92.3,264.2 92.7,264.3 93.1,264.3 93.5,264.3 93.9,264.3 94.3,264.3 94.7,264.3 95.1,264.3 95.5,264.3 95.9,264.3 96.3,264.3 96.7,264.3 97.1,264.3 97.5,264.3 97.9,264.3 98.3,264.3 98.7,264.3 99.1,264.3 99.5,264.3 99.9,264.2 100.3,264.2 100.7,264.2 101.1,264.2 101.5,264.2 101.9,264.2 102.3,264.2 102.7,264.2 103.1,264.2 103.5,264.2 103.9,264.2 104.3,264.2 104.7,264.2 105.1,264.2 105.5,264.2 105.9,264.2 106.3,264.2 106.7,264.2 107.1,264.3 107.5,264.3 107.9,264.3 108.3,264.2 108.7,264.2 109.1,264.2 109.5,264.3 109.9,264.3 110.3,264.3 110.7,264.3 111.1,264.3 111.5,264.3 111.9,264.3 112.3,264.3 112.7,264.3 113.1,264.2 113.5,264.2 113.9,264.2 114.3,264.2 114.7,264.2 115.1,264.2 115.5,264.3 115.9,264.3 116.3,264.3 116.7,264.2 117.1,264.2 117.5,264.2 117.9,264.2 118.3,264.2 118.7,264.2 119.1,264.2 119.5,264.2 119.9,264.2 120.3,264.3 120.7,264.3 121.1,264.3 121.5,264.3 121.9,264.3 122.3,264.4 122.7,264.4 123.1,264.3 123.5,264.3 123.9,264.3 124.3,264.3 124.7,264.3 125.1,264.3 125.5,264.3 125.9,264.2 126.3,264.2 126.7,264.2 127.1,264.2 127.5,264.2 127.9,264.2 128.3,264.2 128.7,264.2 129.1,264.2 129.5,264.2 129.9,264.2 130.3,264.2 130.7,264.2 131.1,264.2 131.5,264.3 131.9,264.3 132.3,264.3 132.7,264.2 133.1,264.2 133.5,264.2 133.9,264.2 134.3,264.3 134.7,264.3 135.1,264.3 135.5,264.3 135.9,264.3 136.3,264.3 136.7,264.3 137.1,264.3 137.5,264.3 137.9,264.3 138.3,264.3 138.7,264.2 139.1,264.2 139.5,264.2 139.9,264.2 140.3,264.3 140.7,264.3 141.1,264.3 141.5,264.3 141.9,264.2 142.3,264.2 142.7,264.2 143.1,264.2 143.5,264.2 143.9,264.2 144.3,264.3 144.7,264.3 145.1,264.3 145.5,264.3 145.9,264.3 146.3,264.3 146.7,264.3 147.1,264.3 147.5,264.3 147.9,264.3 148.3,264.3 148.7,264.3 149.1,264.3 149.5,264.3 149.9,264.3 150.3,264.3 150.7,264.3 151.1,264.3 151.5,264.3 151.9,264.3 152.3,264.3 152.7,264.3 153.0,264.3 153.4,264.3 153.8,264.3 154.2,264.3 154.6,264.3 155.0,264.3 155.4,264.3 155.8,264.3 156.2,264.3 156.6,264.2 157.0,264.2 157.4,264.2 157.8,264.2 158.2,264.2 158.6,264.2 159.0,264.2 159.4,264.2 159.8,264.2 160.2,264.2 160.6,264.2 161.0,264.2 161.4,264.2 161.8,264.2 162.2,264.3 162.6,264.3 163.0,264.3 163.4,264.3 163.8,264.3 164.2,264.3 164.6,264.3 165.0,264.3 165.4,264.3 165.8,264.3 166.2,264.3 166.6,264.3 167.0,264.3 167.4,264.3 167.8,264.3 168.2,264.3 168.6,264.3 169.0,264.3 169.4,264.3 169.8,264.3 170.2,264.3 170.6,264.3 171.0,264.3 171.4,264.3 171.8,264.3 172.2,264.3 172.6,264.3 173.0,264.3 173.4,264.3 173.8,264.3 174.2,264.3 174.6,264.3 175.0,264.3 175.4,264.3 175.8,264.3 176.2,264.3 176.6,264.3 177.0,264.3 177.4,264.3 177.8,264.2 178.2,264.3 178.6,264.3 179.0,264.3 179.4,264.2 179.8,264.2 180.2,264.2 180.6,264.2 181.0,264.2 181.4,264.2 181.8,264.2 182.2,264.2 182.6,264.2 183.0,264.2 183.4,264.3 183.8,264.3 184.2,264.3 184.6,264.3 185.0,264.3 185.4,264.3 185.8,264.2 186.2,264.2 186.6,264.2 187.0,264.2 187.4,264.2 187.8,264.2 188.2,264.2 188.6,264.2 189.0,264.2 189.4,264.2 189.8,264.2 190.2,264.2 190.6,264.3 191.0,264.3 191.4,264.3 191.8,264.3 192.2,264.3 192.6,264.3 193.0,264.3 193.4,264.3 193.8,264.3 194.2,264.3 194.6,264.3 195.0,264.2 195.4,264.3 195.8,264.3 196.2,264.3 196.6,264.3 197.0,264.3 197.4,264.2 197.8,264.2 198.2,264.2 198.6,264.2 199.0,264.2 199.4,264.2 199.8,264.2 200.2,264.2 200.6,264.2 201.0,264.3 201.4,264.3 201.8,264.3 202.2,264.3 202.6,264.3 203.0,264.3 203.4,264.3 203.8,264.3 204.2,264.3 204.6,264.3 205.0,264.3 205.4,264.3 205.8,264.2 206.2,264.2 206.6,264.2 207.0,264.2 207.4,264.2 207.8,264.2 208.2,264.2 208.6,264.2 209.0,264.2 209.4,264.3 209.8,264.3 210.2,264.3 210.6,264.3 211.0,264.2 211.4,264.2 211.8,264.2 212.2,264.2 212.6,264.2 213.0,264.2 213.4,264.2 213.8,264.2 214.2,264.2 214.6,264.2 215.0,264.2 215.4,264.2 215.8,264.2 216.2,264.2 216.6,264.2 217.0,264.2 217.4,264.3 217.8,264.3 218.2,264.3 218.6,264.3 219.0,264.3 219.4,264.3 219.8,264.3 220.2,264.3 220.6,264.3 221.0,264.3 221.4,264.3 221.8,264.3 222.2,264.3 222.6,264.3 223.0,264.3 223.4,264.3 223.8,264.3 224.2,264.2 224.6,264.2 225.0,264.2 225.4,264.2 225.8,264.2 226.2,264.2 226.6,264.2 227.0,264.2 227.4,264.2 227.8,264.2 228.2,264.2 228.6,264.2 229.0,264.2 229.4,264.2 229.8,264.2 230.2,264.3 230.6,264.3 231.0,264.3 231.4,264.3 231.8,264.3 232.2,264.2 232.6,264.2 233.0,264.2 233.4,264.2 233.8,264.2 234.2,264.2 234.6,264.3 235.0,264.3 235.4,264.3 235.8,264.3 236.2,264.3 236.6,264.3 237.0,264.3 237.4,264.3 237.8,264.3 238.2,264.3 238.6,264.3 239.0,264.3 239.4,264.3 239.8,264.3 240.2,264.3 240.6,264.3 241.0,264.3 241.4,264.2 241.8,264.2 242.2,264.2 242.6,264.2 243.0,264.2 243.4,264.2 243.8,264.2 244.2,264.2 244.6,264.2 245.0,264.2 245.4,264.3 245.8,264.3 246.2,264.3 246.6,264.3 247.0,264.3 247.4,264.3 247.8,264.3 248.2,264.3 248.6,264.3 249.0,264.3 249.4,264.3 249.8,264.3 250.2,264.3 250.6,264.3 251.0,264.3 251.4,264.3 251.8,264.3 252.2,264.3 252.6,264.3 253.0,264.3 253.4,264.3 253.8,264.3 254.2,264.3 254.6,264.3 255.0,264.3 255.4,264.3 255.8,264.3 256.2,264.3 256.6,264.3 257.0,264.3 257.4,264.3 257.8,264.3 258.2,264.2 258.6,264.2 259.0,264.2 259.4,264.2 259.8,264.2 260.2,264.3 260.6,264.3 261.0,264.3 261.4,264.3 261.8,264.3 262.2,264.3 262.6,264.2 263.0,264.2 263.4,264.2 263.8,264.2 264.2,264.2 264.6,264.2 265.0,264.2 265.4,264.2 265.8,264.3 266.2,264.3 266.6,264.2 267.0,264.2 267.4,264.2 267.8,264.2 268.2,264.2 268.6,264.2 269.0,264.2 269.4,264.2 269.8,264.2 270.2,264.2 270.6,264.3 271.0,264.3 271.4,264.3 271.8,264.3 272.2,264.3 272.6,264.3 273.0,264.3 273.4,264.3 273.8,264.3 274.2,264.3 274.6,264.3 275.0,264.3 275.4,264.3 275.8,264.3 276.2,264.3 276.6,264.2 277.0,264.2 277.4,264.2 277.8,264.2 278.2,264.2 278.6,264.2 279.0,264.2 279.4,264.2 279.8,264.3 280.2,264.3 280.6,264.3 281.0,264.3 281.4,264.3 281.8,264.3 282.2,264.3 282.6,264.3 283.0,264.3 283.4,264.3 283.8,264.3 284.2,264.3 284.6,264.3 285.0,264.3 285.4,264.2 285.8,264.2 286.2,264.2 286.6,264.2 287.0,264.2 287.4,264.2 287.8,264.2 288.2,264.2 288.6,264.2 289.0,264.3 289.4,264.3 289.8,264.3 290.2,264.3 290.6,264.3 291.0,264.3 291.4,264.3 291.8,264.3 292.2,264.3 292.6,264.3 293.0,264.3 293.4,264.3 293.8,264.3 294.2,264.3 294.6,264.3 295.0,264.3 295.4,264.3 295.8,264.3 296.2,264.3 296.6,264.3 297.0,264.3 297.4,264.3 297.8,264.3 298.2,264.2 298.6,264.3 299.0,264.3 299.4,264.3 299.8,264.3 300.2,264.3 300.6,264.3 301.0,264.3 301.4,264.3 301.8,264.2 302.2,264.2 302.6,264.2 303.0,264.2 303.4,264.3 303.8,264.3 304.2,264.3 304.6,264.3 305.0,264.3 305.4,264.3 305.8,264.3 306.2,264.3 306.6,264.3 307.0,264.2 307.4,264.2 307.8,264.2 308.2,264.2 308.6,264.2 309.0,264.2 309.4,264.2 309.8,264.3 310.2,264.3 310.6,264.3 311.0,264.3 311.4,264.3 311.8,264.3 312.2,264.3 312.6,264.3 313.0,264.3 313.4,264.2 313.8,264.2 314.2,264.2 314.6,264.2 315.0,264.2 315.4,264.2 315.8,264.2 316.2,264.3 316.6,264.3 317.0,264.3 317.4,264.3 317.8,264.3 318.2,264.3 318.6,264.3 319.0,264.3 319.4,264.3 319.8,264.4 320.2,264.4 320.6,264.4 321.0,264.4 321.4,264.3 321.8,264.3 322.2,264.3 322.6,264.3 323.0,264.3 323.4,264.3 323.8,264.2 324.2,264.2 324.6,264.2 325.0,264.2 325.4,264.2 325.8,264.2 326.2,264.2 326.6,264.2 327.0,264.2 327.4,264.2 327.8,264.2 328.2,264.2 328.6,264.2 329.0,264.2 329.4,264.2 329.8,264.2 330.2,264.3 330.6,264.3 331.0,264.3 331.4,264.3 331.8,264.3 332.2,264.3 332.6,264.3 333.0,264.3 333.4,264.3 333.8,264.3 334.2,264.2 334.6,264.2 335.0,264.2 335.4,264.2 335.8,264.2 336.2,264.2 336.6,264.2 337.0,264.2 337.4,264.2 337.8,264.2 338.2,264.2 338.6,264.2 339.0,264.2 339.4,264.2 339.8,264.2 340.2,264.3 340.6,264.3 341.0,264.3 341.4,264.3 341.8,264.3 342.2,264.3 342.6,264.3 343.0,264.3 343.4,264.3 343.8,264.3 344.2,264.3 344.6,264.3 345.0,264.2 345.4,264.3 345.8,264.3 346.2,264.3 346.6,264.3 347.0,264.3 347.4,264.3 347.8,264.3 348.2,264.3 348.6,264.3 349.0,264.3 349.4,264.3 349.8,264.3 350.2,264.3 350.6,264.3 351.0,264.3 351.4,264.3 351.8,264.3 352.2,264.3 352.5,264.3 352.9,264.3 353.3,264.3 353.7,264.3 354.1,264.3 354.5,264.3 354.9,264.3 355.3,264.3 355.7,264.3 356.1,264.3 356.5,264.2 356.9,264.2 357.3,264.2 357.7,264.2 358.1,264.2 358.5,264.2 358.9,264.2 359.3,264.2 359.7,264.2 360.1,264.3 360.5,264.3 360.9,264.3 361.3,264.3 361.7,264.3 362.1,264.3 362.5,264.2 362.9,264.2 363.3,264.2 363.7,264.2 364.1,264.2 364.5,264.2 364.9,264.2 365.3,264.2 365.7,264.3 366.1,264.3 366.5,264.3 366.9,264.2 367.3,264.2 367.7,264.2 368.1,264.3 368.5,264.3 368.9,264.3 369.3,264.2 369.7,264.2 370.1,264.2 370.5,264.2 370.9,264.2 371.3,264.2 371.7,264.2 372.1,264.2 372.5,264.2 372.9,264.3 373.3,264.3 373.7,264.3 374.1,264.3 374.5,264.3 374.9,264.3 375.3,264.3 375.7,264.3 376.1,264.3 376.5,264.3 376.9,264.3 377.3,264.2 377.7,264.2 378.1,264.2 378.5,264.2 378.9,264.2 379.3,264.2 379.7,264.2 380.1,264.2 380.5,264.2 380.9,264.2 381.3,264.2 381.7,264.3 382.1,264.3 382.5,264.3 382.9,264.3 383.3,264.3 383.7,264.3 384.1,264.2 384.5,264.3 384.9,264.3 385.3,264.3 385.7,264.3 386.1,264.3 386.5,264.3 386.9,264.3 387.3,264.3 387.7,264.3 388.1,264.3 388.5,264.2 388.9,264.2 389.3,264.2 389.7,264.2 390.1,264.3 390.5,264.3 390.9,264.3 391.3,264.3 391.7,264.3 392.1,264.3 392.5,264.3 392.9,264.3 393.3,264.3 393.7,264.3 394.1,264.3 394.5,264.3 394.9,264.3 395.3,264.3 395.7,264.3 396.1,264.3 396.5,264.3 396.9,264.3 397.3,264.3 397.7,264.3 398.1,264.3 398.5,264.3 398.9,264.3 399.3,264.3 399.7,264.2 400.1,264.2 400.5,264.2 400.9,264.2 401.3,264.2 401.7,264.2 402.1,264.3 402.5,264.3 402.9,264.3 403.3,264.2 403.7,264.3 404.1,264.3 404.5,264.3 404.9,264.3 405.3,264.3 405.7,264.3 406.1,264.3 406.5,264.3 406.9,264.3 407.3,264.3 407.7,264.3 408.1,264.3 408.5,264.3 408.9,264.3 409.3,264.3 409.7,264.3 410.1,264.3 410.5,264.3 410.9,264.3 411.3,264.3 411.7,264.3 412.1,264.3 412.5,264.3 412.9,264.3 413.3,264.3 413.7,264.2 414.1,264.2 414.5,264.2 414.9,264.2 415.3,264.2 415.7,264.2 416.1,264.2 416.5,264.2 416.9,264.2 417.3,264.2 417.7,264.2 418.1,264.2 418.5,264.2 418.9,264.2 419.3,264.2 419.7,264.2 420.1,264.2 420.5,264.2 420.9,264.2 421.3,264.2 421.7,264.2 422.1,264.2 422.5,264.3 422.9,264.3 423.3,264.3 423.7,264.3 424.1,264.3 424.5,264.3 424.9,264.3 425.3,264.3 425.7,264.3 426.1,264.3 426.5,264.3 426.9,264.3 427.3,264.2 427.7,264.2 428.1,264.2 428.5,264.2 428.9,264.2 429.3,264.2 429.7,264.2 430.1,264.3 430.5,264.3 430.9,264.3 431.3,264.3 431.7,264.3 432.1,264.3 432.5,264.3 432.9,264.3 433.3,264.3 433.7,264.3 434.1,264.3 434.5,264.3 434.9,264.3 435.3,264.3 435.7,264.3 436.1,264.3 436.5,264.3 436.9,264.3 437.3,264.3 437.7,264.2 438.1,264.2 438.5,264.2 438.9,264.2 439.3,264.2 439.7,264.2 440.1,264.2 440.5,264.2 440.9,264.3 441.3,264.3 441.7,264.3 442.1,264.3 442.5,264.3 442.9,264.3 443.3,264.3 443.7,264.3 444.1,264.3 444.5,264.3 444.9,264.3 445.3,264.2 445.7,264.2 446.1,264.2 446.5,264.2 446.9,264.2 447.3,264.2 447.7,264.2 448.1,264.2 448.5,264.2 448.9,264.2 449.3,264.2 449.7,264.2 450.1,264.2 450.5,264.2 450.9,264.2 451.3,264.2" fill="none" stroke="#1f77b4" stroke-width="0.6" stroke-linejoin="round" clip-path="url(#cb1)"/>
<line x1="32.20" y1="342.65" x2="472.10" y2="342.65" stroke="#7a7a7a" stroke-width="1.7" />
<line x1="32.90" y1="272.20" x2="32.90" y2="343.40" stroke="#2e2e2e" stroke-width="1.5" />
<line x1="471.40" y1="272.20" x2="471.40" y2="343.40" stroke="#2e2e2e" stroke-width="1.5" />
<line x1="32.90" y1="342.30" x2="34.70" y2="342.30" stroke="#2e2e2e" stroke-width="0.7" />
<line x1="469.80" y1="342.30" x2="471.40" y2="342.30" stroke="#2e2e2e" stroke-width="0.7" />
<text transform="translate(31.63,344.70) scale(0.1100,0.1)" text-anchor="end" font-size="66.0" fill="#000" letter-spacing="3.00" stroke="#000" stroke-width="2.00">0.0</text>
<line x1="32.90" y1="326.64" x2="34.70" y2="326.64" stroke="#2e2e2e" stroke-width="0.7" />
<line x1="469.80" y1="326.64" x2="471.40" y2="326.64" stroke="#2e2e2e" stroke-width="0.7" />
<text transform="translate(31.63,329.04) scale(0.1100,0.1)" text-anchor="end" font-size="66.0" fill="#000" letter-spacing="3.00" stroke="#000" stroke-width="2.00">0.2</text>
<line x1="32.90" y1="310.98" x2="34.70" y2="310.98" stroke="#2e2e2e" stroke-width="0.7" />
<line x1="469.80" y1="310.98" x2="471.40" y2="310.98" stroke="#2e2e2e" stroke-width="0.7" />
<text transform="translate(31.63,313.38) scale(0.1100,0.1)" text-anchor="end" font-size="66.0" fill="#000" letter-spacing="3.00" stroke="#000" stroke-width="2.00">0.4</text>
<line x1="32.90" y1="295.32" x2="34.70" y2="295.32" stroke="#2e2e2e" stroke-width="0.7" />
<line x1="469.80" y1="295.32" x2="471.40" y2="295.32" stroke="#2e2e2e" stroke-width="0.7" />
<text transform="translate(31.63,297.72) scale(0.1100,0.1)" text-anchor="end" font-size="66.0" fill="#000" letter-spacing="3.00" stroke="#000" stroke-width="2.00">0.6</text>
<line x1="32.90" y1="279.66" x2="34.70" y2="279.66" stroke="#2e2e2e" stroke-width="0.7" />
<line x1="469.80" y1="279.66" x2="471.40" y2="279.66" stroke="#2e2e2e" stroke-width="0.7" />
<text transform="translate(31.63,282.06) scale(0.1100,0.1)" text-anchor="end" font-size="66.0" fill="#000" letter-spacing="3.00" stroke="#000" stroke-width="2.00">0.8</text>
<line x1="52.70" y1="340.50" x2="52.70" y2="342.30" stroke="#2e2e2e" stroke-width="0.8" />
<text transform="translate(52.87,347.90) scale(0.1100,0.1)" text-anchor="middle" font-size="66.0" fill="#000" letter-spacing="3.00" stroke="#000" stroke-width="2.00">0</text>
<line x1="132.66" y1="340.50" x2="132.66" y2="342.30" stroke="#2e2e2e" stroke-width="0.8" />
<text transform="translate(132.82,347.90) scale(0.1100,0.1)" text-anchor="middle" font-size="66.0" fill="#000" letter-spacing="3.00" stroke="#000" stroke-width="2.00">200</text>
<line x1="212.62" y1="340.50" x2="212.62" y2="342.30" stroke="#2e2e2e" stroke-width="0.8" />
<text transform="translate(212.78,347.90) scale(0.1100,0.1)" text-anchor="middle" font-size="66.0" fill="#000" letter-spacing="3.00" stroke="#000" stroke-width="2.00">400</text>
<line x1="292.58" y1="340.50" x2="292.58" y2="342.30" stroke="#2e2e2e" stroke-width="0.8" />
<text transform="translate(292.75,347.90) scale(0.1100,0.1)" text-anchor="middle" font-size="66.0" fill="#000" letter-spacing="3.00" stroke="#000" stroke-width="2.00">600</text>
<line x1="372.54" y1="340.50" x2="372.54" y2="342.30" stroke="#2e2e2e" stroke-width="0.8" />
<text transform="translate(372.70,347.90) scale(0.1100,0.1)" text-anchor="middle" font-size="66.0" fill="#000" letter-spacing="3.00" stroke="#000" stroke-width="2.00">800</text>
<line x1="452.50" y1="340.50" x2="452.50" y2="342.30" stroke="#2e2e2e" stroke-width="0.8" />
<text transform="translate(452.67,347.90) scale(0.1100,0.1)" text-anchor="middle" font-size="66.0" fill="#000" letter-spacing="3.00" stroke="#000" stroke-width="2.00">1000</text>
<line x1="30.60" y1="272.80" x2="35.20" y2="271.60" stroke="#2e2e2e" stroke-width="0.75" />
<line x1="469.10" y1="272.80" x2="473.70" y2="271.60" stroke="#2e2e2e" stroke-width="0.75" />
<text transform="translate(252.45,353.90) scale(0.1045,0.1)" text-anchor="middle" font-size="64.0" fill="#000" letter-spacing="3.00" stroke="#111" stroke-width="0.80">Number of Experiments</text>
<text transform="translate(10.80,266.50) rotate(-90) scale(0.1,0.1500)" text-anchor="middle" font-size="56.0" fill="#111">R<tspan font-size="40.0" dy="-22.0">2</tspan></text>
<text transform="translate(39.00,201.40) scale(0.1100,0.1)" text-anchor="start" font-size="60.0" fill="#000" letter-spacing="3.00" stroke="#000" stroke-width="1.80">(b)</text>
<rect x="406.5" y="195.9" width="61.5" height="12.4" fill="#fff" fill-opacity="0.8" stroke="#d8d8d8" stroke-width="0.6" rx="1"/>
<line x1="409.50" y1="199.30" x2="421.10" y2="199.30" stroke="#f06408" stroke-width="0.5" stroke-opacity="0.7"/>
<line x1="409.50" y1="205.00" x2="421.10" y2="205.00" stroke="#1f77b4" stroke-width="0.5" stroke-opacity="0.7"/>
<text transform="translate(425.90,201.10) scale(0.1100,0.1)" text-anchor="start" font-size="50.0" fill="#000" letter-spacing="1.80" stroke="#1a1a1a" stroke-width="0.70">Original-4DVAR</text>
<text transform="translate(425.90,206.80) scale(0.1100,0.1)" text-anchor="start" font-size="50.0" fill="#000" letter-spacing="1.80" stroke="#1a1a1a" stroke-width="0.70">ML<tspan font-size="34.0" dy="10.0">ct</tspan><tspan dy="-10.0"> − 4DVAR</tspan></text>
<line x1="55.40" y1="381.20" x2="55.40" y2="452.10" stroke="#eaeaea" stroke-width="0.8" />
<line x1="135.20" y1="381.20" x2="135.20" y2="452.10" stroke="#eaeaea" stroke-width="0.8" />
<line x1="215.00" y1="381.20" x2="215.00" y2="452.10" stroke="#eaeaea" stroke-width="0.8" />
<line x1="294.80" y1="381.20" x2="294.80" y2="452.10" stroke="#eaeaea" stroke-width="0.8" />
<line x1="374.60" y1="381.20" x2="374.60" y2="452.10" stroke="#eaeaea" stroke-width="0.8" />
<line x1="454.40" y1="381.20" x2="454.40" y2="452.10" stroke="#eaeaea" stroke-width="0.8" />
<line x1="35.50" y1="446.00" x2="474.70" y2="446.00" stroke="#eaeaea" stroke-width="0.8" />
<line x1="35.50" y1="434.30" x2="474.70" y2="434.30" stroke="#eaeaea" stroke-width="0.8" />
<line x1="35.50" y1="422.60" x2="474.70" y2="422.60" stroke="#eaeaea" stroke-width="0.8" />
<line x1="35.50" y1="410.90" x2="474.70" y2="410.90" stroke="#eaeaea" stroke-width="0.8" />
<line x1="35.50" y1="399.20" x2="474.70" y2="399.20" stroke="#eaeaea" stroke-width="0.8" />
<line x1="35.50" y1="387.50" x2="474.70" y2="387.50" stroke="#eaeaea" stroke-width="0.8" />
<polyline points="55.5,348081237.5 56.0,210606237.5 56.6,71961237.5 57.7,4686237.5 58.2,6237.5 64.1,451.7 64.8,424.2 65.4,404.6 66.5,398.7 67.4,398.5 67.8,399.6 68.2,400.8 68.6,401.7 69.0,403.2 69.4,405.4 69.8,407.9 70.2,410.4 70.6,412.5 71.0,414.6 71.4,416.6 71.8,418.4 72.2,420.1 72.6,421.9 73.0,423.4 73.4,424.6 73.8,425.7 74.2,426.6 74.6,427.5 75.0,428.6 75.3,429.4 75.7,429.6 76.1,429.9 76.5,430.2 76.9,430.6 77.3,430.8 77.7,430.9 78.1,431.2 78.5,431.6 78.9,432.4 79.3,433.7 79.7,435.7 80.1,437.4 80.5,438.8 80.9,440.4 81.3,442.3 81.7,444.4 82.1,444.4 82.5,443.7 82.9,442.7 83.3,441.0 83.7,438.8 84.1,436.8 84.5,435.9 84.9,436.5 85.3,437.1 85.7,437.5 86.1,436.3 86.5,434.9 86.9,433.6 87.3,432.7 87.7,431.8 88.1,430.9 88.5,431.3 88.9,432.7 89.3,434.1 89.7,434.8 90.1,433.2 90.5,431.6 90.9,429.9 91.3,429.2 91.7,428.8 92.1,428.3 92.5,427.7 92.9,427.1 93.3,426.8 93.7,426.4 94.1,425.9 94.5,426.9 94.9,428.5 95.3,430.4 95.7,432.7 96.1,435.1 96.5,437.2 96.9,438.8 97.3,437.5 97.7,436.2 98.1,435.4 98.5,434.4 98.9,433.4 99.3,432.4 99.7,431.7 100.1,431.4 100.5,430.9 100.9,430.1 101.3,429.0 101.7,427.7 102.1,426.4 102.5,425.1 102.9,424.6 103.3,424.9 103.7,425.2 104.1,425.7 104.5,425.8 104.9,425.7 105.3,425.4 105.7,425.0 106.1,425.0 106.5,425.5 106.9,426.0 107.3,426.5 107.7,427.0 108.1,427.3 108.5,427.4 108.9,427.5 109.3,427.8 109.7,427.8 110.1,427.6 110.5,427.5 110.9,427.3 111.3,426.3 111.7,427.7 112.1,429.0 112.5,430.0 112.9,430.9 113.3,431.8 113.7,432.1 114.1,429.7 114.5,427.5 114.9,425.8 115.2,424.5 115.6,422.9 116.0,421.5 116.4,421.1 116.8,421.9 117.2,422.5 117.6,423.1 118.0,424.0 118.4,425.2 118.8,425.5 119.2,425.6 119.6,425.3 120.0,425.5 120.4,426.3 120.8,427.2 121.2,427.9 121.6,428.6 122.0,429.5 122.4,430.5 122.8,431.9 123.2,433.1 123.6,434.2 124.0,433.4 124.4,432.5 124.8,431.8 125.2,431.2 125.6,430.5 126.0,429.8 126.4,428.9 126.8,428.0 127.2,427.1 127.6,426.3 128.0,425.5 128.4,424.9 128.8,424.3 129.2,423.6 129.6,422.8 130.0,422.2 130.4,422.2 130.8,422.5 131.2,422.9 131.6,423.4 132.0,423.8 132.4,424.5 132.8,425.4 133.2,426.1 133.6,426.6 134.0,427.1 134.4,427.0 134.8,427.0 135.2,427.1 135.6,427.4 136.0,427.3 136.4,427.0 136.8,426.6 137.2,426.8 137.6,428.1 138.0,429.4 138.4,430.5 138.8,431.1 139.2,431.8 139.6,432.8 140.0,433.2 140.4,432.9 140.8,432.6 141.2,432.8 141.6,434.2 142.0,435.7 142.4,437.0 142.8,437.0 143.2,435.1 143.6,433.5 144.0,432.4 144.4,431.4 144.8,430.3 145.2,429.2 145.6,430.1 146.0,431.2 146.4,432.4 146.8,433.4 147.2,434.1 147.6,434.5 148.0,433.2 148.4,431.6 148.8,429.8 149.2,429.0 149.6,428.6 150.0,428.4 150.4,428.1 150.8,428.2 151.2,428.4 151.6,428.6 152.0,428.9 152.4,430.3 152.8,431.8 153.2,433.7 153.6,436.7 154.0,439.9 154.4,441.8 154.8,442.8 155.2,442.8 155.5,441.8 155.9,440.8 156.3,439.6 156.7,437.8 157.1,436.1 157.5,434.0 157.9,431.4 158.3,428.9 158.7,426.8 159.1,425.9 159.5,425.1 159.9,424.3 160.3,423.3 160.7,423.1 161.1,422.9 161.5,422.8 161.9,422.9 162.3,423.2 162.7,423.5 163.1,424.1 163.5,425.4 163.9,426.7 164.3,427.7 164.7,427.7 165.1,427.2 165.5,427.0 165.9,426.7 166.3,425.8 166.7,424.9 167.1,424.5 167.5,425.0 167.9,425.7 168.3,426.1 168.7,426.6 169.1,426.9 169.5,428.0 169.9,429.1 170.3,430.1 170.7,430.8 171.1,431.1 171.5,431.8 171.9,432.9 172.3,434.0 172.7,433.7 173.1,432.2 173.5,430.6 173.9,429.2 174.3,428.3 174.7,427.4 175.1,426.6 175.5,426.5 175.9,427.3 176.3,427.9 176.7,428.4 177.1,429.0 177.5,429.8 177.9,430.8 178.3,431.6 178.7,430.9 179.1,430.3 179.5,429.6 179.9,427.9 180.3,426.0 180.7,423.8 181.1,422.4 181.5,421.3 181.9,420.8 182.3,421.8 182.7,423.3 183.1,424.6 183.5,425.0 183.9,425.0 184.3,424.9 184.7,426.1 185.1,428.1 185.5,429.9 185.9,431.6 186.3,433.8 186.7,436.2 187.1,437.1 187.5,434.9 187.9,432.5 188.3,430.6 188.7,429.8 189.1,428.9 189.5,428.2 189.9,427.8 190.3,427.5 190.7,427.4 191.1,428.7 191.5,429.9 191.9,431.0 192.3,431.1 192.7,431.0 193.1,431.1 193.5,430.6 193.9,429.9 194.3,429.3 194.7,428.6 195.1,428.9 195.4,429.2 195.8,429.6 196.2,429.9 196.6,429.2 197.0,428.6 197.4,428.1 197.8,427.9 198.2,427.7 198.6,427.2 199.0,426.4 199.4,425.4 199.8,424.6 200.2,425.0 200.6,427.5 201.0,429.9 201.4,432.3 201.8,433.3 202.2,431.1 202.6,429.1 203.0,427.1 203.4,425.4 203.8,423.6 204.2,422.3 204.6,423.9 205.0,425.4 205.4,426.6 205.8,428.2 206.2,430.0 206.6,432.0 207.0,434.1 207.4,433.3 207.8,431.5 208.2,429.7 208.6,428.1 209.0,426.7 209.4,425.4 209.8,424.1 210.2,423.6 210.6,423.8 211.0,424.0 211.4,424.5 211.8,425.4 212.2,426.3 212.6,427.1 213.0,427.6 213.4,428.0 213.8,428.5 214.2,429.2 214.6,429.8 215.0,430.3 215.4,431.0 215.8,431.8 216.2,432.3 216.6,432.6 217.0,432.8 217.4,433.2 217.8,433.7 218.2,434.1 218.6,434.7 219.0,435.4 219.4,436.1 219.8,437.1 220.2,437.7 220.6,438.0 221.0,438.5 221.4,439.7 221.8,441.2 222.2,442.6 222.6,442.4 223.0,441.0 223.4,439.8 223.8,438.6 224.2,436.7 224.6,434.6 225.0,432.8 225.4,432.8 225.8,433.6 226.2,435.2 226.6,437.1 227.0,437.9 227.4,435.9 227.8,433.7 228.2,431.4 228.6,429.7 229.0,428.7 229.4,427.9 229.8,427.2 230.2,427.1 230.6,427.5 231.0,427.9 231.4,428.3 231.8,429.0 232.2,430.2 232.6,431.8 233.0,433.5 233.4,432.3 233.8,430.0 234.2,427.7 234.6,426.4 235.0,425.5 235.3,424.5 235.7,425.3 236.1,427.8 236.5,430.3 236.9,433.9 237.3,438.2 237.7,442.7 238.1,443.7 238.5,441.2 238.9,438.5 239.3,435.4 239.7,431.8 240.1,428.3 240.5,425.8 240.9,425.6 241.3,425.3 241.7,424.9 242.1,425.2 242.5,425.6 242.9,425.9 243.3,425.4 243.7,425.0 244.1,424.7 244.5,424.4 244.9,424.3 245.3,424.3 245.7,424.2 246.1,424.5 246.5,426.4 246.9,428.3 247.3,430.1 247.7,431.1 248.1,432.2 248.5,433.3 248.9,432.3 249.3,431.3 249.7,430.1 250.1,430.2 250.5,430.6 250.9,431.1 251.3,430.0 251.7,428.3 252.1,426.5 252.5,425.6 252.9,424.9 253.3,424.2 253.7,424.8 254.1,425.9 254.5,427.1 254.9,428.3 255.3,429.2 255.7,430.1 256.1,431.4 256.5,431.9 256.9,431.0 257.3,429.5 257.7,427.9 258.1,427.0 258.5,426.6 258.9,426.3 259.3,425.9 259.7,426.7 260.1,427.4 260.5,428.0 260.9,428.7 261.3,431.4 261.7,434.1 262.1,436.6 262.5,438.2 262.9,439.7 263.3,441.4 263.7,439.0 264.1,436.8 264.5,434.5 264.9,432.1 265.3,429.6 265.7,427.0 266.1,427.2 266.5,428.7 266.9,430.4 267.3,432.8 267.7,435.9 268.1,439.0 268.5,439.3 268.9,436.6 269.3,433.7 269.7,431.1 270.1,428.7 270.5,426.1 270.9,424.5 271.3,427.1 271.7,430.1 272.1,432.3 272.5,431.4 272.9,430.4 273.3,429.4 273.7,428.4 274.1,427.3 274.5,426.0 274.9,425.1 275.2,424.4 275.6,423.7 276.0,423.1 276.4,424.1 276.8,425.1 277.2,425.7 277.6,425.8 278.0,424.6 278.4,423.7 278.8,422.9 279.2,422.7 279.6,423.2 280.0,423.9 280.4,424.5 280.8,425.7 281.2,427.4 281.6,429.2 282.0,429.5 282.4,428.0 282.8,426.2 283.2,424.6 283.6,423.8 284.0,423.2 284.4,422.6 284.8,422.4 285.2,423.4 285.6,424.5 286.0,425.6 286.4,426.4 286.8,427.3 287.2,428.0 287.6,427.2 288.0,426.5 288.4,425.8 288.8,426.5 289.2,426.9 289.6,427.8 290.0,429.7 290.4,431.6 290.8,433.0 291.2,434.3 291.6,435.8 292.0,437.6 292.4,437.6 292.8,436.9 293.2,436.1 293.6,436.8 294.0,439.3 294.4,442.0 294.8,442.9 295.2,441.5 295.6,439.8 296.0,438.1 296.4,437.1 296.8,436.4 297.2,435.6 297.6,434.8 298.0,433.8 298.4,432.9 298.8,432.4 299.2,433.3 299.6,434.7 300.0,436.4 300.4,438.7 300.8,441.5 301.2,444.0 301.6,446.2 302.0,445.8 302.4,442.1 302.8,438.4 303.2,435.3 303.6,432.8 304.0,430.3 304.4,428.2 304.8,427.6 305.2,427.5 305.6,427.5 306.0,428.6 306.4,431.1 306.8,433.5 307.2,433.7 307.6,431.4 308.0,429.1 308.4,426.8 308.8,425.8 309.2,425.3 309.6,424.9 310.0,426.8 310.4,429.6 310.8,432.4 311.2,435.6 311.6,439.1 312.0,442.4 312.4,445.8 312.8,446.5 313.2,443.4 313.6,440.2 314.0,437.1 314.4,434.0 314.8,430.8 315.1,428.5 315.5,427.8 315.9,427.4 316.3,427.1 316.7,426.9 317.1,427.5 317.5,427.8 317.9,427.8 318.3,428.5 318.7,429.7 319.1,431.1 319.5,432.4 319.9,433.2 320.3,433.8 320.7,434.4 321.1,435.2 321.5,433.4 321.9,431.1 322.3,428.8 322.7,426.5 323.1,425.4 323.5,424.7 323.9,423.8 324.3,423.3 324.7,424.3 325.1,425.7 325.5,427.0 325.9,426.3 326.3,425.1 326.7,424.0 327.1,423.2 327.5,423.1 327.9,423.0 328.3,422.9 328.7,422.6 329.1,422.8 329.5,422.9 329.9,422.9 330.3,422.9 330.7,422.4 331.1,422.2 331.5,422.2 331.9,422.4 332.3,423.0 332.7,423.3 333.1,424.2 333.5,426.1 333.9,428.3 334.3,430.6 334.7,432.4 335.1,433.9 335.5,435.4 335.9,435.8 336.3,434.3 336.7,432.5 337.1,431.0 337.5,429.5 337.9,427.5 338.3,425.5 338.7,423.5 339.1,422.6 339.5,423.7 339.9,424.8 340.3,426.4 340.7,428.9 341.1,431.5 341.5,433.5 341.9,434.7 342.3,436.2 342.7,437.2 343.1,435.5 343.5,433.8 343.9,432.3 344.3,430.4 344.7,428.4 345.1,426.1 345.5,425.2 345.9,424.5 346.3,423.7 346.7,424.0 347.1,424.5 347.5,425.3 347.9,424.9 348.3,424.5 348.7,424.1 349.1,424.6 349.5,425.5 349.9,426.5 350.3,427.6 350.7,428.8 351.1,429.7 351.5,430.3 351.9,429.7 352.3,429.4 352.7,429.2 353.1,429.6 353.5,429.8 353.9,429.8 354.3,429.0 354.6,427.9 355.0,426.8 355.4,426.7 355.8,427.2 356.2,427.8 356.6,428.1 357.0,427.3 357.4,426.3 357.8,425.4 358.2,424.6 358.6,423.7 359.0,422.7 359.4,422.3 359.8,423.0 360.2,423.6 360.6,424.2 361.0,426.0 361.4,427.7 361.8,429.6 362.2,431.5 362.6,433.5 363.0,435.1 363.4,434.4 363.8,433.9 364.2,433.1 364.6,432.2 365.0,431.2 365.4,430.5 365.8,430.8 366.2,431.3 366.6,431.8 367.0,431.5 367.4,430.6 367.8,429.7 368.2,429.8 368.6,430.6 369.0,431.3 369.4,431.4 369.8,431.5 370.2,431.7 370.6,431.4 371.0,430.8 371.4,430.1 371.8,429.5 372.2,428.7 372.6,427.9 373.0,427.1 373.4,426.4 373.8,427.7 374.2,430.5 374.6,433.4 375.0,435.8 375.4,437.5 375.8,439.2 376.2,441.2 376.6,439.4 377.0,436.8 377.4,434.2 377.8,432.1 378.2,430.3 378.6,428.3 379.0,426.6 379.4,425.1 379.8,423.6 380.2,423.2 380.6,423.7 381.0,424.1 381.4,424.2 381.8,424.1 382.2,423.9 382.6,423.9 383.0,423.9 383.4,424.3 383.8,425.0 384.2,425.8 384.6,426.7 385.0,429.4 385.4,432.3 385.8,435.1 386.2,437.9 386.6,440.4 387.0,443.0 387.4,445.5 387.8,442.9 388.2,439.2 388.6,435.4 389.0,432.4 389.4,429.5 389.8,426.6 390.2,425.4 390.6,424.9 391.0,424.7 391.4,425.0 391.8,425.2 392.2,425.2 392.6,425.4 393.0,426.1 393.4,427.0 393.8,428.2 394.2,430.1 394.6,432.1 394.9,433.9 395.3,435.7 395.7,436.2 396.1,435.7 396.5,435.1 396.9,433.9 397.3,431.6 397.7,429.6 398.1,428.2 398.5,428.0 398.9,427.8 399.3,427.9 399.7,428.9 400.1,429.9 400.5,430.7 400.9,430.4 401.3,429.9 401.7,429.9 402.1,430.4 402.5,431.2 402.9,431.8 403.3,432.4 403.7,433.1 404.1,433.8 404.5,434.4 404.9,434.9 405.3,435.4 405.7,435.8 406.1,435.0 406.5,434.4 406.9,433.9 407.3,432.8 407.7,431.7 408.1,430.3 408.5,428.9 408.9,427.6 409.3,426.2 409.7,427.1 410.1,428.7 410.5,430.4 410.9,431.2 411.3,431.7 411.7,432.1 412.1,431.5 412.5,430.2 412.9,429.1 413.3,428.3 413.7,427.5 414.1,426.4 414.5,425.7 414.9,426.6 415.3,427.8 415.7,429.0 416.1,429.7 416.5,430.2 416.9,430.3 417.3,429.6 417.7,428.8 418.1,427.9 418.5,427.3 418.9,426.9 419.3,426.8 419.7,426.6 420.1,426.4 420.5,426.0 420.9,426.1 421.3,426.3 421.7,426.5 422.1,426.7 422.5,426.7 422.9,426.6 423.3,426.4 423.7,426.1 424.1,426.0 424.5,425.9 424.9,426.0 425.3,426.5 425.7,427.9 426.1,429.4 426.5,430.7 426.9,432.0 427.3,433.8 427.7,435.5 428.1,436.4 428.5,434.6 428.9,432.7 429.3,431.2 429.7,430.3 430.1,429.5 430.5,429.1 430.9,429.6 431.3,429.8 431.7,429.6 432.1,429.2 432.5,429.2 432.9,429.6 433.3,430.1 433.7,430.6 434.1,430.2 434.4,429.8 434.8,429.5 435.2,428.8 435.6,427.4 436.0,426.1 436.4,425.0 436.8,425.1 437.2,426.3 437.6,427.4 438.0,428.2 438.4,428.8 438.8,429.6 439.2,430.0 439.6,429.0 440.0,428.0 440.4,427.8 440.8,429.4 441.2,431.0 441.6,433.1 442.0,436.3 442.4,439.3 442.8,442.1 443.2,444.6 443.6,447.2 444.0,449.8 444.4,447.6 444.8,445.5 445.2,443.6 445.6,440.5 446.0,437.2 446.4,433.8 446.8,432.0 447.2,430.5 447.6,428.9 448.0,428.6 448.4,429.2 448.8,430.3 449.2,430.8 449.6,430.5 450.0,429.7 450.4,428.1 450.8,426.2 451.2,424.4 451.6,422.3 452.0,420.6 452.4,419.3 452.8,419.0 453.2,420.5" fill="none" stroke="#f06408" stroke-width="0.7" stroke-linejoin="round" clip-path="url(#cc0)"/>
<polyline points="55.4,81321237.5 56.0,46806237.5 56.6,26331237.5 57.4,8196237.5 58.2,6237.5 64.1,451.7 64.6,433.4 65.1,422.9 65.8,417.7 66.7,415.7 67.4,416.2 67.8,416.4 68.2,416.4 68.6,416.5 69.0,416.3 69.4,415.7 69.8,414.8 70.2,413.7 70.6,412.9 71.0,412.3 71.4,411.7 71.8,411.0 72.2,410.4 72.6,409.7 73.0,409.7 73.4,409.8 73.8,409.6 74.2,409.0 74.6,408.6 75.0,408.1 75.3,407.8 75.7,407.5 76.1,406.9 76.5,406.4 76.9,406.5 77.3,406.5 77.7,406.6 78.1,406.8 78.5,407.1 78.9,408.0 79.3,408.9 79.7,409.6 80.1,410.2 80.5,410.7 80.9,410.8 81.3,411.2 81.7,411.7 82.1,412.1 82.5,412.1 82.9,411.9 83.3,411.7 83.7,411.5 84.1,411.1 84.5,410.6 84.9,410.0 85.3,409.7 85.7,409.4 86.1,409.1 86.5,408.7 86.9,408.1 87.3,407.3 87.7,406.6 88.1,406.2 88.5,406.0 88.9,405.9 89.3,406.3 89.7,406.8 90.1,407.1 90.5,407.3 90.9,407.6 91.3,407.2 91.7,406.6 92.1,405.9 92.5,405.3 92.9,404.6 93.3,405.2 93.7,405.7 94.1,406.3 94.5,407.0 94.9,407.7 95.3,408.3 95.7,408.5 96.1,408.7 96.5,409.1 96.9,409.7 97.3,410.4 97.7,411.0 98.1,411.7 98.5,412.4 98.9,412.8 99.3,412.6 99.7,412.3 100.1,412.0 100.5,411.0 100.9,409.9 101.3,409.1 101.7,408.5 102.1,407.9 102.5,407.5 102.9,406.8 103.3,406.0 103.7,405.4 104.1,404.9 104.5,405.2 104.9,405.5 105.3,405.7 105.7,405.8 106.1,405.8 106.5,405.5 106.9,405.2 107.3,405.2 107.7,405.2 108.1,405.1 108.5,405.0 108.9,405.2 109.3,405.5 109.7,405.9 110.1,406.3 110.5,406.6 110.9,406.7 111.3,406.2 111.7,405.4 112.1,406.5 112.5,407.8 112.9,409.2 113.3,410.7 113.7,412.3 114.1,413.7 114.5,412.7 114.9,410.4 115.2,407.9 115.6,406.4 116.0,405.6 116.4,404.7 116.8,403.7 117.2,404.3 117.6,405.5 118.0,406.8 118.4,407.2 118.8,406.5 119.2,405.9 119.6,405.4 120.0,405.3 120.4,405.3 120.8,405.0 121.2,404.7 121.6,404.9 122.0,405.3 122.4,405.9 122.8,407.9 123.2,409.7 123.6,411.7 124.0,413.4 124.4,415.1 124.8,416.9 125.2,416.6 125.6,414.9 126.0,413.0 126.4,411.5 126.8,410.4 127.2,409.3 127.6,408.2 128.0,407.5 128.4,406.8 128.8,406.0 129.2,405.3 129.6,404.9 130.0,404.8 130.4,404.5 130.8,404.0 131.2,403.8 131.6,404.3 132.0,404.6 132.4,404.9 132.8,405.3 133.2,406.0 133.6,406.8 134.0,407.6 134.4,407.7 134.8,407.6 135.2,407.3 135.6,407.0 136.0,407.2 136.4,407.5 136.8,407.5 137.2,407.9 137.6,409.2 138.0,410.8 138.4,412.0 138.8,412.4 139.2,412.8 139.6,412.9 140.0,411.1 140.4,409.3 140.8,407.5 141.2,406.5 141.6,406.1 142.0,405.6 142.4,405.5 142.8,406.6 143.2,407.9 143.6,409.0 144.0,407.9 144.4,406.7 144.8,405.8 145.2,405.1 145.6,405.6 146.0,405.9 146.4,406.2 146.8,406.6 147.2,407.0 147.6,407.4 148.0,407.8 148.4,408.0 148.8,408.0 149.2,407.6 149.6,407.4 150.0,407.3 150.4,407.2 150.8,407.5 151.2,408.0 151.6,408.2 152.0,408.2 152.4,408.2 152.8,408.3 153.2,408.6 153.6,409.1 154.0,409.9 154.4,410.9 154.8,411.6 155.2,411.6 155.5,411.5 155.9,411.4 156.3,411.1 156.7,410.4 157.1,409.6 157.5,408.9 157.9,408.4 158.3,407.8 158.7,407.1 159.1,406.4 159.5,405.9 159.9,405.5 160.3,405.0 160.7,404.3 161.1,404.5 161.5,405.1 161.9,405.9 162.3,406.2 162.7,406.1 163.1,405.7 163.5,405.3 163.9,405.9 164.3,407.2 164.7,408.3 165.1,409.9 165.5,411.9 165.9,413.8 166.3,413.3 166.7,411.2 167.1,409.0 167.5,407.6 167.9,407.4 168.3,407.5 168.7,407.7 169.1,408.3 169.5,409.3 169.9,410.3 170.3,410.5 170.7,409.6 171.1,408.9 171.5,408.4 171.9,409.2 172.3,409.7 172.7,410.1 173.1,409.3 173.5,408.5 173.9,407.7 174.3,407.4 174.7,408.3 175.1,409.2 175.5,410.0 175.9,410.9 176.3,411.8 176.7,412.5 177.1,413.3 177.5,414.2 177.9,415.1 178.3,414.0 178.7,412.7 179.1,411.2 179.5,409.6 179.9,408.1 180.3,406.7 180.7,406.8 181.1,407.3 181.5,407.8 181.9,407.6 182.3,407.0 182.7,406.3 183.1,405.8 183.5,405.5 183.9,405.3 184.3,404.9 184.7,404.4 185.1,404.9 185.5,405.8 185.9,406.7 186.3,407.2 186.7,407.3 187.1,407.5 187.5,407.6 187.9,407.1 188.3,406.7 188.7,406.7 189.1,406.6 189.5,406.2 189.9,405.5 190.3,404.7 190.7,403.9 191.1,404.5 191.5,405.2 191.9,405.7 192.3,406.0 192.7,406.0 193.1,406.3 193.5,406.8 193.9,406.4 194.3,406.1 194.7,406.1 195.1,406.4 195.4,407.3 195.8,408.1 196.2,408.7 196.6,408.2 197.0,407.7 197.4,407.1 197.8,407.4 198.2,407.7 198.6,408.0 199.0,407.6 199.4,405.8 199.8,404.1 200.2,403.1 200.6,403.4 201.0,404.0 201.4,404.7 201.8,405.8 202.2,406.7 202.6,407.5 203.0,407.8 203.4,408.0 203.8,408.2 204.2,408.3 204.6,408.4 205.0,408.6 205.4,409.0 205.8,409.4 206.2,409.6 206.6,409.8 207.0,409.9 207.4,409.0 207.8,407.9 208.2,406.8 208.6,405.9 209.0,405.6 209.4,405.2 209.8,404.8 210.2,404.9 210.6,405.6 211.0,406.6 211.4,407.4 211.8,407.7 212.2,407.4 212.6,407.1 213.0,406.8 213.4,406.2 213.8,405.8 214.2,405.6 214.6,405.7 215.0,405.7 215.4,405.5 215.8,405.5 216.2,405.6 216.6,405.7 217.0,406.0 217.4,406.4 217.8,406.7 218.2,406.8 218.6,406.7 219.0,406.5 219.4,406.6 219.8,406.9 220.2,407.2 220.6,407.6 221.0,407.7 221.4,407.7 221.8,407.5 222.2,407.3 222.6,407.6 223.0,408.0 223.4,408.3 223.8,408.2 224.2,407.7 224.6,407.1 225.0,407.0 225.4,407.4 225.8,407.7 226.2,407.2 226.6,406.8 227.0,406.6 227.4,406.2 227.8,406.2 228.2,406.1 228.6,406.2 229.0,406.4 229.4,406.1 229.8,405.5 230.2,404.8 230.6,403.9 231.0,404.4 231.4,405.1 231.8,405.6 232.2,406.3 232.6,407.9 233.0,409.7 233.4,410.7 233.8,409.2 234.2,407.6 234.6,405.8 235.0,404.7 235.3,403.4 235.7,402.4 236.1,404.4 236.5,406.4 236.9,408.3 237.3,409.5 237.7,410.8 238.1,412.1 238.5,411.6 238.9,410.6 239.3,409.7 239.7,408.8 240.1,407.9 240.5,407.1 240.9,406.3 241.3,406.0 241.7,406.1 242.1,406.5 242.5,406.8 242.9,406.7 243.3,406.4 243.7,406.1 244.1,406.0 244.5,405.5 244.9,405.1 245.3,404.5 245.7,404.3 246.1,405.0 246.5,405.7 246.9,406.4 247.3,407.0 247.7,408.0 248.1,409.1 248.5,410.2 248.9,410.8 249.3,410.8 249.7,410.9 250.1,411.1 250.5,410.8 250.9,409.8 251.3,408.8 251.7,408.1 252.1,407.9 252.5,407.7 252.9,407.4 253.3,407.1 253.7,407.1 254.1,407.2 254.5,407.6 254.9,408.3 255.3,409.2 255.7,410.0 256.1,410.8 256.5,411.3 256.9,411.4 257.3,411.5 257.7,411.6 258.1,411.1 258.5,410.4 258.9,409.8 259.3,409.3 259.7,408.7 260.1,408.1 260.5,407.2 260.9,406.5 261.3,405.8 261.7,405.4 262.1,406.5 262.5,407.9 262.9,409.1 263.3,409.2 263.7,408.8 264.1,408.6 264.5,408.3 264.9,407.8 265.3,407.5 265.7,407.1 266.1,406.4 266.5,405.8 266.9,405.2 267.3,405.4 267.7,406.6 268.1,407.7 268.5,407.9 268.9,407.1 269.3,406.2 269.7,405.3 270.1,404.9 270.5,404.7 270.9,404.6 271.3,405.0 271.7,405.2 272.1,405.8 272.5,406.6 272.9,407.6 273.3,408.6 273.7,409.2 274.1,409.8 274.5,410.6 274.9,411.4 275.2,412.2 275.6,411.8 276.0,410.9 276.4,410.0 276.8,409.1 277.2,408.3 277.6,407.7 278.0,407.3 278.4,407.0 278.8,406.6 279.2,406.2 279.6,405.9 280.0,405.9 280.4,406.3 280.8,406.2 281.2,405.9 281.6,406.1 282.0,408.0 282.4,409.9 282.8,411.7 283.2,411.0 283.6,408.9 284.0,408.3 284.4,407.9 284.8,407.6 285.2,407.5 285.6,407.5 286.0,407.5 286.4,407.9 286.8,407.7 287.2,407.4 287.6,407.1 288.0,406.7 288.4,406.1 288.8,405.6 289.2,405.5 289.6,405.3 290.0,405.8 290.4,406.0 290.8,406.3 291.2,407.0 291.6,408.0 292.0,409.0 292.4,409.8 292.8,409.3 293.2,408.7 293.6,408.0 294.0,407.4 294.4,408.4 294.8,409.6 295.2,410.9 295.6,412.2 296.0,412.0 296.4,411.5 296.8,410.7 297.2,410.1 297.6,409.5 298.0,408.9 298.4,408.4 298.8,407.8 299.2,407.3 299.6,407.0 300.0,406.8 300.4,406.7 300.8,408.0 301.2,409.9 301.6,411.8 302.0,413.6 302.4,412.4 302.8,410.9 303.2,409.3 303.6,407.6 304.0,406.3 304.4,405.2 304.8,404.3 305.2,405.7 305.6,407.2 306.0,408.6 306.4,410.1 306.8,411.4 307.2,412.6 307.6,413.7 308.0,411.7 308.4,409.6 308.8,407.6 309.2,405.5 309.6,404.7 310.0,403.9 310.4,403.2 310.8,403.2 311.2,405.0 311.6,406.8 312.0,408.4 312.4,410.8 312.8,413.1 313.2,412.8 313.6,411.3 314.0,409.6 314.4,408.3 314.8,407.4 315.1,406.7 315.5,406.1 315.9,406.1 316.3,406.3 316.7,406.5 317.1,406.6 317.5,406.9 317.9,407.1 318.3,407.1 318.7,407.3 319.1,407.8 319.5,408.6 319.9,409.3 320.3,410.4 320.7,411.7 321.1,412.9 321.5,413.9 321.9,416.6 322.3,419.6 322.7,418.7 323.1,416.0 323.5,413.7 323.9,411.9 324.3,409.8 324.7,408.2 325.1,407.4 325.5,406.6 325.9,406.1 326.3,405.7 326.7,405.3 327.1,404.8 327.5,404.5 327.9,404.4 328.3,404.5 328.7,404.7 329.1,405.2 329.5,405.4 329.9,405.4 330.3,404.9 330.7,404.1 331.1,403.3 331.5,404.8 331.9,406.8 332.3,408.7 332.7,410.4 333.1,410.2 333.5,409.8 333.9,409.2 334.3,408.6 334.7,408.2 335.1,408.1 335.5,407.9 335.9,407.8 336.3,407.5 336.7,407.1 337.1,406.5 337.5,406.0 337.9,405.1 338.3,404.1 338.7,403.2 339.1,402.4 339.5,401.8 339.9,402.8 340.3,403.5 340.7,404.2 341.1,404.2 341.5,404.7 341.9,406.1 342.3,407.6 342.7,409.2 343.1,410.4 343.5,411.6 343.9,412.6 344.3,412.6 344.7,410.9 345.1,409.4 345.5,408.0 345.9,407.1 346.3,406.9 346.7,406.8 347.1,406.8 347.5,407.0 347.9,407.4 348.3,407.7 348.7,408.1 349.1,408.9 349.5,409.8 349.9,410.6 350.3,411.5 350.7,412.7 351.1,414.2 351.5,414.3 351.9,411.9 352.3,409.3 352.7,407.8 353.1,408.2 353.5,408.8 353.9,409.5 354.3,410.4 354.6,411.3 355.0,412.3 355.4,412.2 355.8,411.3 356.2,410.3 356.6,409.0 357.0,408.2 357.4,407.9 357.8,407.7 358.2,407.3 358.6,406.3 359.0,405.0 359.4,403.7 359.8,403.2 360.2,403.8 360.6,404.5 361.0,405.2 361.4,405.9 361.8,406.6 362.2,407.4 362.6,407.5 363.0,407.1 363.4,406.8 363.8,406.5 364.2,406.2 364.6,405.9 365.0,405.4 365.4,405.1 365.8,405.4 366.2,406.0 366.6,406.5 367.0,406.8 367.4,406.7 367.8,406.6 368.2,406.6 368.6,406.6 369.0,406.4 369.4,406.5 369.8,406.7 370.2,407.0 370.6,407.2 371.0,406.9 371.4,406.5 371.8,405.8 372.2,405.0 372.6,404.5 373.0,404.2 373.4,403.9 373.8,404.6 374.2,405.9 374.6,407.1 375.0,407.9 375.4,408.7 375.8,409.6 376.2,410.4 376.6,411.2 377.0,410.5 377.4,409.5 377.8,408.6 378.2,407.9 378.6,407.5 379.0,407.1 379.4,406.7 379.8,406.4 380.2,405.9 380.6,405.2 381.0,404.5 381.4,404.0 381.8,404.0 382.2,404.5 382.6,405.0 383.0,405.6 383.4,406.2 383.8,406.7 384.2,407.3 384.6,407.7 385.0,407.2 385.4,406.8 385.8,406.5 386.2,406.3 386.6,407.5 387.0,408.8 387.4,410.1 387.8,411.1 388.2,410.5 388.6,409.9 389.0,409.3 389.4,408.4 389.8,407.2 390.2,406.1 390.6,405.2 391.0,405.1 391.4,406.1 391.8,406.9 392.2,407.7 392.6,408.5 393.0,409.3 393.4,409.9 393.8,410.3 394.2,409.6 394.6,408.5 394.9,407.8 395.3,407.2 395.7,407.3 396.1,407.7 396.5,408.1 396.9,408.5 397.3,408.4 397.7,408.4 398.1,408.5 398.5,408.3 398.9,407.9 399.3,407.6 399.7,407.5 400.1,407.6 400.5,407.8 400.9,407.5 401.3,406.9 401.7,406.4 402.1,406.3 402.5,406.5 402.9,406.6 403.3,406.7 403.7,406.8 404.1,406.8 404.5,406.5 404.9,406.3 405.3,406.3 405.7,406.9 406.1,407.6 406.5,408.1 406.9,408.5 407.3,408.2 407.7,407.6 408.1,407.0 408.5,406.6 408.9,407.0 409.3,407.7 409.7,408.4 410.1,408.7 410.5,408.9 410.9,408.8 411.3,408.5 411.7,408.3 412.1,408.4 412.5,408.7 412.9,409.4 413.3,409.6 413.7,409.0 414.1,408.3 414.5,407.5 414.9,407.0 415.3,406.8 415.7,406.9 416.1,407.0 416.5,406.8 416.9,406.0 417.3,405.0 417.7,404.4 418.1,404.5 418.5,404.7 418.9,405.1 419.3,405.2 419.7,405.1 420.1,405.2 420.5,405.3 420.9,405.6 421.3,406.0 421.7,406.3 422.1,406.3 422.5,405.9 422.9,405.6 423.3,405.6 423.7,405.7 424.1,406.9 424.5,408.2 424.9,409.5 425.3,410.9 425.7,410.5 426.1,410.3 426.5,409.9 426.9,409.5 427.3,409.2 427.7,408.9 428.1,408.4 428.5,407.8 428.9,407.1 429.3,406.5 429.7,405.8 430.1,405.1 430.5,404.7 430.9,404.4 431.3,405.4 431.7,406.1 432.1,406.7 432.5,407.5 432.9,408.4 433.3,409.3 433.7,410.1 434.1,411.2 434.4,412.1 434.8,411.4 435.2,410.3 435.6,409.2 436.0,408.4 436.4,407.7 436.8,407.2 437.2,407.0 437.6,407.3 438.0,407.7 438.4,408.0 438.8,408.2 439.2,407.6 439.6,407.0 440.0,406.3 440.4,405.6 440.8,404.9 441.2,404.5 441.6,404.4 442.0,405.1 442.4,407.0 442.8,408.7 443.2,410.0 443.6,411.0 444.0,412.0 444.4,412.9 444.8,411.7 445.2,410.6 445.6,409.6 446.0,408.5 446.4,407.6 446.8,406.7 447.2,405.6 447.6,405.5 448.0,405.4 448.4,405.2 448.8,405.0 449.2,404.9 449.6,404.9 450.0,405.0 450.4,404.6 450.8,404.2 451.2,403.8 451.6,403.0 452.0,402.1 452.4,401.1 452.8,401.6 453.2,402.2" fill="none" stroke="#1f77b4" stroke-width="0.6" stroke-linejoin="round" clip-path="url(#cc0)"/>
<line x1="34.80" y1="381.20" x2="475.40" y2="381.20" stroke="#959595" stroke-width="1.5" />
<line x1="35.50" y1="380.50" x2="35.50" y2="452.10" stroke="#2e2e2e" stroke-width="1.5" />
<line x1="474.70" y1="380.50" x2="474.70" y2="452.10" stroke="#2e2e2e" stroke-width="1.5" />
<line x1="35.50" y1="446.00" x2="37.30" y2="446.00" stroke="#2e2e2e" stroke-width="0.7" />
<line x1="473.10" y1="446.00" x2="474.70" y2="446.00" stroke="#2e2e2e" stroke-width="0.7" />
<text transform="translate(34.23,448.40) scale(0.1100,0.1)" text-anchor="end" font-size="66.0" fill="#000" letter-spacing="3.00" stroke="#000" stroke-width="2.00">0.990</text>
<line x1="35.50" y1="434.30" x2="37.30" y2="434.30" stroke="#2e2e2e" stroke-width="0.7" />
<line x1="473.10" y1="434.30" x2="474.70" y2="434.30" stroke="#2e2e2e" stroke-width="0.7" />
<text transform="translate(34.23,436.70) scale(0.1100,0.1)" text-anchor="end" font-size="66.0" fill="#000" letter-spacing="3.00" stroke="#000" stroke-width="2.00">0.992</text>
<line x1="35.50" y1="422.60" x2="37.30" y2="422.60" stroke="#2e2e2e" stroke-width="0.7" />
<line x1="473.10" y1="422.60" x2="474.70" y2="422.60" stroke="#2e2e2e" stroke-width="0.7" />
<text transform="translate(34.23,425.00) scale(0.1100,0.1)" text-anchor="end" font-size="66.0" fill="#000" letter-spacing="3.00" stroke="#000" stroke-width="2.00">0.994</text>
<line x1="35.50" y1="410.90" x2="37.30" y2="410.90" stroke="#2e2e2e" stroke-width="0.7" />
<line x1="473.10" y1="410.90" x2="474.70" y2="410.90" stroke="#2e2e2e" stroke-width="0.7" />
<text transform="translate(34.23,413.30) scale(0.1100,0.1)" text-anchor="end" font-size="66.0" fill="#000" letter-spacing="3.00" stroke="#000" stroke-width="2.00">0.996</text>
<line x1="35.50" y1="399.20" x2="37.30" y2="399.20" stroke="#2e2e2e" stroke-width="0.7" />
<line x1="473.10" y1="399.20" x2="474.70" y2="399.20" stroke="#2e2e2e" stroke-width="0.7" />
<text transform="translate(34.23,401.60) scale(0.1100,0.1)" text-anchor="end" font-size="66.0" fill="#000" letter-spacing="3.00" stroke="#000" stroke-width="2.00">0.998</text>
<line x1="35.50" y1="387.50" x2="37.30" y2="387.50" stroke="#2e2e2e" stroke-width="0.7" />
<line x1="473.10" y1="387.50" x2="474.70" y2="387.50" stroke="#2e2e2e" stroke-width="0.7" />
<text transform="translate(34.23,389.90) scale(0.1100,0.1)" text-anchor="end" font-size="66.0" fill="#000" letter-spacing="3.00" stroke="#000" stroke-width="2.00">1.000</text>
<line x1="55.40" y1="381.20" x2="55.40" y2="383.00" stroke="#2e2e2e" stroke-width="0.8" />
<line x1="135.20" y1="381.20" x2="135.20" y2="383.00" stroke="#2e2e2e" stroke-width="0.8" />
<line x1="215.00" y1="381.20" x2="215.00" y2="383.00" stroke="#2e2e2e" stroke-width="0.8" />
<line x1="294.80" y1="381.20" x2="294.80" y2="383.00" stroke="#2e2e2e" stroke-width="0.8" />
<line x1="374.60" y1="381.20" x2="374.60" y2="383.00" stroke="#2e2e2e" stroke-width="0.8" />
<line x1="454.40" y1="381.20" x2="454.40" y2="383.00" stroke="#2e2e2e" stroke-width="0.8" />
<line x1="33.20" y1="452.70" x2="37.80" y2="451.50" stroke="#2e2e2e" stroke-width="0.75" />
<line x1="472.40" y1="452.70" x2="477.00" y2="451.50" stroke="#2e2e2e" stroke-width="0.75" />
<line x1="55.40" y1="459.20" x2="55.40" y2="529.70" stroke="#eaeaea" stroke-width="0.8" />
<line x1="135.20" y1="459.20" x2="135.20" y2="529.70" stroke="#eaeaea" stroke-width="0.8" />
<line x1="215.00" y1="459.20" x2="215.00" y2="529.70" stroke="#eaeaea" stroke-width="0.8" />
<line x1="294.80" y1="459.20" x2="294.80" y2="529.70" stroke="#eaeaea" stroke-width="0.8" />
<line x1="374.60" y1="459.20" x2="374.60" y2="529.70" stroke="#eaeaea" stroke-width="0.8" />
<line x1="454.40" y1="459.20" x2="454.40" y2="529.70" stroke="#eaeaea" stroke-width="0.8" />
<line x1="35.50" y1="529.70" x2="474.70" y2="529.70" stroke="#eaeaea" stroke-width="0.8" />
<line x1="35.50" y1="517.72" x2="474.70" y2="517.72" stroke="#eaeaea" stroke-width="0.8" />
<line x1="35.50" y1="505.74" x2="474.70" y2="505.74" stroke="#eaeaea" stroke-width="0.8" />
<line x1="35.50" y1="493.76" x2="474.70" y2="493.76" stroke="#eaeaea" stroke-width="0.8" />
<line x1="35.50" y1="481.78" x2="474.70" y2="481.78" stroke="#eaeaea" stroke-width="0.8" />
<line x1="35.50" y1="469.80" x2="474.70" y2="469.80" stroke="#eaeaea" stroke-width="0.8" />
<polyline points="55.5,529.1 56.0,500.9 56.6,472.6 57.7,458.8 58.2,457.8 64.1,457.8 64.8,457.8 65.4,457.8 66.5,457.8 67.4,457.8 67.8,457.8 68.2,457.8 68.6,457.8 69.0,457.8 69.4,457.8 69.8,457.8 70.2,457.8 70.6,457.8 71.0,457.8 71.4,457.8 71.8,457.8 72.2,457.8 72.6,457.8 73.0,457.8 73.4,457.8 73.8,457.8 74.2,457.8 74.6,457.8 75.0,457.8 75.3,457.8 75.7,457.8 76.1,457.8 76.5,457.8 76.9,457.8 77.3,457.8 77.7,457.8 78.1,457.8 78.5,457.8 78.9,457.8 79.3,457.8 79.7,457.8 80.1,457.8 80.5,457.8 80.9,457.8 81.3,457.8 81.7,457.8 82.1,457.8 82.5,457.8 82.9,457.8 83.3,457.8 83.7,457.8 84.1,457.8 84.5,457.8 84.9,457.8 85.3,457.8 85.7,457.8 86.1,457.8 86.5,457.8 86.9,457.8 87.3,457.8 87.7,457.8 88.1,457.8 88.5,457.8 88.9,457.8 89.3,457.8 89.7,457.8 90.1,457.8 90.5,457.8 90.9,457.8 91.3,457.8 91.7,457.8 92.1,457.8 92.5,457.8 92.9,457.8 93.3,457.8 93.7,457.8 94.1,457.8 94.5,457.8 94.9,457.8 95.3,457.8 95.7,457.8 96.1,457.8 96.5,457.8 96.9,457.8 97.3,457.8 97.7,457.8 98.1,457.8 98.5,457.8 98.9,457.8 99.3,457.8 99.7,457.8 100.1,457.8 100.5,457.8 100.9,457.8 101.3,457.8 101.7,457.8 102.1,457.8 102.5,457.8 102.9,457.8 103.3,457.8 103.7,457.8 104.1,457.8 104.5,457.8 104.9,457.8 105.3,457.8 105.7,457.8 106.1,457.8 106.5,457.8 106.9,457.8 107.3,457.8 107.7,457.8 108.1,457.8 108.5,457.8 108.9,457.8 109.3,457.8 109.7,457.8 110.1,457.8 110.5,457.8 110.9,457.8 111.3,457.8 111.7,457.8 112.1,457.8 112.5,457.8 112.9,457.8 113.3,457.8 113.7,457.8 114.1,457.8 114.5,457.8 114.9,457.8 115.2,457.8 115.6,457.8 116.0,457.8 116.4,457.8 116.8,457.8 117.2,457.8 117.6,457.8 118.0,457.8 118.4,457.8 118.8,457.8 119.2,457.8 119.6,457.8 120.0,457.8 120.4,457.8 120.8,457.8 121.2,457.8 121.6,457.8 122.0,457.8 122.4,457.8 122.8,457.8 123.2,457.8 123.6,457.8 124.0,457.8 124.4,457.8 124.8,457.8 125.2,457.8 125.6,457.8 126.0,457.8 126.4,457.8 126.8,457.8 127.2,457.8 127.6,457.8 128.0,457.8 128.4,457.8 128.8,457.8 129.2,457.8 129.6,457.8 130.0,457.8 130.4,457.8 130.8,457.8 131.2,457.8 131.6,457.8 132.0,457.8 132.4,457.8 132.8,457.8 133.2,457.8 133.6,457.8 134.0,457.8 134.4,457.8 134.8,457.8 135.2,457.8 135.6,457.8 136.0,457.8 136.4,457.8 136.8,457.8 137.2,457.8 137.6,457.8 138.0,457.8 138.4,457.8 138.8,457.8 139.2,457.8 139.6,457.8 140.0,457.8 140.4,457.8 140.8,457.8 141.2,457.8 141.6,457.8 142.0,457.8 142.4,457.8 142.8,457.8 143.2,457.8 143.6,457.8 144.0,457.8 144.4,457.8 144.8,457.8 145.2,457.8 145.6,457.8 146.0,457.8 146.4,457.8 146.8,457.8 147.2,457.8 147.6,457.8 148.0,457.8 148.4,457.8 148.8,457.8 149.2,457.8 149.6,457.8 150.0,457.8 150.4,457.8 150.8,457.8 151.2,457.8 151.6,457.8 152.0,457.8 152.4,457.8 152.8,457.8 153.2,457.8 153.6,457.8 154.0,457.8 154.4,457.8 154.8,457.8 155.2,457.8 155.5,457.8 155.9,457.8 156.3,457.8 156.7,457.8 157.1,457.8 157.5,457.8 157.9,457.8 158.3,457.8 158.7,457.8 159.1,457.8 159.5,457.8 159.9,457.8 160.3,457.8 160.7,457.8 161.1,457.8 161.5,457.8 161.9,457.8 162.3,457.8 162.7,457.8 163.1,457.8 163.5,457.8 163.9,457.8 164.3,457.8 164.7,457.8 165.1,457.8 165.5,457.8 165.9,457.8 166.3,457.8 166.7,457.8 167.1,457.8 167.5,457.8 167.9,457.8 168.3,457.8 168.7,457.8 169.1,457.8 169.5,457.8 169.9,457.8 170.3,457.8 170.7,457.8 171.1,457.8 171.5,457.8 171.9,457.8 172.3,457.8 172.7,457.8 173.1,457.8 173.5,457.8 173.9,457.8 174.3,457.8 174.7,457.8 175.1,457.8 175.5,457.8 175.9,457.8 176.3,457.8 176.7,457.8 177.1,457.8 177.5,457.8 177.9,457.8 178.3,457.8 178.7,457.8 179.1,457.8 179.5,457.8 179.9,457.8 180.3,457.8 180.7,457.8 181.1,457.8 181.5,457.8 181.9,457.8 182.3,457.8 182.7,457.8 183.1,457.8 183.5,457.8 183.9,457.8 184.3,457.8 184.7,457.8 185.1,457.8 185.5,457.8 185.9,457.8 186.3,457.8 186.7,457.8 187.1,457.8 187.5,457.8 187.9,457.8 188.3,457.8 188.7,457.8 189.1,457.8 189.5,457.8 189.9,457.8 190.3,457.8 190.7,457.8 191.1,457.8 191.5,457.8 191.9,457.8 192.3,457.8 192.7,457.8 193.1,457.8 193.5,457.8 193.9,457.8 194.3,457.8 194.7,457.8 195.1,457.8 195.4,457.8 195.8,457.8 196.2,457.8 196.6,457.8 197.0,457.8 197.4,457.8 197.8,457.8 198.2,457.8 198.6,457.8 199.0,457.8 199.4,457.8 199.8,457.8 200.2,457.8 200.6,457.8 201.0,457.8 201.4,457.8 201.8,457.8 202.2,457.8 202.6,457.8 203.0,457.8 203.4,457.8 203.8,457.8 204.2,457.8 204.6,457.8 205.0,457.8 205.4,457.8 205.8,457.8 206.2,457.8 206.6,457.8 207.0,457.8 207.4,457.8 207.8,457.8 208.2,457.8 208.6,457.8 209.0,457.8 209.4,457.8 209.8,457.8 210.2,457.8 210.6,457.8 211.0,457.8 211.4,457.8 211.8,457.8 212.2,457.8 212.6,457.8 213.0,457.8 213.4,457.8 213.8,457.8 214.2,457.8 214.6,457.8 215.0,457.8 215.4,457.8 215.8,457.8 216.2,457.8 216.6,457.8 217.0,457.8 217.4,457.8 217.8,457.8 218.2,457.8 218.6,457.8 219.0,457.8 219.4,457.8 219.8,457.8 220.2,457.8 220.6,457.8 221.0,457.8 221.4,457.8 221.8,457.8 222.2,457.8 222.6,457.8 223.0,457.8 223.4,457.8 223.8,457.8 224.2,457.8 224.6,457.8 225.0,457.8 225.4,457.8 225.8,457.8 226.2,457.8 226.6,457.8 227.0,457.8 227.4,457.8 227.8,457.8 228.2,457.8 228.6,457.8 229.0,457.8 229.4,457.8 229.8,457.8 230.2,457.8 230.6,457.8 231.0,457.8 231.4,457.8 231.8,457.8 232.2,457.8 232.6,457.8 233.0,457.8 233.4,457.8 233.8,457.8 234.2,457.8 234.6,457.8 235.0,457.8 235.3,457.8 235.7,457.8 236.1,457.8 236.5,457.8 236.9,457.8 237.3,457.8 237.7,457.8 238.1,457.8 238.5,457.8 238.9,457.8 239.3,457.8 239.7,457.8 240.1,457.8 240.5,457.8 240.9,457.8 241.3,457.8 241.7,457.8 242.1,457.8 242.5,457.8 242.9,457.8 243.3,457.8 243.7,457.8 244.1,457.8 244.5,457.8 244.9,457.8 245.3,457.8 245.7,457.8 246.1,457.8 246.5,457.8 246.9,457.8 247.3,457.8 247.7,457.8 248.1,457.8 248.5,457.8 248.9,457.8 249.3,457.8 249.7,457.8 250.1,457.8 250.5,457.8 250.9,457.8 251.3,457.8 251.7,457.8 252.1,457.8 252.5,457.8 252.9,457.8 253.3,457.8 253.7,457.8 254.1,457.8 254.5,457.8 254.9,457.8 255.3,457.8 255.7,457.8 256.1,457.8 256.5,457.8 256.9,457.8 257.3,457.8 257.7,457.8 258.1,457.8 258.5,457.8 258.9,457.8 259.3,457.8 259.7,457.8 260.1,457.8 260.5,457.8 260.9,457.8 261.3,457.8 261.7,457.8 262.1,457.8 262.5,457.8 262.9,457.8 263.3,457.8 263.7,457.8 264.1,457.8 264.5,457.8 264.9,457.8 265.3,457.8 265.7,457.8 266.1,457.8 266.5,457.8 266.9,457.8 267.3,457.8 267.7,457.8 268.1,457.8 268.5,457.8 268.9,457.8 269.3,457.8 269.7,457.8 270.1,457.8 270.5,457.8 270.9,457.8 271.3,457.8 271.7,457.8 272.1,457.8 272.5,457.8 272.9,457.8 273.3,457.8 273.7,457.8 274.1,457.8 274.5,457.8 274.9,457.8 275.2,457.8 275.6,457.8 276.0,457.8 276.4,457.8 276.8,457.8 277.2,457.8 277.6,457.8 278.0,457.8 278.4,457.8 278.8,457.8 279.2,457.8 279.6,457.8 280.0,457.8 280.4,457.8 280.8,457.8 281.2,457.8 281.6,457.8 282.0,457.8 282.4,457.8 282.8,457.8 283.2,457.8 283.6,457.8 284.0,457.8 284.4,457.8 284.8,457.8 285.2,457.8 285.6,457.8 286.0,457.8 286.4,457.8 286.8,457.8 287.2,457.8 287.6,457.8 288.0,457.8 288.4,457.8 288.8,457.8 289.2,457.8 289.6,457.8 290.0,457.8 290.4,457.8 290.8,457.8 291.2,457.8 291.6,457.8 292.0,457.8 292.4,457.8 292.8,457.8 293.2,457.8 293.6,457.8 294.0,457.8 294.4,457.8 294.8,457.8 295.2,457.8 295.6,457.8 296.0,457.8 296.4,457.8 296.8,457.8 297.2,457.8 297.6,457.8 298.0,457.8 298.4,457.8 298.8,457.8 299.2,457.8 299.6,457.8 300.0,457.8 300.4,457.8 300.8,457.8 301.2,457.8 301.6,457.8 302.0,457.8 302.4,457.8 302.8,457.8 303.2,457.8 303.6,457.8 304.0,457.8 304.4,457.8 304.8,457.8 305.2,457.8 305.6,457.8 306.0,457.8 306.4,457.8 306.8,457.8 307.2,457.8 307.6,457.8 308.0,457.8 308.4,457.8 308.8,457.8 309.2,457.8 309.6,457.8 310.0,457.8 310.4,457.8 310.8,457.8 311.2,457.8 311.6,457.8 312.0,457.8 312.4,457.8 312.8,457.8 313.2,457.8 313.6,457.8 314.0,457.8 314.4,457.8 314.8,457.8 315.1,457.8 315.5,457.8 315.9,457.8 316.3,457.8 316.7,457.8 317.1,457.8 317.5,457.8 317.9,457.8 318.3,457.8 318.7,457.8 319.1,457.8 319.5,457.8 319.9,457.8 320.3,457.8 320.7,457.8 321.1,457.8 321.5,457.8 321.9,457.8 322.3,457.8 322.7,457.8 323.1,457.8 323.5,457.8 323.9,457.8 324.3,457.8 324.7,457.8 325.1,457.8 325.5,457.8 325.9,457.8 326.3,457.8 326.7,457.8 327.1,457.8 327.5,457.8 327.9,457.8 328.3,457.8 328.7,457.8 329.1,457.8 329.5,457.8 329.9,457.8 330.3,457.8 330.7,457.8 331.1,457.8 331.5,457.8 331.9,457.8 332.3,457.8 332.7,457.8 333.1,457.8 333.5,457.8 333.9,457.8 334.3,457.8 334.7,457.8 335.1,457.8 335.5,457.8 335.9,457.8 336.3,457.8 336.7,457.8 337.1,457.8 337.5,457.8 337.9,457.8 338.3,457.8 338.7,457.8 339.1,457.8 339.5,457.8 339.9,457.8 340.3,457.8 340.7,457.8 341.1,457.8 341.5,457.8 341.9,457.8 342.3,457.8 342.7,457.8 343.1,457.8 343.5,457.8 343.9,457.8 344.3,457.8 344.7,457.8 345.1,457.8 345.5,457.8 345.9,457.8 346.3,457.8 346.7,457.8 347.1,457.8 347.5,457.8 347.9,457.8 348.3,457.8 348.7,457.8 349.1,457.8 349.5,457.8 349.9,457.8 350.3,457.8 350.7,457.8 351.1,457.8 351.5,457.8 351.9,457.8 352.3,457.8 352.7,457.8 353.1,457.8 353.5,457.8 353.9,457.8 354.3,457.8 354.6,457.8 355.0,457.8 355.4,457.8 355.8,457.8 356.2,457.8 356.6,457.8 357.0,457.8 357.4,457.8 357.8,457.8 358.2,457.8 358.6,457.8 359.0,457.8 359.4,457.8 359.8,457.8 360.2,457.8 360.6,457.8 361.0,457.8 361.4,457.8 361.8,457.8 362.2,457.8 362.6,457.8 363.0,457.8 363.4,457.8 363.8,457.8 364.2,457.8 364.6,457.8 365.0,457.8 365.4,457.8 365.8,457.8 366.2,457.8 366.6,457.8 367.0,457.8 367.4,457.8 367.8,457.8 368.2,457.8 368.6,457.8 369.0,457.8 369.4,457.8 369.8,457.8 370.2,457.8 370.6,457.8 371.0,457.8 371.4,457.8 371.8,457.8 372.2,457.8 372.6,457.8 373.0,457.8 373.4,457.8 373.8,457.8 374.2,457.8 374.6,457.8 375.0,457.8 375.4,457.8 375.8,457.8 376.2,457.8 376.6,457.8 377.0,457.8 377.4,457.8 377.8,457.8 378.2,457.8 378.6,457.8 379.0,457.8 379.4,457.8 379.8,457.8 380.2,457.8 380.6,457.8 381.0,457.8 381.4,457.8 381.8,457.8 382.2,457.8 382.6,457.8 383.0,457.8 383.4,457.8 383.8,457.8 384.2,457.8 384.6,457.8 385.0,457.8 385.4,457.8 385.8,457.8 386.2,457.8 386.6,457.8 387.0,457.8 387.4,457.8 387.8,457.8 388.2,457.8 388.6,457.8 389.0,457.8 389.4,457.8 389.8,457.8 390.2,457.8 390.6,457.8 391.0,457.8 391.4,457.8 391.8,457.8 392.2,457.8 392.6,457.8 393.0,457.8 393.4,457.8 393.8,457.8 394.2,457.8 394.6,457.8 394.9,457.8 395.3,457.8 395.7,457.8 396.1,457.8 396.5,457.8 396.9,457.8 397.3,457.8 397.7,457.8 398.1,457.8 398.5,457.8 398.9,457.8 399.3,457.8 399.7,457.8 400.1,457.8 400.5,457.8 400.9,457.8 401.3,457.8 401.7,457.8 402.1,457.8 402.5,457.8 402.9,457.8 403.3,457.8 403.7,457.8 404.1,457.8 404.5,457.8 404.9,457.8 405.3,457.8 405.7,457.8 406.1,457.8 406.5,457.8 406.9,457.8 407.3,457.8 407.7,457.8 408.1,457.8 408.5,457.8 408.9,457.8 409.3,457.8 409.7,457.8 410.1,457.8 410.5,457.8 410.9,457.8 411.3,457.8 411.7,457.8 412.1,457.8 412.5,457.8 412.9,457.8 413.3,457.8 413.7,457.8 414.1,457.8 414.5,457.8 414.9,457.8 415.3,457.8 415.7,457.8 416.1,457.8 416.5,457.8 416.9,457.8 417.3,457.8 417.7,457.8 418.1,457.8 418.5,457.8 418.9,457.8 419.3,457.8 419.7,457.8 420.1,457.8 420.5,457.8 420.9,457.8 421.3,457.8 421.7,457.8 422.1,457.8 422.5,457.8 422.9,457.8 423.3,457.8 423.7,457.8 424.1,457.8 424.5,457.8 424.9,457.8 425.3,457.8 425.7,457.8 426.1,457.8 426.5,457.8 426.9,457.8 427.3,457.8 427.7,457.8 428.1,457.8 428.5,457.8 428.9,457.8 429.3,457.8 429.7,457.8 430.1,457.8 430.5,457.8 430.9,457.8 431.3,457.8 431.7,457.8 432.1,457.8 432.5,457.8 432.9,457.8 433.3,457.8 433.7,457.8 434.1,457.8 434.4,457.8 434.8,457.8 435.2,457.8 435.6,457.8 436.0,457.8 436.4,457.8 436.8,457.8 437.2,457.8 437.6,457.8 438.0,457.8 438.4,457.8 438.8,457.8 439.2,457.8 439.6,457.8 440.0,457.8 440.4,457.8 440.8,457.8 441.2,457.8 441.6,457.8 442.0,457.8 442.4,457.8 442.8,457.8 443.2,457.8 443.6,457.8 444.0,457.8 444.4,457.8 444.8,457.8 445.2,457.8 445.6,457.8 446.0,457.8 446.4,457.8 446.8,457.8 447.2,457.8 447.6,457.8 448.0,457.8 448.4,457.8 448.8,457.8 449.2,457.8 449.6,457.8 450.0,457.8 450.4,457.8 450.8,457.8 451.2,457.8 451.6,457.8 452.0,457.8 452.4,457.8 452.8,457.8 453.2,457.8" fill="none" stroke="#f06408" stroke-width="0.7" stroke-linejoin="round" clip-path="url(#cc1)"/>
<polyline points="55.4,474.5 56.0,467.4 56.6,463.2 57.4,459.5 58.2,457.8 64.1,457.8 64.6,457.8 65.1,457.8 65.8,457.8 66.7,457.8 67.4,457.8 67.8,457.8 68.2,457.8 68.6,457.8 69.0,457.8 69.4,457.8 69.8,457.8 70.2,457.8 70.6,457.8 71.0,457.8 71.4,457.8 71.8,457.8 72.2,457.8 72.6,457.8 73.0,457.8 73.4,457.8 73.8,457.8 74.2,457.8 74.6,457.8 75.0,457.8 75.3,457.8 75.7,457.8 76.1,457.8 76.5,457.8 76.9,457.8 77.3,457.8 77.7,457.8 78.1,457.8 78.5,457.8 78.9,457.8 79.3,457.8 79.7,457.8 80.1,457.8 80.5,457.8 80.9,457.8 81.3,457.8 81.7,457.8 82.1,457.8 82.5,457.8 82.9,457.8 83.3,457.8 83.7,457.8 84.1,457.8 84.5,457.8 84.9,457.8 85.3,457.8 85.7,457.8 86.1,457.8 86.5,457.8 86.9,457.8 87.3,457.8 87.7,457.8 88.1,457.8 88.5,457.8 88.9,457.8 89.3,457.8 89.7,457.8 90.1,457.8 90.5,457.8 90.9,457.8 91.3,457.8 91.7,457.8 92.1,457.8 92.5,457.8 92.9,457.8 93.3,457.8 93.7,457.8 94.1,457.8 94.5,457.8 94.9,457.8 95.3,457.8 95.7,457.8 96.1,457.8 96.5,457.8 96.9,457.8 97.3,457.8 97.7,457.8 98.1,457.8 98.5,457.8 98.9,457.8 99.3,457.8 99.7,457.8 100.1,457.8 100.5,457.8 100.9,457.8 101.3,457.8 101.7,457.8 102.1,457.8 102.5,457.8 102.9,457.8 103.3,457.8 103.7,457.8 104.1,457.8 104.5,457.8 104.9,457.8 105.3,457.8 105.7,457.8 106.1,457.8 106.5,457.8 106.9,457.8 107.3,457.8 107.7,457.8 108.1,457.8 108.5,457.8 108.9,457.8 109.3,457.8 109.7,457.8 110.1,457.8 110.5,457.8 110.9,457.8 111.3,457.8 111.7,457.8 112.1,457.8 112.5,457.8 112.9,457.8 113.3,457.8 113.7,457.8 114.1,457.8 114.5,457.8 114.9,457.8 115.2,457.8 115.6,457.8 116.0,457.8 116.4,457.8 116.8,457.8 117.2,457.8 117.6,457.8 118.0,457.8 118.4,457.8 118.8,457.8 119.2,457.8 119.6,457.8 120.0,457.8 120.4,457.8 120.8,457.8 121.2,457.8 121.6,457.8 122.0,457.8 122.4,457.8 122.8,457.8 123.2,457.8 123.6,457.8 124.0,457.8 124.4,457.8 124.8,457.8 125.2,457.8 125.6,457.8 126.0,457.8 126.4,457.8 126.8,457.8 127.2,457.8 127.6,457.8 128.0,457.8 128.4,457.8 128.8,457.8 129.2,457.8 129.6,457.8 130.0,457.8 130.4,457.8 130.8,457.8 131.2,457.8 131.6,457.8 132.0,457.8 132.4,457.8 132.8,457.8 133.2,457.8 133.6,457.8 134.0,457.8 134.4,457.8 134.8,457.8 135.2,457.8 135.6,457.8 136.0,457.8 136.4,457.8 136.8,457.8 137.2,457.8 137.6,457.8 138.0,457.8 138.4,457.8 138.8,457.8 139.2,457.8 139.6,457.8 140.0,457.8 140.4,457.8 140.8,457.8 141.2,457.8 141.6,457.8 142.0,457.8 142.4,457.8 142.8,457.8 143.2,457.8 143.6,457.8 144.0,457.8 144.4,457.8 144.8,457.8 145.2,457.8 145.6,457.8 146.0,457.8 146.4,457.8 146.8,457.8 147.2,457.8 147.6,457.8 148.0,457.8 148.4,457.8 148.8,457.8 149.2,457.8 149.6,457.8 150.0,457.8 150.4,457.8 150.8,457.8 151.2,457.8 151.6,457.8 152.0,457.8 152.4,457.8 152.8,457.8 153.2,457.8 153.6,457.8 154.0,457.8 154.4,457.8 154.8,457.8 155.2,457.8 155.5,457.8 155.9,457.8 156.3,457.8 156.7,457.8 157.1,457.8 157.5,457.8 157.9,457.8 158.3,457.8 158.7,457.8 159.1,457.8 159.5,457.8 159.9,457.8 160.3,457.8 160.7,457.8 161.1,457.8 161.5,457.8 161.9,457.8 162.3,457.8 162.7,457.8 163.1,457.8 163.5,457.8 163.9,457.8 164.3,457.8 164.7,457.8 165.1,457.8 165.5,457.8 165.9,457.8 166.3,457.8 166.7,457.8 167.1,457.8 167.5,457.8 167.9,457.8 168.3,457.8 168.7,457.8 169.1,457.8 169.5,457.8 169.9,457.8 170.3,457.8 170.7,457.8 171.1,457.8 171.5,457.8 171.9,457.8 172.3,457.8 172.7,457.8 173.1,457.8 173.5,457.8 173.9,457.8 174.3,457.8 174.7,457.8 175.1,457.8 175.5,457.8 175.9,457.8 176.3,457.8 176.7,457.8 177.1,457.8 177.5,457.8 177.9,457.8 178.3,457.8 178.7,457.8 179.1,457.8 179.5,457.8 179.9,457.8 180.3,457.8 180.7,457.8 181.1,457.8 181.5,457.8 181.9,457.8 182.3,457.8 182.7,457.8 183.1,457.8 183.5,457.8 183.9,457.8 184.3,457.8 184.7,457.8 185.1,457.8 185.5,457.8 185.9,457.8 186.3,457.8 186.7,457.8 187.1,457.8 187.5,457.8 187.9,457.8 188.3,457.8 188.7,457.8 189.1,457.8 189.5,457.8 189.9,457.8 190.3,457.8 190.7,457.8 191.1,457.8 191.5,457.8 191.9,457.8 192.3,457.8 192.7,457.8 193.1,457.8 193.5,457.8 193.9,457.8 194.3,457.8 194.7,457.8 195.1,457.8 195.4,457.8 195.8,457.8 196.2,457.8 196.6,457.8 197.0,457.8 197.4,457.8 197.8,457.8 198.2,457.8 198.6,457.8 199.0,457.8 199.4,457.8 199.8,457.8 200.2,457.8 200.6,457.8 201.0,457.8 201.4,457.8 201.8,457.8 202.2,457.8 202.6,457.8 203.0,457.8 203.4,457.8 203.8,457.8 204.2,457.8 204.6,457.8 205.0,457.8 205.4,457.8 205.8,457.8 206.2,457.8 206.6,457.8 207.0,457.8 207.4,457.8 207.8,457.8 208.2,457.8 208.6,457.8 209.0,457.8 209.4,457.8 209.8,457.8 210.2,457.8 210.6,457.8 211.0,457.8 211.4,457.8 211.8,457.8 212.2,457.8 212.6,457.8 213.0,457.8 213.4,457.8 213.8,457.8 214.2,457.8 214.6,457.8 215.0,457.8 215.4,457.8 215.8,457.8 216.2,457.8 216.6,457.8 217.0,457.8 217.4,457.8 217.8,457.8 218.2,457.8 218.6,457.8 219.0,457.8 219.4,457.8 219.8,457.8 220.2,457.8 220.6,457.8 221.0,457.8 221.4,457.8 221.8,457.8 222.2,457.8 222.6,457.8 223.0,457.8 223.4,457.8 223.8,457.8 224.2,457.8 224.6,457.8 225.0,457.8 225.4,457.8 225.8,457.8 226.2,457.8 226.6,457.8 227.0,457.8 227.4,457.8 227.8,457.8 228.2,457.8 228.6,457.8 229.0,457.8 229.4,457.8 229.8,457.8 230.2,457.8 230.6,457.8 231.0,457.8 231.4,457.8 231.8,457.8 232.2,457.8 232.6,457.8 233.0,457.8 233.4,457.8 233.8,457.8 234.2,457.8 234.6,457.8 235.0,457.8 235.3,457.8 235.7,457.8 236.1,457.8 236.5,457.8 236.9,457.8 237.3,457.8 237.7,457.8 238.1,457.8 238.5,457.8 238.9,457.8 239.3,457.8 239.7,457.8 240.1,457.8 240.5,457.8 240.9,457.8 241.3,457.8 241.7,457.8 242.1,457.8 242.5,457.8 242.9,457.8 243.3,457.8 243.7,457.8 244.1,457.8 244.5,457.8 244.9,457.8 245.3,457.8 245.7,457.8 246.1,457.8 246.5,457.8 246.9,457.8 247.3,457.8 247.7,457.8 248.1,457.8 248.5,457.8 248.9,457.8 249.3,457.8 249.7,457.8 250.1,457.8 250.5,457.8 250.9,457.8 251.3,457.8 251.7,457.8 252.1,457.8 252.5,457.8 252.9,457.8 253.3,457.8 253.7,457.8 254.1,457.8 254.5,457.8 254.9,457.8 255.3,457.8 255.7,457.8 256.1,457.8 256.5,457.8 256.9,457.8 257.3,457.8 257.7,457.8 258.1,457.8 258.5,457.8 258.9,457.8 259.3,457.8 259.7,457.8 260.1,457.8 260.5,457.8 260.9,457.8 261.3,457.8 261.7,457.8 262.1,457.8 262.5,457.8 262.9,457.8 263.3,457.8 263.7,457.8 264.1,457.8 264.5,457.8 264.9,457.8 265.3,457.8 265.7,457.8 266.1,457.8 266.5,457.8 266.9,457.8 267.3,457.8 267.7,457.8 268.1,457.8 268.5,457.8 268.9,457.8 269.3,457.8 269.7,457.8 270.1,457.8 270.5,457.8 270.9,457.8 271.3,457.8 271.7,457.8 272.1,457.8 272.5,457.8 272.9,457.8 273.3,457.8 273.7,457.8 274.1,457.8 274.5,457.8 274.9,457.8 275.2,457.8 275.6,457.8 276.0,457.8 276.4,457.8 276.8,457.8 277.2,457.8 277.6,457.8 278.0,457.8 278.4,457.8 278.8,457.8 279.2,457.8 279.6,457.8 280.0,457.8 280.4,457.8 280.8,457.8 281.2,457.8 281.6,457.8 282.0,457.8 282.4,457.8 282.8,457.8 283.2,457.8 283.6,457.8 284.0,457.8 284.4,457.8 284.8,457.8 285.2,457.8 285.6,457.8 286.0,457.8 286.4,457.8 286.8,457.8 287.2,457.8 287.6,457.8 288.0,457.8 288.4,457.8 288.8,457.8 289.2,457.8 289.6,457.8 290.0,457.8 290.4,457.8 290.8,457.8 291.2,457.8 291.6,457.8 292.0,457.8 292.4,457.8 292.8,457.8 293.2,457.8 293.6,457.8 294.0,457.8 294.4,457.8 294.8,457.8 295.2,457.8 295.6,457.8 296.0,457.8 296.4,457.8 296.8,457.8 297.2,457.8 297.6,457.8 298.0,457.8 298.4,457.8 298.8,457.8 299.2,457.8 299.6,457.8 300.0,457.8 300.4,457.8 300.8,457.8 301.2,457.8 301.6,457.8 302.0,457.8 302.4,457.8 302.8,457.8 303.2,457.8 303.6,457.8 304.0,457.8 304.4,457.8 304.8,457.8 305.2,457.8 305.6,457.8 306.0,457.8 306.4,457.8 306.8,457.8 307.2,457.8 307.6,457.8 308.0,457.8 308.4,457.8 308.8,457.8 309.2,457.8 309.6,457.8 310.0,457.8 310.4,457.8 310.8,457.8 311.2,457.8 311.6,457.8 312.0,457.8 312.4,457.8 312.8,457.8 313.2,457.8 313.6,457.8 314.0,457.8 314.4,457.8 314.8,457.8 315.1,457.8 315.5,457.8 315.9,457.8 316.3,457.8 316.7,457.8 317.1,457.8 317.5,457.8 317.9,457.8 318.3,457.8 318.7,457.8 319.1,457.8 319.5,457.8 319.9,457.8 320.3,457.8 320.7,457.8 321.1,457.8 321.5,457.8 321.9,457.8 322.3,457.8 322.7,457.8 323.1,457.8 323.5,457.8 323.9,457.8 324.3,457.8 324.7,457.8 325.1,457.8 325.5,457.8 325.9,457.8 326.3,457.8 326.7,457.8 327.1,457.8 327.5,457.8 327.9,457.8 328.3,457.8 328.7,457.8 329.1,457.8 329.5,457.8 329.9,457.8 330.3,457.8 330.7,457.8 331.1,457.8 331.5,457.8 331.9,457.8 332.3,457.8 332.7,457.8 333.1,457.8 333.5,457.8 333.9,457.8 334.3,457.8 334.7,457.8 335.1,457.8 335.5,457.8 335.9,457.8 336.3,457.8 336.7,457.8 337.1,457.8 337.5,457.8 337.9,457.8 338.3,457.8 338.7,457.8 339.1,457.8 339.5,457.8 339.9,457.8 340.3,457.8 340.7,457.8 341.1,457.8 341.5,457.8 341.9,457.8 342.3,457.8 342.7,457.8 343.1,457.8 343.5,457.8 343.9,457.8 344.3,457.8 344.7,457.8 345.1,457.8 345.5,457.8 345.9,457.8 346.3,457.8 346.7,457.8 347.1,457.8 347.5,457.8 347.9,457.8 348.3,457.8 348.7,457.8 349.1,457.8 349.5,457.8 349.9,457.8 350.3,457.8 350.7,457.8 351.1,457.8 351.5,457.8 351.9,457.8 352.3,457.8 352.7,457.8 353.1,457.8 353.5,457.8 353.9,457.8 354.3,457.8 354.6,457.8 355.0,457.8 355.4,457.8 355.8,457.8 356.2,457.8 356.6,457.8 357.0,457.8 357.4,457.8 357.8,457.8 358.2,457.8 358.6,457.8 359.0,457.8 359.4,457.8 359.8,457.8 360.2,457.8 360.6,457.8 361.0,457.8 361.4,457.8 361.8,457.8 362.2,457.8 362.6,457.8 363.0,457.8 363.4,457.8 363.8,457.8 364.2,457.8 364.6,457.8 365.0,457.8 365.4,457.8 365.8,457.8 366.2,457.8 366.6,457.8 367.0,457.8 367.4,457.8 367.8,457.8 368.2,457.8 368.6,457.8 369.0,457.8 369.4,457.8 369.8,457.8 370.2,457.8 370.6,457.8 371.0,457.8 371.4,457.8 371.8,457.8 372.2,457.8 372.6,457.8 373.0,457.8 373.4,457.8 373.8,457.8 374.2,457.8 374.6,457.8 375.0,457.8 375.4,457.8 375.8,457.8 376.2,457.8 376.6,457.8 377.0,457.8 377.4,457.8 377.8,457.8 378.2,457.8 378.6,457.8 379.0,457.8 379.4,457.8 379.8,457.8 380.2,457.8 380.6,457.8 381.0,457.8 381.4,457.8 381.8,457.8 382.2,457.8 382.6,457.8 383.0,457.8 383.4,457.8 383.8,457.8 384.2,457.8 384.6,457.8 385.0,457.8 385.4,457.8 385.8,457.8 386.2,457.8 386.6,457.8 387.0,457.8 387.4,457.8 387.8,457.8 388.2,457.8 388.6,457.8 389.0,457.8 389.4,457.8 389.8,457.8 390.2,457.8 390.6,457.8 391.0,457.8 391.4,457.8 391.8,457.8 392.2,457.8 392.6,457.8 393.0,457.8 393.4,457.8 393.8,457.8 394.2,457.8 394.6,457.8 394.9,457.8 395.3,457.8 395.7,457.8 396.1,457.8 396.5,457.8 396.9,457.8 397.3,457.8 397.7,457.8 398.1,457.8 398.5,457.8 398.9,457.8 399.3,457.8 399.7,457.8 400.1,457.8 400.5,457.8 400.9,457.8 401.3,457.8 401.7,457.8 402.1,457.8 402.5,457.8 402.9,457.8 403.3,457.8 403.7,457.8 404.1,457.8 404.5,457.8 404.9,457.8 405.3,457.8 405.7,457.8 406.1,457.8 406.5,457.8 406.9,457.8 407.3,457.8 407.7,457.8 408.1,457.8 408.5,457.8 408.9,457.8 409.3,457.8 409.7,457.8 410.1,457.8 410.5,457.8 410.9,457.8 411.3,457.8 411.7,457.8 412.1,457.8 412.5,457.8 412.9,457.8 413.3,457.8 413.7,457.8 414.1,457.8 414.5,457.8 414.9,457.8 415.3,457.8 415.7,457.8 416.1,457.8 416.5,457.8 416.9,457.8 417.3,457.8 417.7,457.8 418.1,457.8 418.5,457.8 418.9,457.8 419.3,457.8 419.7,457.8 420.1,457.8 420.5,457.8 420.9,457.8 421.3,457.8 421.7,457.8 422.1,457.8 422.5,457.8 422.9,457.8 423.3,457.8 423.7,457.8 424.1,457.8 424.5,457.8 424.9,457.8 425.3,457.8 425.7,457.8 426.1,457.8 426.5,457.8 426.9,457.8 427.3,457.8 427.7,457.8 428.1,457.8 428.5,457.8 428.9,457.8 429.3,457.8 429.7,457.8 430.1,457.8 430.5,457.8 430.9,457.8 431.3,457.8 431.7,457.8 432.1,457.8 432.5,457.8 432.9,457.8 433.3,457.8 433.7,457.8 434.1,457.8 434.4,457.8 434.8,457.8 435.2,457.8 435.6,457.8 436.0,457.8 436.4,457.8 436.8,457.8 437.2,457.8 437.6,457.8 438.0,457.8 438.4,457.8 438.8,457.8 439.2,457.8 439.6,457.8 440.0,457.8 440.4,457.8 440.8,457.8 441.2,457.8 441.6,457.8 442.0,457.8 442.4,457.8 442.8,457.8 443.2,457.8 443.6,457.8 444.0,457.8 444.4,457.8 444.8,457.8 445.2,457.8 445.6,457.8 446.0,457.8 446.4,457.8 446.8,457.8 447.2,457.8 447.6,457.8 448.0,457.8 448.4,457.8 448.8,457.8 449.2,457.8 449.6,457.8 450.0,457.8 450.4,457.8 450.8,457.8 451.2,457.8 451.6,457.8 452.0,457.8 452.4,457.8 452.8,457.8 453.2,457.8" fill="none" stroke="#1f77b4" stroke-width="0.6" stroke-linejoin="round" clip-path="url(#cc1)"/>
<line x1="34.80" y1="530.05" x2="475.40" y2="530.05" stroke="#7a7a7a" stroke-width="1.7" />
<line x1="35.50" y1="459.20" x2="35.50" y2="530.80" stroke="#2e2e2e" stroke-width="1.5" />
<line x1="474.70" y1="459.20" x2="474.70" y2="530.80" stroke="#2e2e2e" stroke-width="1.5" />
<line x1="35.50" y1="529.70" x2="37.30" y2="529.70" stroke="#2e2e2e" stroke-width="0.7" />
<line x1="473.10" y1="529.70" x2="474.70" y2="529.70" stroke="#2e2e2e" stroke-width="0.7" />
<text transform="translate(34.23,532.10) scale(0.1100,0.1)" text-anchor="end" font-size="66.0" fill="#000" letter-spacing="3.00" stroke="#000" stroke-width="2.00"><tspan fill="#707070" stroke="#909090" stroke-width="2.00">−</tspan>60000</text>
<line x1="35.50" y1="517.72" x2="37.30" y2="517.72" stroke="#2e2e2e" stroke-width="0.7" />
<line x1="473.10" y1="517.72" x2="474.70" y2="517.72" stroke="#2e2e2e" stroke-width="0.7" />
<text transform="translate(34.23,520.12) scale(0.1100,0.1)" text-anchor="end" font-size="66.0" fill="#000" letter-spacing="3.00" stroke="#000" stroke-width="2.00"><tspan fill="#707070" stroke="#909090" stroke-width="2.00">−</tspan>50000</text>
<line x1="35.50" y1="505.74" x2="37.30" y2="505.74" stroke="#2e2e2e" stroke-width="0.7" />
<line x1="473.10" y1="505.74" x2="474.70" y2="505.74" stroke="#2e2e2e" stroke-width="0.7" />
<text transform="translate(34.23,508.14) scale(0.1100,0.1)" text-anchor="end" font-size="66.0" fill="#000" letter-spacing="3.00" stroke="#000" stroke-width="2.00"><tspan fill="#707070" stroke="#909090" stroke-width="2.00">−</tspan>40000</text>
<line x1="35.50" y1="493.76" x2="37.30" y2="493.76" stroke="#2e2e2e" stroke-width="0.7" />
<line x1="473.10" y1="493.76" x2="474.70" y2="493.76" stroke="#2e2e2e" stroke-width="0.7" />
<text transform="translate(34.23,496.16) scale(0.1100,0.1)" text-anchor="end" font-size="66.0" fill="#000" letter-spacing="3.00" stroke="#000" stroke-width="2.00"><tspan fill="#707070" stroke="#909090" stroke-width="2.00">−</tspan>30000</text>
<line x1="35.50" y1="481.78" x2="37.30" y2="481.78" stroke="#2e2e2e" stroke-width="0.7" />
<line x1="473.10" y1="481.78" x2="474.70" y2="481.78" stroke="#2e2e2e" stroke-width="0.7" />
<text transform="translate(34.23,484.18) scale(0.1100,0.1)" text-anchor="end" font-size="66.0" fill="#000" letter-spacing="3.00" stroke="#000" stroke-width="2.00"><tspan fill="#707070" stroke="#909090" stroke-width="2.00">−</tspan>20000</text>
<line x1="35.50" y1="469.80" x2="37.30" y2="469.80" stroke="#2e2e2e" stroke-width="0.7" />
<line x1="473.10" y1="469.80" x2="474.70" y2="469.80" stroke="#2e2e2e" stroke-width="0.7" />
<text transform="translate(34.23,472.20) scale(0.1100,0.1)" text-anchor="end" font-size="66.0" fill="#000" letter-spacing="3.00" stroke="#000" stroke-width="2.00"><tspan fill="#707070" stroke="#909090" stroke-width="2.00">−</tspan>10000</text>
<line x1="55.40" y1="527.90" x2="55.40" y2="529.70" stroke="#2e2e2e" stroke-width="0.8" />
<text transform="translate(55.56,535.30) scale(0.1100,0.1)" text-anchor="middle" font-size="66.0" fill="#000" letter-spacing="3.00" stroke="#000" stroke-width="2.00">0</text>
<line x1="135.20" y1="527.90" x2="135.20" y2="529.70" stroke="#2e2e2e" stroke-width="0.8" />
<text transform="translate(135.37,535.30) scale(0.1100,0.1)" text-anchor="middle" font-size="66.0" fill="#000" letter-spacing="3.00" stroke="#000" stroke-width="2.00">200</text>
<line x1="215.00" y1="527.90" x2="215.00" y2="529.70" stroke="#2e2e2e" stroke-width="0.8" />
<text transform="translate(215.17,535.30) scale(0.1100,0.1)" text-anchor="middle" font-size="66.0" fill="#000" letter-spacing="3.00" stroke="#000" stroke-width="2.00">400</text>
<line x1="294.80" y1="527.90" x2="294.80" y2="529.70" stroke="#2e2e2e" stroke-width="0.8" />
<text transform="translate(294.97,535.30) scale(0.1100,0.1)" text-anchor="middle" font-size="66.0" fill="#000" letter-spacing="3.00" stroke="#000" stroke-width="2.00">600</text>
<line x1="374.60" y1="527.90" x2="374.60" y2="529.70" stroke="#2e2e2e" stroke-width="0.8" />
<text transform="translate(374.77,535.30) scale(0.1100,0.1)" text-anchor="middle" font-size="66.0" fill="#000" letter-spacing="3.00" stroke="#000" stroke-width="2.00">800</text>
<line x1="454.40" y1="527.90" x2="454.40" y2="529.70" stroke="#2e2e2e" stroke-width="0.8" />
<text transform="translate(454.56,535.30) scale(0.1100,0.1)" text-anchor="middle" font-size="66.0" fill="#000" letter-spacing="3.00" stroke="#000" stroke-width="2.00">1000</text>
<line x1="33.20" y1="459.80" x2="37.80" y2="458.60" stroke="#2e2e2e" stroke-width="0.75" />
<line x1="472.40" y1="459.80" x2="477.00" y2="458.60" stroke="#2e2e2e" stroke-width="0.75" />
<text transform="translate(255.40,541.30) scale(0.1045,0.1)" text-anchor="middle" font-size="64.0" fill="#000" letter-spacing="3.00" stroke="#111" stroke-width="0.80">Number of Experiments</text>
<text transform="translate(14.30,456.40) rotate(-90) scale(0.1,0.1500)" text-anchor="middle" font-size="56.0" fill="#111">NSE</text>
<text transform="translate(41.50,388.90) scale(0.1100,0.1)" text-anchor="start" font-size="60.0" fill="#000" letter-spacing="3.00" stroke="#000" stroke-width="1.80">(c)</text>
<rect x="409.4" y="383.6" width="63" height="11.6" fill="#fff" fill-opacity="0.8" stroke="#d8d8d8" stroke-width="0.6" rx="1"/>
<line x1="412.40" y1="386.40" x2="424.00" y2="386.40" stroke="#f06408" stroke-width="0.5" stroke-opacity="0.7"/>
<line x1="412.40" y1="392.20" x2="424.00" y2="392.20" stroke="#1f77b4" stroke-width="0.5" stroke-opacity="0.7"/>
<text transform="translate(428.80,388.20) scale(0.1100,0.1)" text-anchor="start" font-size="50.0" fill="#000" letter-spacing="1.80" stroke="#1a1a1a" stroke-width="0.70">Original-4DVAR</text>
<text transform="translate(428.80,394.00) scale(0.1100,0.1)" text-anchor="start" font-size="50.0" fill="#000" letter-spacing="1.80" stroke="#1a1a1a" stroke-width="0.70">ML<tspan font-size="34.0" dy="10.0">ct</tspan><tspan dy="-10.0"> − 4DVAR</tspan></text>
</svg>
</body></html>
